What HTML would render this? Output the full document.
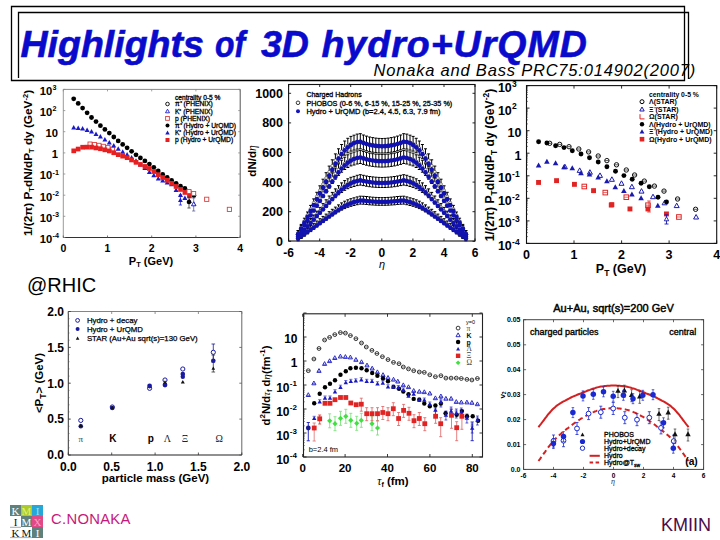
<!DOCTYPE html>
<html><head><meta charset="utf-8"><style>
html,body{margin:0;padding:0;background:#fff;}
body{width:720px;height:540px;position:relative;overflow:hidden;}
svg{position:absolute;left:0;top:0;}

</style></head><body>
<svg width="720" height="540" viewBox="0 0 720 540" font-family="Liberation Sans, sans-serif">
<path d="M11.5 6.5 H684.5 V80.5 H11.5 Z" fill="none" stroke="#000" stroke-width="1.3"/>
<path d="M18.5 78 V12.5 H688.5 V79" fill="none" stroke="#000" stroke-width="1.3"/>
<rect x="10" y="505" width="11" height="11" fill="#5f807b"/>
<text x="15.5" y="514.5" font-family="Liberation Serif" font-size="11" fill="#fff" text-anchor="middle">K</text>
<rect x="21" y="505" width="11" height="11" fill="#a9cc2c"/>
<text x="26.5" y="514.5" font-family="Liberation Serif" font-size="11" fill="#e8f070" text-anchor="middle">M</text>
<rect x="32" y="505" width="11" height="11" fill="#27a6d8"/>
<text x="37.5" y="514.5" font-family="Liberation Serif" font-size="11" fill="#9fe0f8" text-anchor="middle">I</text>
<rect x="10" y="516" width="11" height="11" fill="#ffffff"/>
<text x="15.5" y="525.5" font-family="Liberation Serif" font-size="11" fill="#111" text-anchor="middle">I</text>
<rect x="21" y="516" width="11" height="11" fill="#5f807b"/>
<text x="26.5" y="525.5" font-family="Liberation Serif" font-size="11" fill="#fff" text-anchor="middle">M</text>
<rect x="32" y="516" width="11" height="11" fill="#e04a86"/>
<text x="37.5" y="525.5" font-family="Liberation Serif" font-size="11" fill="#f8a0c0" text-anchor="middle">X</text>
<rect x="10" y="527" width="11" height="11" fill="#ffffff"/>
<text x="15.5" y="536.5" font-family="Liberation Serif" font-size="11" fill="#111" text-anchor="middle">K</text>
<rect x="21" y="527" width="11" height="11" fill="#ffffff"/>
<text x="26.5" y="536.5" font-family="Liberation Serif" font-size="11" fill="#111" text-anchor="middle">M</text>
<rect x="32" y="527" width="11" height="11" fill="#5f807b"/>
<text x="37.5" y="536.5" font-family="Liberation Serif" font-size="11" fill="#fff" text-anchor="middle">I</text>
<line x1="10" y1="527.3" x2="21" y2="527.3" stroke="#8a9a98" stroke-width="0.8"/>
<line x1="10" y1="537.6" x2="32" y2="537.6" stroke="#8a9a98" stroke-width="0.8"/>
<line x1="63.3" y1="89.4" x2="240.2" y2="89.4" stroke="#8a8a8a" stroke-width="1" />
<line x1="63.3" y1="89.4" x2="63.3" y2="237.5" stroke="#9a9a9a" stroke-width="1" />
<line x1="63.3" y1="237.5" x2="240.2" y2="237.5" stroke="#333" stroke-width="1.2" />
<line x1="240.2" y1="89.4" x2="240.2" y2="237.5" stroke="#555" stroke-width="1" />
<line x1="63.3" y1="89.4" x2="65.3" y2="89.4" stroke="#888" stroke-width="0.8" />
<line x1="238.2" y1="89.4" x2="240.2" y2="89.4" stroke="#888" stroke-width="0.8" />
<line x1="63.3" y1="110.6" x2="65.3" y2="110.6" stroke="#888" stroke-width="0.8" />
<line x1="238.2" y1="110.6" x2="240.2" y2="110.6" stroke="#888" stroke-width="0.8" />
<line x1="63.3" y1="131.7" x2="65.3" y2="131.7" stroke="#888" stroke-width="0.8" />
<line x1="238.2" y1="131.7" x2="240.2" y2="131.7" stroke="#888" stroke-width="0.8" />
<line x1="63.3" y1="152.9" x2="65.3" y2="152.9" stroke="#888" stroke-width="0.8" />
<line x1="238.2" y1="152.9" x2="240.2" y2="152.9" stroke="#888" stroke-width="0.8" />
<line x1="63.3" y1="174.0" x2="65.3" y2="174.0" stroke="#888" stroke-width="0.8" />
<line x1="238.2" y1="174.0" x2="240.2" y2="174.0" stroke="#888" stroke-width="0.8" />
<line x1="63.3" y1="195.2" x2="65.3" y2="195.2" stroke="#888" stroke-width="0.8" />
<line x1="238.2" y1="195.2" x2="240.2" y2="195.2" stroke="#888" stroke-width="0.8" />
<line x1="63.3" y1="216.3" x2="65.3" y2="216.3" stroke="#888" stroke-width="0.8" />
<line x1="238.2" y1="216.3" x2="240.2" y2="216.3" stroke="#888" stroke-width="0.8" />
<line x1="63.3" y1="237.5" x2="65.3" y2="237.5" stroke="#888" stroke-width="0.8" />
<line x1="238.2" y1="237.5" x2="240.2" y2="237.5" stroke="#888" stroke-width="0.8" />
<line x1="63.3" y1="237.5" x2="63.3" y2="235.5" stroke="#555" stroke-width="0.8" />
<line x1="63.3" y1="89.4" x2="63.3" y2="91.4" stroke="#888" stroke-width="0.8" />
<line x1="107.5" y1="237.5" x2="107.5" y2="235.5" stroke="#555" stroke-width="0.8" />
<line x1="107.5" y1="89.4" x2="107.5" y2="91.4" stroke="#888" stroke-width="0.8" />
<line x1="151.7" y1="237.5" x2="151.7" y2="235.5" stroke="#555" stroke-width="0.8" />
<line x1="151.7" y1="89.4" x2="151.7" y2="91.4" stroke="#888" stroke-width="0.8" />
<line x1="195.9" y1="237.5" x2="195.9" y2="235.5" stroke="#555" stroke-width="0.8" />
<line x1="195.9" y1="89.4" x2="195.9" y2="91.4" stroke="#888" stroke-width="0.8" />
<line x1="240.1" y1="237.5" x2="240.1" y2="235.5" stroke="#555" stroke-width="0.8" />
<line x1="240.1" y1="89.4" x2="240.1" y2="91.4" stroke="#888" stroke-width="0.8" />
<text x="52.3" y="94.7" font-size="11.2" font-weight="bold" text-anchor="end">10</text>
<text x="52.6" y="90.1" font-size="7.2" font-weight="bold">3</text>
<text x="52.3" y="115.9" font-size="11.2" font-weight="bold" text-anchor="end">10</text>
<text x="52.6" y="111.3" font-size="7.2" font-weight="bold">2</text>
<text x="58.0" y="137.0" font-size="11.2" font-weight="bold" text-anchor="end" fill="#000" >10</text>
<text x="58.0" y="158.2" font-size="11.2" font-weight="bold" text-anchor="end" fill="#000" >1</text>
<text x="52.3" y="179.3" font-size="11.2" font-weight="bold" text-anchor="end">10</text>
<text x="52.6" y="174.7" font-size="7.2" font-weight="bold">-1</text>
<text x="52.3" y="200.5" font-size="11.2" font-weight="bold" text-anchor="end">10</text>
<text x="52.6" y="195.9" font-size="7.2" font-weight="bold">-2</text>
<text x="52.3" y="221.6" font-size="11.2" font-weight="bold" text-anchor="end">10</text>
<text x="52.6" y="217.0" font-size="7.2" font-weight="bold">-3</text>
<text x="52.3" y="242.8" font-size="11.2" font-weight="bold" text-anchor="end">10</text>
<text x="52.6" y="238.2" font-size="7.2" font-weight="bold">-4</text>
<text x="63.3" y="251.5" font-size="10.5" font-weight="bold" text-anchor="middle" fill="#000" >0</text>
<text x="107.5" y="251.5" font-size="10.5" font-weight="bold" text-anchor="middle" fill="#000" >1</text>
<text x="151.7" y="251.5" font-size="10.5" font-weight="bold" text-anchor="middle" fill="#000" >2</text>
<text x="195.9" y="251.5" font-size="10.5" font-weight="bold" text-anchor="middle" fill="#000" >3</text>
<text x="240.1" y="251.5" font-size="10.5" font-weight="bold" text-anchor="middle" fill="#000" >4</text>
<text x="151" y="265" font-size="11" font-weight="bold" text-anchor="middle">P<tspan font-size="7.5" dy="2">T</tspan><tspan dy="-2"> (GeV)</tspan></text>
<text transform="translate(32,163) rotate(-90)" font-size="11.8" font-weight="bold" text-anchor="middle">1/(2π) P<tspan font-size="7.5" dy="2">T</tspan><tspan dy="-2">dN/dP</tspan><tspan font-size="7.5" dy="2">T</tspan><tspan dy="-2"> dy (GeV</tspan><tspan font-size="7.5" dy="-4">-2</tspan><tspan dy="4">)</tspan></text>
<rect x="88.0" y="142.0" width="4.0" height="4.0" fill="#fff" stroke="#e04040" stroke-width="0.9"/>
<rect x="92.5" y="142.5" width="4.0" height="4.0" fill="#fff" stroke="#e04040" stroke-width="0.9"/>
<rect x="97.0" y="143.3" width="4.0" height="4.0" fill="#fff" stroke="#e04040" stroke-width="0.9"/>
<rect x="101.5" y="144.3" width="4.0" height="4.0" fill="#fff" stroke="#e04040" stroke-width="0.9"/>
<rect x="106.0" y="145.4" width="4.0" height="4.0" fill="#fff" stroke="#e04040" stroke-width="0.9"/>
<rect x="110.5" y="147.1" width="4.0" height="4.0" fill="#fff" stroke="#e04040" stroke-width="0.9"/>
<circle cx="73.7" cy="98.8" r="2.4" fill="#000"/>
<circle cx="78.2" cy="103.4" r="2.4" fill="#000"/>
<circle cx="82.6" cy="108.1" r="2.4" fill="#000"/>
<circle cx="87.1" cy="112.8" r="2.4" fill="#000"/>
<circle cx="91.5" cy="117.5" r="2.4" fill="#000"/>
<circle cx="96.0" cy="121.6" r="2.4" fill="#000"/>
<circle cx="100.4" cy="125.7" r="2.4" fill="#000"/>
<circle cx="104.9" cy="129.4" r="2.4" fill="#000"/>
<circle cx="109.3" cy="133.1" r="2.4" fill="#000"/>
<circle cx="113.8" cy="137.0" r="2.4" fill="#000"/>
<circle cx="118.2" cy="140.9" r="2.4" fill="#000"/>
<circle cx="122.7" cy="144.4" r="2.4" fill="#000"/>
<circle cx="127.1" cy="147.8" r="2.4" fill="#000"/>
<circle cx="131.6" cy="151.3" r="2.4" fill="#000"/>
<circle cx="136.0" cy="154.8" r="2.4" fill="#000"/>
<circle cx="140.4" cy="157.9" r="2.4" fill="#000"/>
<circle cx="144.9" cy="160.9" r="2.4" fill="#000"/>
<circle cx="149.4" cy="164.1" r="2.4" fill="#000"/>
<circle cx="153.8" cy="167.3" r="2.4" fill="#000"/>
<circle cx="158.2" cy="170.9" r="2.4" fill="#000"/>
<circle cx="162.7" cy="174.4" r="2.4" fill="#000"/>
<circle cx="167.2" cy="177.4" r="2.4" fill="#000"/>
<circle cx="171.6" cy="180.5" r="2.4" fill="#000"/>
<circle cx="176.1" cy="183.3" r="2.4" fill="#000"/>
<circle cx="180.5" cy="186.2" r="2.4" fill="#000"/>
<circle cx="184.9" cy="188.5" r="2.4" fill="#000"/>
<circle cx="189.4" cy="192.1" r="2.4" fill="#000"/>
<circle cx="193.9" cy="195.6" r="2.4" fill="#000"/>
<path d="M73.7 125.0 L76.2 129.5 L71.2 129.5 Z" fill="#1a1acc"/>
<path d="M78.2 125.4 L80.7 129.9 L75.7 129.9 Z" fill="#1a1acc"/>
<path d="M82.6 125.9 L85.1 130.4 L80.1 130.4 Z" fill="#1a1acc"/>
<path d="M87.1 127.5 L89.6 132.0 L84.6 132.0 Z" fill="#1a1acc"/>
<path d="M91.5 129.1 L94.0 133.6 L89.0 133.6 Z" fill="#1a1acc"/>
<path d="M96.0 131.6 L98.5 136.1 L93.5 136.1 Z" fill="#1a1acc"/>
<path d="M100.4 134.0 L102.9 138.5 L97.9 138.5 Z" fill="#1a1acc"/>
<path d="M104.9 136.9 L107.4 141.4 L102.4 141.4 Z" fill="#1a1acc"/>
<path d="M109.3 139.9 L111.8 144.4 L106.8 144.4 Z" fill="#1a1acc"/>
<path d="M113.8 143.0 L116.2 147.5 L111.2 147.5 Z" fill="#1a1acc"/>
<path d="M118.2 146.2 L120.7 150.7 L115.7 150.7 Z" fill="#1a1acc"/>
<path d="M122.7 149.2 L125.2 153.7 L120.2 153.7 Z" fill="#1a1acc"/>
<path d="M127.1 152.1 L129.6 156.6 L124.6 156.6 Z" fill="#1a1acc"/>
<path d="M131.6 155.1 L134.1 159.6 L129.1 159.6 Z" fill="#1a1acc"/>
<path d="M136.0 158.2 L138.5 162.7 L133.5 162.7 Z" fill="#1a1acc"/>
<path d="M140.4 161.9 L142.9 166.4 L137.9 166.4 Z" fill="#1a1acc"/>
<path d="M144.9 165.6 L147.4 170.1 L142.4 170.1 Z" fill="#1a1acc"/>
<path d="M149.4 169.4 L151.9 173.9 L146.9 173.9 Z" fill="#1a1acc"/>
<path d="M153.8 172.8 L156.3 177.2 L151.3 177.2 Z" fill="#1a1acc"/>
<path d="M158.2 176.1 L160.8 180.6 L155.8 180.6 Z" fill="#1a1acc"/>
<path d="M162.7 178.0 L165.2 182.5 L160.2 182.5 Z" fill="#1a1acc"/>
<path d="M167.2 179.9 L169.7 184.4 L164.7 184.4 Z" fill="#1a1acc"/>
<path d="M171.6 181.8 L174.1 186.3 L169.1 186.3 Z" fill="#1a1acc"/>
<path d="M176.1 187.6 L178.6 192.1 L173.6 192.1 Z" fill="#1a1acc"/>
<path d="M180.5 192.6 L183.0 197.1 L178.0 197.1 Z" fill="#1a1acc"/>
<path d="M184.9 195.6 L187.4 200.1 L182.4 200.1 Z" fill="#1a1acc"/>
<path d="M189.4 198.6 L191.9 203.1 L186.9 203.1 Z" fill="#1a1acc"/>
<path d="M193.9 201.5 L196.4 206.0 L191.4 206.0 Z" fill="#1a1acc"/>
<rect x="71.4" y="148.5" width="4.7" height="4.7" fill="#e62020"/>
<rect x="75.8" y="146.7" width="4.7" height="4.7" fill="#e62020"/>
<rect x="80.3" y="144.9" width="4.7" height="4.7" fill="#e62020"/>
<rect x="84.7" y="144.8" width="4.7" height="4.7" fill="#e62020"/>
<rect x="89.2" y="144.8" width="4.7" height="4.7" fill="#e62020"/>
<rect x="93.6" y="145.6" width="4.7" height="4.7" fill="#e62020"/>
<rect x="98.1" y="146.4" width="4.7" height="4.7" fill="#e62020"/>
<rect x="102.5" y="147.5" width="4.7" height="4.7" fill="#e62020"/>
<rect x="107.0" y="148.6" width="4.7" height="4.7" fill="#e62020"/>
<rect x="111.4" y="150.4" width="4.7" height="4.7" fill="#e62020"/>
<rect x="115.9" y="152.3" width="4.7" height="4.7" fill="#e62020"/>
<rect x="120.3" y="153.8" width="4.7" height="4.7" fill="#e62020"/>
<rect x="124.8" y="155.3" width="4.7" height="4.7" fill="#e62020"/>
<rect x="129.2" y="157.6" width="4.7" height="4.7" fill="#e62020"/>
<rect x="133.7" y="160.0" width="4.7" height="4.7" fill="#e62020"/>
<rect x="138.1" y="162.1" width="4.7" height="4.7" fill="#e62020"/>
<rect x="142.6" y="164.1" width="4.7" height="4.7" fill="#e62020"/>
<rect x="147.0" y="166.1" width="4.7" height="4.7" fill="#e62020"/>
<rect x="151.5" y="169.2" width="4.7" height="4.7" fill="#e62020"/>
<rect x="155.9" y="172.3" width="4.7" height="4.7" fill="#e62020"/>
<rect x="160.3" y="175.2" width="4.7" height="4.7" fill="#e62020"/>
<rect x="164.8" y="178.0" width="4.7" height="4.7" fill="#e62020"/>
<rect x="169.3" y="181.0" width="4.7" height="4.7" fill="#e62020"/>
<rect x="173.7" y="184.1" width="4.7" height="4.7" fill="#e62020"/>
<rect x="178.2" y="187.1" width="4.7" height="4.7" fill="#e62020"/>
<rect x="182.6" y="190.1" width="4.7" height="4.7" fill="#e62020"/>
<rect x="187.1" y="193.6" width="4.7" height="4.7" fill="#e62020"/>
<line x1="180.4" y1="195.0" x2="180.4" y2="205.0" stroke="#1a1acc" stroke-width="0.8" />
<line x1="178.8" y1="195.0" x2="182.0" y2="195.0" stroke="#1a1acc" stroke-width="0.8" />
<line x1="178.8" y1="205.0" x2="182.0" y2="205.0" stroke="#1a1acc" stroke-width="0.8" />
<path d="M180.4 197.8 L182.8 202.1 L178.0 202.1 Z" fill="#1a1acc"/>
<line x1="189.0" y1="197.0" x2="189.0" y2="208.0" stroke="#333" stroke-width="0.8" />
<line x1="187.4" y1="197.0" x2="190.6" y2="197.0" stroke="#333" stroke-width="0.8" />
<line x1="187.4" y1="208.0" x2="190.6" y2="208.0" stroke="#333" stroke-width="0.8" />
<circle cx="189.0" cy="202.0" r="2.3" fill="#000"/>
<line x1="193.7" y1="198.0" x2="193.7" y2="211.0" stroke="#6060a0" stroke-width="0.8" />
<line x1="192.1" y1="198.0" x2="195.3" y2="198.0" stroke="#6060a0" stroke-width="0.8" />
<line x1="192.1" y1="211.0" x2="195.3" y2="211.0" stroke="#6060a0" stroke-width="0.8" />
<path d="M193.7 201.8 L195.9 205.8 L191.5 205.8 Z" fill="#fff" stroke="#1a1acc" stroke-width="0.9"/>
<rect x="191.7" y="191.5" width="4.0" height="4.0" fill="#fff" stroke="#e04040" stroke-width="0.9"/>
<rect x="187.0" y="189.5" width="4.0" height="4.0" fill="#fff" stroke="#e04040" stroke-width="0.9"/>
<rect x="204.6" y="197.2" width="4.2" height="4.2" fill="#fff" stroke="#e04040" stroke-width="0.9"/>
<rect x="227.3" y="207.3" width="4.2" height="4.2" fill="#fff" stroke="#e04040" stroke-width="0.9"/>
<text x="175.0" y="99.5" font-size="6.6" font-weight="normal" text-anchor="start" fill="#000" stroke="#000" stroke-width="0.3">centrality 0-5 %</text>
<circle cx="167.5" cy="104.0" r="1.8" fill="#fff" stroke="#000" stroke-width="0.9"/>
<text x="175.0" y="106.3" font-size="6.7" font-weight="normal" text-anchor="start" fill="#000" stroke="#000" stroke-width="0.3">π⁺ (PHENIX)</text>
<path d="M167.5 109.2 L169.5 112.8 L165.5 112.8 Z" fill="#fff" stroke="#1a1acc" stroke-width="0.9"/>
<text x="175.0" y="113.5" font-size="6.7" font-weight="normal" text-anchor="start" fill="#000" stroke="#000" stroke-width="0.3">K⁺ (PHENIX)</text>
<rect x="165.6" y="116.5" width="3.8" height="3.8" fill="#fff" stroke="#e04040" stroke-width="0.9"/>
<text x="175.0" y="120.7" font-size="6.7" font-weight="normal" text-anchor="start" fill="#000" stroke="#000" stroke-width="0.3">p (PHENIX)</text>
<circle cx="167.5" cy="125.6" r="2" fill="#000"/>
<text x="175.0" y="127.9" font-size="6.7" font-weight="normal" text-anchor="start" fill="#000" stroke="#000" stroke-width="0.3">π⁺ (Hydro + UrQMD)</text>
<path d="M167.5 130.6 L169.7 134.6 L165.3 134.6 Z" fill="#1a1acc"/>
<text x="175.0" y="135.1" font-size="6.7" font-weight="normal" text-anchor="start" fill="#000" stroke="#000" stroke-width="0.3">K⁺ (Hydro + UrQMD)</text>
<rect x="165.5" y="138.0" width="4.0" height="4.0" fill="#e62020"/>
<text x="175.0" y="142.3" font-size="6.7" font-weight="normal" text-anchor="start" fill="#000" stroke="#000" stroke-width="0.3">p (Hydro + UrQMD)</text>
<rect x="288.6" y="84.5" width="186.4" height="156.5" fill="none" stroke="#111" stroke-width="1.1"/>
<line x1="288.6" y1="241.3" x2="291.1" y2="241.3" stroke="#111" stroke-width="0.9" />
<line x1="472.5" y1="241.3" x2="475.0" y2="241.3" stroke="#111" stroke-width="0.9" />
<text x="283.0" y="245.8" font-size="12.5" font-weight="bold" text-anchor="end" fill="#000" >0</text>
<line x1="288.6" y1="211.7" x2="291.1" y2="211.7" stroke="#111" stroke-width="0.9" />
<line x1="472.5" y1="211.7" x2="475.0" y2="211.7" stroke="#111" stroke-width="0.9" />
<text x="283.0" y="216.2" font-size="12.5" font-weight="bold" text-anchor="end" fill="#000" >200</text>
<line x1="288.6" y1="182.1" x2="291.1" y2="182.1" stroke="#111" stroke-width="0.9" />
<line x1="472.5" y1="182.1" x2="475.0" y2="182.1" stroke="#111" stroke-width="0.9" />
<text x="283.0" y="186.6" font-size="12.5" font-weight="bold" text-anchor="end" fill="#000" >400</text>
<line x1="288.6" y1="152.5" x2="291.1" y2="152.5" stroke="#111" stroke-width="0.9" />
<line x1="472.5" y1="152.5" x2="475.0" y2="152.5" stroke="#111" stroke-width="0.9" />
<text x="283.0" y="157.0" font-size="12.5" font-weight="bold" text-anchor="end" fill="#000" >600</text>
<line x1="288.6" y1="122.9" x2="291.1" y2="122.9" stroke="#111" stroke-width="0.9" />
<line x1="472.5" y1="122.9" x2="475.0" y2="122.9" stroke="#111" stroke-width="0.9" />
<text x="283.0" y="127.4" font-size="12.5" font-weight="bold" text-anchor="end" fill="#000" >800</text>
<line x1="288.6" y1="93.3" x2="291.1" y2="93.3" stroke="#111" stroke-width="0.9" />
<line x1="472.5" y1="93.3" x2="475.0" y2="93.3" stroke="#111" stroke-width="0.9" />
<text x="283.0" y="97.8" font-size="12.5" font-weight="bold" text-anchor="end" fill="#000" >1000</text>
<line x1="288.6" y1="241.0" x2="288.6" y2="238.5" stroke="#111" stroke-width="0.9" />
<line x1="288.6" y1="84.5" x2="288.6" y2="87.0" stroke="#111" stroke-width="0.9" />
<text x="288.6" y="256.8" font-size="12" font-weight="bold" text-anchor="middle" fill="#000" >-6</text>
<line x1="319.7" y1="241.0" x2="319.7" y2="238.5" stroke="#111" stroke-width="0.9" />
<line x1="319.7" y1="84.5" x2="319.7" y2="87.0" stroke="#111" stroke-width="0.9" />
<text x="319.7" y="256.8" font-size="12" font-weight="bold" text-anchor="middle" fill="#000" >-4</text>
<line x1="350.7" y1="241.0" x2="350.7" y2="238.5" stroke="#111" stroke-width="0.9" />
<line x1="350.7" y1="84.5" x2="350.7" y2="87.0" stroke="#111" stroke-width="0.9" />
<text x="350.7" y="256.8" font-size="12" font-weight="bold" text-anchor="middle" fill="#000" >-2</text>
<line x1="381.8" y1="241.0" x2="381.8" y2="238.5" stroke="#111" stroke-width="0.9" />
<line x1="381.8" y1="84.5" x2="381.8" y2="87.0" stroke="#111" stroke-width="0.9" />
<text x="381.8" y="256.8" font-size="12" font-weight="bold" text-anchor="middle" fill="#000" >0</text>
<line x1="412.9" y1="241.0" x2="412.9" y2="238.5" stroke="#111" stroke-width="0.9" />
<line x1="412.9" y1="84.5" x2="412.9" y2="87.0" stroke="#111" stroke-width="0.9" />
<text x="412.9" y="256.8" font-size="12" font-weight="bold" text-anchor="middle" fill="#000" >2</text>
<line x1="444.0" y1="241.0" x2="444.0" y2="238.5" stroke="#111" stroke-width="0.9" />
<line x1="444.0" y1="84.5" x2="444.0" y2="87.0" stroke="#111" stroke-width="0.9" />
<text x="444.0" y="256.8" font-size="12" font-weight="bold" text-anchor="middle" fill="#000" >4</text>
<line x1="475.0" y1="241.0" x2="475.0" y2="238.5" stroke="#111" stroke-width="0.9" />
<line x1="475.0" y1="84.5" x2="475.0" y2="87.0" stroke="#111" stroke-width="0.9" />
<text x="475.0" y="256.8" font-size="12" font-weight="bold" text-anchor="middle" fill="#000" >6</text>
<text x="382" y="268" font-size="11" font-style="italic" text-anchor="middle">η</text>
<text transform="translate(255.5,161) rotate(-90)" font-size="11.5" font-weight="bold" text-anchor="middle">dN/d<tspan font-family="Liberation Serif" font-weight="normal" font-style="italic">η</tspan></text>
<line x1="298.1" y1="230.6" x2="298.1" y2="236.6" stroke="#000" stroke-width="1.0" />
<line x1="296.6" y1="230.6" x2="299.6" y2="230.6" stroke="#000" stroke-width="1.0" />
<line x1="296.6" y1="236.6" x2="299.6" y2="236.6" stroke="#000" stroke-width="1.0" />
<line x1="301.2" y1="224.4" x2="301.2" y2="230.4" stroke="#000" stroke-width="1.0" />
<line x1="299.7" y1="224.4" x2="302.7" y2="224.4" stroke="#000" stroke-width="1.0" />
<line x1="299.7" y1="230.4" x2="302.7" y2="230.4" stroke="#000" stroke-width="1.0" />
<line x1="304.4" y1="218.2" x2="304.4" y2="224.2" stroke="#000" stroke-width="1.0" />
<line x1="302.9" y1="218.2" x2="305.9" y2="218.2" stroke="#000" stroke-width="1.0" />
<line x1="302.9" y1="224.2" x2="305.9" y2="224.2" stroke="#000" stroke-width="1.0" />
<line x1="307.5" y1="212.0" x2="307.5" y2="218.1" stroke="#000" stroke-width="1.0" />
<line x1="306.0" y1="212.0" x2="309.0" y2="212.0" stroke="#000" stroke-width="1.0" />
<line x1="306.0" y1="218.1" x2="309.0" y2="218.1" stroke="#000" stroke-width="1.0" />
<line x1="310.6" y1="205.4" x2="310.6" y2="212.3" stroke="#000" stroke-width="1.0" />
<line x1="309.1" y1="205.4" x2="312.1" y2="205.4" stroke="#000" stroke-width="1.0" />
<line x1="309.1" y1="212.3" x2="312.1" y2="212.3" stroke="#000" stroke-width="1.0" />
<line x1="313.7" y1="198.9" x2="313.7" y2="206.5" stroke="#000" stroke-width="1.0" />
<line x1="312.2" y1="198.9" x2="315.2" y2="198.9" stroke="#000" stroke-width="1.0" />
<line x1="312.2" y1="206.5" x2="315.2" y2="206.5" stroke="#000" stroke-width="1.0" />
<line x1="316.8" y1="192.3" x2="316.8" y2="200.7" stroke="#000" stroke-width="1.0" />
<line x1="315.3" y1="192.3" x2="318.3" y2="192.3" stroke="#000" stroke-width="1.0" />
<line x1="315.3" y1="200.7" x2="318.3" y2="200.7" stroke="#000" stroke-width="1.0" />
<line x1="319.9" y1="185.8" x2="319.9" y2="194.9" stroke="#000" stroke-width="1.0" />
<line x1="318.4" y1="185.8" x2="321.4" y2="185.8" stroke="#000" stroke-width="1.0" />
<line x1="318.4" y1="194.9" x2="321.4" y2="194.9" stroke="#000" stroke-width="1.0" />
<line x1="323.0" y1="179.2" x2="323.0" y2="189.1" stroke="#000" stroke-width="1.0" />
<line x1="321.5" y1="179.2" x2="324.5" y2="179.2" stroke="#000" stroke-width="1.0" />
<line x1="321.5" y1="189.1" x2="324.5" y2="189.1" stroke="#000" stroke-width="1.0" />
<line x1="326.1" y1="172.7" x2="326.1" y2="183.3" stroke="#000" stroke-width="1.0" />
<line x1="324.6" y1="172.7" x2="327.6" y2="172.7" stroke="#000" stroke-width="1.0" />
<line x1="324.6" y1="183.3" x2="327.6" y2="183.3" stroke="#000" stroke-width="1.0" />
<line x1="329.2" y1="166.1" x2="329.2" y2="177.5" stroke="#000" stroke-width="1.0" />
<line x1="327.7" y1="166.1" x2="330.7" y2="166.1" stroke="#000" stroke-width="1.0" />
<line x1="327.7" y1="177.5" x2="330.7" y2="177.5" stroke="#000" stroke-width="1.0" />
<line x1="332.3" y1="159.8" x2="332.3" y2="171.9" stroke="#000" stroke-width="1.0" />
<line x1="330.8" y1="159.8" x2="333.8" y2="159.8" stroke="#000" stroke-width="1.0" />
<line x1="330.8" y1="171.9" x2="333.8" y2="171.9" stroke="#000" stroke-width="1.0" />
<line x1="335.4" y1="153.9" x2="335.4" y2="166.7" stroke="#000" stroke-width="1.0" />
<line x1="333.9" y1="153.9" x2="336.9" y2="153.9" stroke="#000" stroke-width="1.0" />
<line x1="333.9" y1="166.7" x2="336.9" y2="166.7" stroke="#000" stroke-width="1.0" />
<line x1="338.5" y1="148.8" x2="338.5" y2="162.1" stroke="#000" stroke-width="1.0" />
<line x1="337.0" y1="148.8" x2="340.0" y2="148.8" stroke="#000" stroke-width="1.0" />
<line x1="337.0" y1="162.1" x2="340.0" y2="162.1" stroke="#000" stroke-width="1.0" />
<line x1="341.6" y1="144.5" x2="341.6" y2="158.3" stroke="#000" stroke-width="1.0" />
<line x1="340.1" y1="144.5" x2="343.1" y2="144.5" stroke="#000" stroke-width="1.0" />
<line x1="340.1" y1="158.3" x2="343.1" y2="158.3" stroke="#000" stroke-width="1.0" />
<line x1="344.7" y1="141.0" x2="344.7" y2="155.2" stroke="#000" stroke-width="1.0" />
<line x1="343.2" y1="141.0" x2="346.2" y2="141.0" stroke="#000" stroke-width="1.0" />
<line x1="343.2" y1="155.2" x2="346.2" y2="155.2" stroke="#000" stroke-width="1.0" />
<line x1="347.8" y1="138.3" x2="347.8" y2="152.8" stroke="#000" stroke-width="1.0" />
<line x1="346.3" y1="138.3" x2="349.3" y2="138.3" stroke="#000" stroke-width="1.0" />
<line x1="346.3" y1="152.8" x2="349.3" y2="152.8" stroke="#000" stroke-width="1.0" />
<line x1="350.9" y1="136.4" x2="350.9" y2="151.1" stroke="#000" stroke-width="1.0" />
<line x1="349.4" y1="136.4" x2="352.4" y2="136.4" stroke="#000" stroke-width="1.0" />
<line x1="349.4" y1="151.1" x2="352.4" y2="151.1" stroke="#000" stroke-width="1.0" />
<line x1="354.0" y1="135.2" x2="354.0" y2="150.1" stroke="#000" stroke-width="1.0" />
<line x1="352.5" y1="135.2" x2="355.5" y2="135.2" stroke="#000" stroke-width="1.0" />
<line x1="352.5" y1="150.1" x2="355.5" y2="150.1" stroke="#000" stroke-width="1.0" />
<line x1="357.2" y1="134.1" x2="357.2" y2="149.1" stroke="#000" stroke-width="1.0" />
<line x1="355.7" y1="134.1" x2="358.7" y2="134.1" stroke="#000" stroke-width="1.0" />
<line x1="355.7" y1="149.1" x2="358.7" y2="149.1" stroke="#000" stroke-width="1.0" />
<line x1="360.3" y1="133.7" x2="360.3" y2="148.8" stroke="#000" stroke-width="1.0" />
<line x1="358.8" y1="133.7" x2="361.8" y2="133.7" stroke="#000" stroke-width="1.0" />
<line x1="358.8" y1="148.8" x2="361.8" y2="148.8" stroke="#000" stroke-width="1.0" />
<line x1="363.4" y1="135.0" x2="363.4" y2="149.9" stroke="#000" stroke-width="1.0" />
<line x1="361.9" y1="135.0" x2="364.9" y2="135.0" stroke="#000" stroke-width="1.0" />
<line x1="361.9" y1="149.9" x2="364.9" y2="149.9" stroke="#000" stroke-width="1.0" />
<line x1="366.5" y1="136.1" x2="366.5" y2="150.8" stroke="#000" stroke-width="1.0" />
<line x1="365.0" y1="136.1" x2="368.0" y2="136.1" stroke="#000" stroke-width="1.0" />
<line x1="365.0" y1="150.8" x2="368.0" y2="150.8" stroke="#000" stroke-width="1.0" />
<line x1="369.6" y1="137.0" x2="369.6" y2="151.6" stroke="#000" stroke-width="1.0" />
<line x1="368.1" y1="137.0" x2="371.1" y2="137.0" stroke="#000" stroke-width="1.0" />
<line x1="368.1" y1="151.6" x2="371.1" y2="151.6" stroke="#000" stroke-width="1.0" />
<line x1="372.7" y1="137.6" x2="372.7" y2="152.2" stroke="#000" stroke-width="1.0" />
<line x1="371.2" y1="137.6" x2="374.2" y2="137.6" stroke="#000" stroke-width="1.0" />
<line x1="371.2" y1="152.2" x2="374.2" y2="152.2" stroke="#000" stroke-width="1.0" />
<line x1="375.8" y1="138.1" x2="375.8" y2="152.6" stroke="#000" stroke-width="1.0" />
<line x1="374.3" y1="138.1" x2="377.3" y2="138.1" stroke="#000" stroke-width="1.0" />
<line x1="374.3" y1="152.6" x2="377.3" y2="152.6" stroke="#000" stroke-width="1.0" />
<line x1="378.9" y1="138.4" x2="378.9" y2="152.9" stroke="#000" stroke-width="1.0" />
<line x1="377.4" y1="138.4" x2="380.4" y2="138.4" stroke="#000" stroke-width="1.0" />
<line x1="377.4" y1="152.9" x2="380.4" y2="152.9" stroke="#000" stroke-width="1.0" />
<line x1="382.0" y1="138.5" x2="382.0" y2="153.0" stroke="#000" stroke-width="1.0" />
<line x1="380.5" y1="138.5" x2="383.5" y2="138.5" stroke="#000" stroke-width="1.0" />
<line x1="380.5" y1="153.0" x2="383.5" y2="153.0" stroke="#000" stroke-width="1.0" />
<line x1="385.1" y1="138.4" x2="385.1" y2="152.9" stroke="#000" stroke-width="1.0" />
<line x1="383.6" y1="138.4" x2="386.6" y2="138.4" stroke="#000" stroke-width="1.0" />
<line x1="383.6" y1="152.9" x2="386.6" y2="152.9" stroke="#000" stroke-width="1.0" />
<line x1="388.2" y1="138.1" x2="388.2" y2="152.6" stroke="#000" stroke-width="1.0" />
<line x1="386.7" y1="138.1" x2="389.7" y2="138.1" stroke="#000" stroke-width="1.0" />
<line x1="386.7" y1="152.6" x2="389.7" y2="152.6" stroke="#000" stroke-width="1.0" />
<line x1="391.3" y1="137.6" x2="391.3" y2="152.2" stroke="#000" stroke-width="1.0" />
<line x1="389.8" y1="137.6" x2="392.8" y2="137.6" stroke="#000" stroke-width="1.0" />
<line x1="389.8" y1="152.2" x2="392.8" y2="152.2" stroke="#000" stroke-width="1.0" />
<line x1="394.4" y1="137.0" x2="394.4" y2="151.6" stroke="#000" stroke-width="1.0" />
<line x1="392.9" y1="137.0" x2="395.9" y2="137.0" stroke="#000" stroke-width="1.0" />
<line x1="392.9" y1="151.6" x2="395.9" y2="151.6" stroke="#000" stroke-width="1.0" />
<line x1="397.5" y1="136.1" x2="397.5" y2="150.8" stroke="#000" stroke-width="1.0" />
<line x1="396.0" y1="136.1" x2="399.0" y2="136.1" stroke="#000" stroke-width="1.0" />
<line x1="396.0" y1="150.8" x2="399.0" y2="150.8" stroke="#000" stroke-width="1.0" />
<line x1="400.6" y1="135.0" x2="400.6" y2="149.9" stroke="#000" stroke-width="1.0" />
<line x1="399.1" y1="135.0" x2="402.1" y2="135.0" stroke="#000" stroke-width="1.0" />
<line x1="399.1" y1="149.9" x2="402.1" y2="149.9" stroke="#000" stroke-width="1.0" />
<line x1="403.7" y1="133.7" x2="403.7" y2="148.8" stroke="#000" stroke-width="1.0" />
<line x1="402.2" y1="133.7" x2="405.2" y2="133.7" stroke="#000" stroke-width="1.0" />
<line x1="402.2" y1="148.8" x2="405.2" y2="148.8" stroke="#000" stroke-width="1.0" />
<line x1="406.8" y1="134.1" x2="406.8" y2="149.1" stroke="#000" stroke-width="1.0" />
<line x1="405.3" y1="134.1" x2="408.3" y2="134.1" stroke="#000" stroke-width="1.0" />
<line x1="405.3" y1="149.1" x2="408.3" y2="149.1" stroke="#000" stroke-width="1.0" />
<line x1="410.0" y1="135.2" x2="410.0" y2="150.1" stroke="#000" stroke-width="1.0" />
<line x1="408.5" y1="135.2" x2="411.5" y2="135.2" stroke="#000" stroke-width="1.0" />
<line x1="408.5" y1="150.1" x2="411.5" y2="150.1" stroke="#000" stroke-width="1.0" />
<line x1="413.1" y1="136.4" x2="413.1" y2="151.1" stroke="#000" stroke-width="1.0" />
<line x1="411.6" y1="136.4" x2="414.6" y2="136.4" stroke="#000" stroke-width="1.0" />
<line x1="411.6" y1="151.1" x2="414.6" y2="151.1" stroke="#000" stroke-width="1.0" />
<line x1="416.2" y1="138.3" x2="416.2" y2="152.8" stroke="#000" stroke-width="1.0" />
<line x1="414.7" y1="138.3" x2="417.7" y2="138.3" stroke="#000" stroke-width="1.0" />
<line x1="414.7" y1="152.8" x2="417.7" y2="152.8" stroke="#000" stroke-width="1.0" />
<line x1="419.3" y1="141.0" x2="419.3" y2="155.2" stroke="#000" stroke-width="1.0" />
<line x1="417.8" y1="141.0" x2="420.8" y2="141.0" stroke="#000" stroke-width="1.0" />
<line x1="417.8" y1="155.2" x2="420.8" y2="155.2" stroke="#000" stroke-width="1.0" />
<line x1="422.4" y1="144.5" x2="422.4" y2="158.3" stroke="#000" stroke-width="1.0" />
<line x1="420.9" y1="144.5" x2="423.9" y2="144.5" stroke="#000" stroke-width="1.0" />
<line x1="420.9" y1="158.3" x2="423.9" y2="158.3" stroke="#000" stroke-width="1.0" />
<line x1="425.5" y1="148.8" x2="425.5" y2="162.1" stroke="#000" stroke-width="1.0" />
<line x1="424.0" y1="148.8" x2="427.0" y2="148.8" stroke="#000" stroke-width="1.0" />
<line x1="424.0" y1="162.1" x2="427.0" y2="162.1" stroke="#000" stroke-width="1.0" />
<line x1="428.6" y1="153.9" x2="428.6" y2="166.7" stroke="#000" stroke-width="1.0" />
<line x1="427.1" y1="153.9" x2="430.1" y2="153.9" stroke="#000" stroke-width="1.0" />
<line x1="427.1" y1="166.7" x2="430.1" y2="166.7" stroke="#000" stroke-width="1.0" />
<line x1="431.7" y1="159.8" x2="431.7" y2="171.9" stroke="#000" stroke-width="1.0" />
<line x1="430.2" y1="159.8" x2="433.2" y2="159.8" stroke="#000" stroke-width="1.0" />
<line x1="430.2" y1="171.9" x2="433.2" y2="171.9" stroke="#000" stroke-width="1.0" />
<line x1="434.8" y1="166.1" x2="434.8" y2="177.5" stroke="#000" stroke-width="1.0" />
<line x1="433.3" y1="166.1" x2="436.3" y2="166.1" stroke="#000" stroke-width="1.0" />
<line x1="433.3" y1="177.5" x2="436.3" y2="177.5" stroke="#000" stroke-width="1.0" />
<line x1="437.9" y1="172.7" x2="437.9" y2="183.3" stroke="#000" stroke-width="1.0" />
<line x1="436.4" y1="172.7" x2="439.4" y2="172.7" stroke="#000" stroke-width="1.0" />
<line x1="436.4" y1="183.3" x2="439.4" y2="183.3" stroke="#000" stroke-width="1.0" />
<line x1="441.0" y1="179.2" x2="441.0" y2="189.1" stroke="#000" stroke-width="1.0" />
<line x1="439.5" y1="179.2" x2="442.5" y2="179.2" stroke="#000" stroke-width="1.0" />
<line x1="439.5" y1="189.1" x2="442.5" y2="189.1" stroke="#000" stroke-width="1.0" />
<line x1="444.1" y1="185.8" x2="444.1" y2="194.9" stroke="#000" stroke-width="1.0" />
<line x1="442.6" y1="185.8" x2="445.6" y2="185.8" stroke="#000" stroke-width="1.0" />
<line x1="442.6" y1="194.9" x2="445.6" y2="194.9" stroke="#000" stroke-width="1.0" />
<line x1="447.2" y1="192.3" x2="447.2" y2="200.7" stroke="#000" stroke-width="1.0" />
<line x1="445.7" y1="192.3" x2="448.7" y2="192.3" stroke="#000" stroke-width="1.0" />
<line x1="445.7" y1="200.7" x2="448.7" y2="200.7" stroke="#000" stroke-width="1.0" />
<line x1="450.3" y1="198.9" x2="450.3" y2="206.5" stroke="#000" stroke-width="1.0" />
<line x1="448.8" y1="198.9" x2="451.8" y2="198.9" stroke="#000" stroke-width="1.0" />
<line x1="448.8" y1="206.5" x2="451.8" y2="206.5" stroke="#000" stroke-width="1.0" />
<line x1="453.4" y1="205.4" x2="453.4" y2="212.3" stroke="#000" stroke-width="1.0" />
<line x1="451.9" y1="205.4" x2="454.9" y2="205.4" stroke="#000" stroke-width="1.0" />
<line x1="451.9" y1="212.3" x2="454.9" y2="212.3" stroke="#000" stroke-width="1.0" />
<line x1="456.5" y1="212.0" x2="456.5" y2="218.1" stroke="#000" stroke-width="1.0" />
<line x1="455.0" y1="212.0" x2="458.0" y2="212.0" stroke="#000" stroke-width="1.0" />
<line x1="455.0" y1="218.1" x2="458.0" y2="218.1" stroke="#000" stroke-width="1.0" />
<line x1="459.6" y1="218.2" x2="459.6" y2="224.2" stroke="#000" stroke-width="1.0" />
<line x1="458.1" y1="218.2" x2="461.1" y2="218.2" stroke="#000" stroke-width="1.0" />
<line x1="458.1" y1="224.2" x2="461.1" y2="224.2" stroke="#000" stroke-width="1.0" />
<line x1="462.8" y1="224.4" x2="462.8" y2="230.4" stroke="#000" stroke-width="1.0" />
<line x1="461.3" y1="224.4" x2="464.3" y2="224.4" stroke="#000" stroke-width="1.0" />
<line x1="461.3" y1="230.4" x2="464.3" y2="230.4" stroke="#000" stroke-width="1.0" />
<line x1="465.9" y1="230.6" x2="465.9" y2="236.6" stroke="#000" stroke-width="1.0" />
<line x1="464.4" y1="230.6" x2="467.4" y2="230.6" stroke="#000" stroke-width="1.0" />
<line x1="464.4" y1="236.6" x2="467.4" y2="236.6" stroke="#000" stroke-width="1.0" />
<line x1="298.1" y1="230.7" x2="298.1" y2="236.7" stroke="#000" stroke-width="1.0" />
<line x1="296.6" y1="230.7" x2="299.6" y2="230.7" stroke="#000" stroke-width="1.0" />
<line x1="296.6" y1="236.7" x2="299.6" y2="236.7" stroke="#000" stroke-width="1.0" />
<line x1="301.2" y1="225.6" x2="301.2" y2="231.6" stroke="#000" stroke-width="1.0" />
<line x1="299.7" y1="225.6" x2="302.7" y2="225.6" stroke="#000" stroke-width="1.0" />
<line x1="299.7" y1="231.6" x2="302.7" y2="231.6" stroke="#000" stroke-width="1.0" />
<line x1="304.4" y1="220.6" x2="304.4" y2="226.6" stroke="#000" stroke-width="1.0" />
<line x1="302.9" y1="220.6" x2="305.9" y2="220.6" stroke="#000" stroke-width="1.0" />
<line x1="302.9" y1="226.6" x2="305.9" y2="226.6" stroke="#000" stroke-width="1.0" />
<line x1="307.5" y1="215.5" x2="307.5" y2="221.5" stroke="#000" stroke-width="1.0" />
<line x1="306.0" y1="215.5" x2="309.0" y2="215.5" stroke="#000" stroke-width="1.0" />
<line x1="306.0" y1="221.5" x2="309.0" y2="221.5" stroke="#000" stroke-width="1.0" />
<line x1="310.6" y1="210.3" x2="310.6" y2="216.6" stroke="#000" stroke-width="1.0" />
<line x1="309.1" y1="210.3" x2="312.1" y2="210.3" stroke="#000" stroke-width="1.0" />
<line x1="309.1" y1="216.6" x2="312.1" y2="216.6" stroke="#000" stroke-width="1.0" />
<line x1="313.7" y1="204.9" x2="313.7" y2="211.9" stroke="#000" stroke-width="1.0" />
<line x1="312.2" y1="204.9" x2="315.2" y2="204.9" stroke="#000" stroke-width="1.0" />
<line x1="312.2" y1="211.9" x2="315.2" y2="211.9" stroke="#000" stroke-width="1.0" />
<line x1="316.8" y1="199.6" x2="316.8" y2="207.1" stroke="#000" stroke-width="1.0" />
<line x1="315.3" y1="199.6" x2="318.3" y2="199.6" stroke="#000" stroke-width="1.0" />
<line x1="315.3" y1="207.1" x2="318.3" y2="207.1" stroke="#000" stroke-width="1.0" />
<line x1="319.9" y1="194.2" x2="319.9" y2="202.4" stroke="#000" stroke-width="1.0" />
<line x1="318.4" y1="194.2" x2="321.4" y2="194.2" stroke="#000" stroke-width="1.0" />
<line x1="318.4" y1="202.4" x2="321.4" y2="202.4" stroke="#000" stroke-width="1.0" />
<line x1="323.0" y1="188.8" x2="323.0" y2="197.6" stroke="#000" stroke-width="1.0" />
<line x1="321.5" y1="188.8" x2="324.5" y2="188.8" stroke="#000" stroke-width="1.0" />
<line x1="321.5" y1="197.6" x2="324.5" y2="197.6" stroke="#000" stroke-width="1.0" />
<line x1="326.1" y1="183.5" x2="326.1" y2="192.8" stroke="#000" stroke-width="1.0" />
<line x1="324.6" y1="183.5" x2="327.6" y2="183.5" stroke="#000" stroke-width="1.0" />
<line x1="324.6" y1="192.8" x2="327.6" y2="192.8" stroke="#000" stroke-width="1.0" />
<line x1="329.2" y1="178.1" x2="329.2" y2="188.1" stroke="#000" stroke-width="1.0" />
<line x1="327.7" y1="178.1" x2="330.7" y2="178.1" stroke="#000" stroke-width="1.0" />
<line x1="327.7" y1="188.1" x2="330.7" y2="188.1" stroke="#000" stroke-width="1.0" />
<line x1="332.3" y1="172.9" x2="332.3" y2="183.5" stroke="#000" stroke-width="1.0" />
<line x1="330.8" y1="172.9" x2="333.8" y2="172.9" stroke="#000" stroke-width="1.0" />
<line x1="330.8" y1="183.5" x2="333.8" y2="183.5" stroke="#000" stroke-width="1.0" />
<line x1="335.4" y1="168.1" x2="335.4" y2="179.2" stroke="#000" stroke-width="1.0" />
<line x1="333.9" y1="168.1" x2="336.9" y2="168.1" stroke="#000" stroke-width="1.0" />
<line x1="333.9" y1="179.2" x2="336.9" y2="179.2" stroke="#000" stroke-width="1.0" />
<line x1="338.5" y1="163.8" x2="338.5" y2="175.4" stroke="#000" stroke-width="1.0" />
<line x1="337.0" y1="163.8" x2="340.0" y2="163.8" stroke="#000" stroke-width="1.0" />
<line x1="337.0" y1="175.4" x2="340.0" y2="175.4" stroke="#000" stroke-width="1.0" />
<line x1="341.6" y1="160.2" x2="341.6" y2="172.2" stroke="#000" stroke-width="1.0" />
<line x1="340.1" y1="160.2" x2="343.1" y2="160.2" stroke="#000" stroke-width="1.0" />
<line x1="340.1" y1="172.2" x2="343.1" y2="172.2" stroke="#000" stroke-width="1.0" />
<line x1="344.7" y1="157.2" x2="344.7" y2="169.5" stroke="#000" stroke-width="1.0" />
<line x1="343.2" y1="157.2" x2="346.2" y2="157.2" stroke="#000" stroke-width="1.0" />
<line x1="343.2" y1="169.5" x2="346.2" y2="169.5" stroke="#000" stroke-width="1.0" />
<line x1="347.8" y1="154.8" x2="347.8" y2="167.5" stroke="#000" stroke-width="1.0" />
<line x1="346.3" y1="154.8" x2="349.3" y2="154.8" stroke="#000" stroke-width="1.0" />
<line x1="346.3" y1="167.5" x2="349.3" y2="167.5" stroke="#000" stroke-width="1.0" />
<line x1="350.9" y1="153.1" x2="350.9" y2="165.9" stroke="#000" stroke-width="1.0" />
<line x1="349.4" y1="153.1" x2="352.4" y2="153.1" stroke="#000" stroke-width="1.0" />
<line x1="349.4" y1="165.9" x2="352.4" y2="165.9" stroke="#000" stroke-width="1.0" />
<line x1="354.0" y1="152.0" x2="354.0" y2="165.0" stroke="#000" stroke-width="1.0" />
<line x1="352.5" y1="152.0" x2="355.5" y2="152.0" stroke="#000" stroke-width="1.0" />
<line x1="352.5" y1="165.0" x2="355.5" y2="165.0" stroke="#000" stroke-width="1.0" />
<line x1="357.2" y1="150.9" x2="357.2" y2="164.0" stroke="#000" stroke-width="1.0" />
<line x1="355.7" y1="150.9" x2="358.7" y2="150.9" stroke="#000" stroke-width="1.0" />
<line x1="355.7" y1="164.0" x2="358.7" y2="164.0" stroke="#000" stroke-width="1.0" />
<line x1="360.3" y1="150.4" x2="360.3" y2="163.5" stroke="#000" stroke-width="1.0" />
<line x1="358.8" y1="150.4" x2="361.8" y2="150.4" stroke="#000" stroke-width="1.0" />
<line x1="358.8" y1="163.5" x2="361.8" y2="163.5" stroke="#000" stroke-width="1.0" />
<line x1="363.4" y1="151.4" x2="363.4" y2="164.4" stroke="#000" stroke-width="1.0" />
<line x1="361.9" y1="151.4" x2="364.9" y2="151.4" stroke="#000" stroke-width="1.0" />
<line x1="361.9" y1="164.4" x2="364.9" y2="164.4" stroke="#000" stroke-width="1.0" />
<line x1="366.5" y1="152.3" x2="366.5" y2="165.2" stroke="#000" stroke-width="1.0" />
<line x1="365.0" y1="152.3" x2="368.0" y2="152.3" stroke="#000" stroke-width="1.0" />
<line x1="365.0" y1="165.2" x2="368.0" y2="165.2" stroke="#000" stroke-width="1.0" />
<line x1="369.6" y1="153.1" x2="369.6" y2="165.9" stroke="#000" stroke-width="1.0" />
<line x1="368.1" y1="153.1" x2="371.1" y2="153.1" stroke="#000" stroke-width="1.0" />
<line x1="368.1" y1="165.9" x2="371.1" y2="165.9" stroke="#000" stroke-width="1.0" />
<line x1="372.7" y1="153.7" x2="372.7" y2="166.4" stroke="#000" stroke-width="1.0" />
<line x1="371.2" y1="153.7" x2="374.2" y2="153.7" stroke="#000" stroke-width="1.0" />
<line x1="371.2" y1="166.4" x2="374.2" y2="166.4" stroke="#000" stroke-width="1.0" />
<line x1="375.8" y1="154.1" x2="375.8" y2="166.8" stroke="#000" stroke-width="1.0" />
<line x1="374.3" y1="154.1" x2="377.3" y2="154.1" stroke="#000" stroke-width="1.0" />
<line x1="374.3" y1="166.8" x2="377.3" y2="166.8" stroke="#000" stroke-width="1.0" />
<line x1="378.9" y1="154.3" x2="378.9" y2="167.0" stroke="#000" stroke-width="1.0" />
<line x1="377.4" y1="154.3" x2="380.4" y2="154.3" stroke="#000" stroke-width="1.0" />
<line x1="377.4" y1="167.0" x2="380.4" y2="167.0" stroke="#000" stroke-width="1.0" />
<line x1="382.0" y1="154.4" x2="382.0" y2="167.1" stroke="#000" stroke-width="1.0" />
<line x1="380.5" y1="154.4" x2="383.5" y2="154.4" stroke="#000" stroke-width="1.0" />
<line x1="380.5" y1="167.1" x2="383.5" y2="167.1" stroke="#000" stroke-width="1.0" />
<line x1="385.1" y1="154.3" x2="385.1" y2="167.0" stroke="#000" stroke-width="1.0" />
<line x1="383.6" y1="154.3" x2="386.6" y2="154.3" stroke="#000" stroke-width="1.0" />
<line x1="383.6" y1="167.0" x2="386.6" y2="167.0" stroke="#000" stroke-width="1.0" />
<line x1="388.2" y1="154.1" x2="388.2" y2="166.8" stroke="#000" stroke-width="1.0" />
<line x1="386.7" y1="154.1" x2="389.7" y2="154.1" stroke="#000" stroke-width="1.0" />
<line x1="386.7" y1="166.8" x2="389.7" y2="166.8" stroke="#000" stroke-width="1.0" />
<line x1="391.3" y1="153.7" x2="391.3" y2="166.4" stroke="#000" stroke-width="1.0" />
<line x1="389.8" y1="153.7" x2="392.8" y2="153.7" stroke="#000" stroke-width="1.0" />
<line x1="389.8" y1="166.4" x2="392.8" y2="166.4" stroke="#000" stroke-width="1.0" />
<line x1="394.4" y1="153.1" x2="394.4" y2="165.9" stroke="#000" stroke-width="1.0" />
<line x1="392.9" y1="153.1" x2="395.9" y2="153.1" stroke="#000" stroke-width="1.0" />
<line x1="392.9" y1="165.9" x2="395.9" y2="165.9" stroke="#000" stroke-width="1.0" />
<line x1="397.5" y1="152.3" x2="397.5" y2="165.2" stroke="#000" stroke-width="1.0" />
<line x1="396.0" y1="152.3" x2="399.0" y2="152.3" stroke="#000" stroke-width="1.0" />
<line x1="396.0" y1="165.2" x2="399.0" y2="165.2" stroke="#000" stroke-width="1.0" />
<line x1="400.6" y1="151.4" x2="400.6" y2="164.4" stroke="#000" stroke-width="1.0" />
<line x1="399.1" y1="151.4" x2="402.1" y2="151.4" stroke="#000" stroke-width="1.0" />
<line x1="399.1" y1="164.4" x2="402.1" y2="164.4" stroke="#000" stroke-width="1.0" />
<line x1="403.7" y1="150.4" x2="403.7" y2="163.5" stroke="#000" stroke-width="1.0" />
<line x1="402.2" y1="150.4" x2="405.2" y2="150.4" stroke="#000" stroke-width="1.0" />
<line x1="402.2" y1="163.5" x2="405.2" y2="163.5" stroke="#000" stroke-width="1.0" />
<line x1="406.8" y1="150.9" x2="406.8" y2="164.0" stroke="#000" stroke-width="1.0" />
<line x1="405.3" y1="150.9" x2="408.3" y2="150.9" stroke="#000" stroke-width="1.0" />
<line x1="405.3" y1="164.0" x2="408.3" y2="164.0" stroke="#000" stroke-width="1.0" />
<line x1="410.0" y1="152.0" x2="410.0" y2="165.0" stroke="#000" stroke-width="1.0" />
<line x1="408.5" y1="152.0" x2="411.5" y2="152.0" stroke="#000" stroke-width="1.0" />
<line x1="408.5" y1="165.0" x2="411.5" y2="165.0" stroke="#000" stroke-width="1.0" />
<line x1="413.1" y1="153.1" x2="413.1" y2="165.9" stroke="#000" stroke-width="1.0" />
<line x1="411.6" y1="153.1" x2="414.6" y2="153.1" stroke="#000" stroke-width="1.0" />
<line x1="411.6" y1="165.9" x2="414.6" y2="165.9" stroke="#000" stroke-width="1.0" />
<line x1="416.2" y1="154.8" x2="416.2" y2="167.5" stroke="#000" stroke-width="1.0" />
<line x1="414.7" y1="154.8" x2="417.7" y2="154.8" stroke="#000" stroke-width="1.0" />
<line x1="414.7" y1="167.5" x2="417.7" y2="167.5" stroke="#000" stroke-width="1.0" />
<line x1="419.3" y1="157.2" x2="419.3" y2="169.5" stroke="#000" stroke-width="1.0" />
<line x1="417.8" y1="157.2" x2="420.8" y2="157.2" stroke="#000" stroke-width="1.0" />
<line x1="417.8" y1="169.5" x2="420.8" y2="169.5" stroke="#000" stroke-width="1.0" />
<line x1="422.4" y1="160.2" x2="422.4" y2="172.2" stroke="#000" stroke-width="1.0" />
<line x1="420.9" y1="160.2" x2="423.9" y2="160.2" stroke="#000" stroke-width="1.0" />
<line x1="420.9" y1="172.2" x2="423.9" y2="172.2" stroke="#000" stroke-width="1.0" />
<line x1="425.5" y1="163.8" x2="425.5" y2="175.4" stroke="#000" stroke-width="1.0" />
<line x1="424.0" y1="163.8" x2="427.0" y2="163.8" stroke="#000" stroke-width="1.0" />
<line x1="424.0" y1="175.4" x2="427.0" y2="175.4" stroke="#000" stroke-width="1.0" />
<line x1="428.6" y1="168.1" x2="428.6" y2="179.2" stroke="#000" stroke-width="1.0" />
<line x1="427.1" y1="168.1" x2="430.1" y2="168.1" stroke="#000" stroke-width="1.0" />
<line x1="427.1" y1="179.2" x2="430.1" y2="179.2" stroke="#000" stroke-width="1.0" />
<line x1="431.7" y1="172.9" x2="431.7" y2="183.5" stroke="#000" stroke-width="1.0" />
<line x1="430.2" y1="172.9" x2="433.2" y2="172.9" stroke="#000" stroke-width="1.0" />
<line x1="430.2" y1="183.5" x2="433.2" y2="183.5" stroke="#000" stroke-width="1.0" />
<line x1="434.8" y1="178.1" x2="434.8" y2="188.1" stroke="#000" stroke-width="1.0" />
<line x1="433.3" y1="178.1" x2="436.3" y2="178.1" stroke="#000" stroke-width="1.0" />
<line x1="433.3" y1="188.1" x2="436.3" y2="188.1" stroke="#000" stroke-width="1.0" />
<line x1="437.9" y1="183.5" x2="437.9" y2="192.8" stroke="#000" stroke-width="1.0" />
<line x1="436.4" y1="183.5" x2="439.4" y2="183.5" stroke="#000" stroke-width="1.0" />
<line x1="436.4" y1="192.8" x2="439.4" y2="192.8" stroke="#000" stroke-width="1.0" />
<line x1="441.0" y1="188.8" x2="441.0" y2="197.6" stroke="#000" stroke-width="1.0" />
<line x1="439.5" y1="188.8" x2="442.5" y2="188.8" stroke="#000" stroke-width="1.0" />
<line x1="439.5" y1="197.6" x2="442.5" y2="197.6" stroke="#000" stroke-width="1.0" />
<line x1="444.1" y1="194.2" x2="444.1" y2="202.4" stroke="#000" stroke-width="1.0" />
<line x1="442.6" y1="194.2" x2="445.6" y2="194.2" stroke="#000" stroke-width="1.0" />
<line x1="442.6" y1="202.4" x2="445.6" y2="202.4" stroke="#000" stroke-width="1.0" />
<line x1="447.2" y1="199.6" x2="447.2" y2="207.1" stroke="#000" stroke-width="1.0" />
<line x1="445.7" y1="199.6" x2="448.7" y2="199.6" stroke="#000" stroke-width="1.0" />
<line x1="445.7" y1="207.1" x2="448.7" y2="207.1" stroke="#000" stroke-width="1.0" />
<line x1="450.3" y1="204.9" x2="450.3" y2="211.9" stroke="#000" stroke-width="1.0" />
<line x1="448.8" y1="204.9" x2="451.8" y2="204.9" stroke="#000" stroke-width="1.0" />
<line x1="448.8" y1="211.9" x2="451.8" y2="211.9" stroke="#000" stroke-width="1.0" />
<line x1="453.4" y1="210.3" x2="453.4" y2="216.6" stroke="#000" stroke-width="1.0" />
<line x1="451.9" y1="210.3" x2="454.9" y2="210.3" stroke="#000" stroke-width="1.0" />
<line x1="451.9" y1="216.6" x2="454.9" y2="216.6" stroke="#000" stroke-width="1.0" />
<line x1="456.5" y1="215.5" x2="456.5" y2="221.5" stroke="#000" stroke-width="1.0" />
<line x1="455.0" y1="215.5" x2="458.0" y2="215.5" stroke="#000" stroke-width="1.0" />
<line x1="455.0" y1="221.5" x2="458.0" y2="221.5" stroke="#000" stroke-width="1.0" />
<line x1="459.6" y1="220.6" x2="459.6" y2="226.6" stroke="#000" stroke-width="1.0" />
<line x1="458.1" y1="220.6" x2="461.1" y2="220.6" stroke="#000" stroke-width="1.0" />
<line x1="458.1" y1="226.6" x2="461.1" y2="226.6" stroke="#000" stroke-width="1.0" />
<line x1="462.8" y1="225.6" x2="462.8" y2="231.6" stroke="#000" stroke-width="1.0" />
<line x1="461.3" y1="225.6" x2="464.3" y2="225.6" stroke="#000" stroke-width="1.0" />
<line x1="461.3" y1="231.6" x2="464.3" y2="231.6" stroke="#000" stroke-width="1.0" />
<line x1="465.9" y1="230.7" x2="465.9" y2="236.7" stroke="#000" stroke-width="1.0" />
<line x1="464.4" y1="230.7" x2="467.4" y2="230.7" stroke="#000" stroke-width="1.0" />
<line x1="464.4" y1="236.7" x2="467.4" y2="236.7" stroke="#000" stroke-width="1.0" />
<line x1="298.1" y1="232.9" x2="298.1" y2="238.9" stroke="#000" stroke-width="1.0" />
<line x1="296.6" y1="232.9" x2="299.6" y2="232.9" stroke="#000" stroke-width="1.0" />
<line x1="296.6" y1="238.9" x2="299.6" y2="238.9" stroke="#000" stroke-width="1.0" />
<line x1="301.2" y1="229.3" x2="301.2" y2="235.3" stroke="#000" stroke-width="1.0" />
<line x1="299.7" y1="229.3" x2="302.7" y2="229.3" stroke="#000" stroke-width="1.0" />
<line x1="299.7" y1="235.3" x2="302.7" y2="235.3" stroke="#000" stroke-width="1.0" />
<line x1="304.4" y1="225.7" x2="304.4" y2="231.7" stroke="#000" stroke-width="1.0" />
<line x1="302.9" y1="225.7" x2="305.9" y2="225.7" stroke="#000" stroke-width="1.0" />
<line x1="302.9" y1="231.7" x2="305.9" y2="231.7" stroke="#000" stroke-width="1.0" />
<line x1="307.5" y1="222.1" x2="307.5" y2="228.1" stroke="#000" stroke-width="1.0" />
<line x1="306.0" y1="222.1" x2="309.0" y2="222.1" stroke="#000" stroke-width="1.0" />
<line x1="306.0" y1="228.1" x2="309.0" y2="228.1" stroke="#000" stroke-width="1.0" />
<line x1="310.6" y1="218.5" x2="310.6" y2="224.5" stroke="#000" stroke-width="1.0" />
<line x1="309.1" y1="218.5" x2="312.1" y2="218.5" stroke="#000" stroke-width="1.0" />
<line x1="309.1" y1="224.5" x2="312.1" y2="224.5" stroke="#000" stroke-width="1.0" />
<line x1="313.7" y1="215.0" x2="313.7" y2="221.0" stroke="#000" stroke-width="1.0" />
<line x1="312.2" y1="215.0" x2="315.2" y2="215.0" stroke="#000" stroke-width="1.0" />
<line x1="312.2" y1="221.0" x2="315.2" y2="221.0" stroke="#000" stroke-width="1.0" />
<line x1="316.8" y1="211.2" x2="316.8" y2="217.5" stroke="#000" stroke-width="1.0" />
<line x1="315.3" y1="211.2" x2="318.3" y2="211.2" stroke="#000" stroke-width="1.0" />
<line x1="315.3" y1="217.5" x2="318.3" y2="217.5" stroke="#000" stroke-width="1.0" />
<line x1="319.9" y1="207.4" x2="319.9" y2="214.1" stroke="#000" stroke-width="1.0" />
<line x1="318.4" y1="207.4" x2="321.4" y2="207.4" stroke="#000" stroke-width="1.0" />
<line x1="318.4" y1="214.1" x2="321.4" y2="214.1" stroke="#000" stroke-width="1.0" />
<line x1="323.0" y1="203.6" x2="323.0" y2="210.7" stroke="#000" stroke-width="1.0" />
<line x1="321.5" y1="203.6" x2="324.5" y2="203.6" stroke="#000" stroke-width="1.0" />
<line x1="321.5" y1="210.7" x2="324.5" y2="210.7" stroke="#000" stroke-width="1.0" />
<line x1="326.1" y1="199.8" x2="326.1" y2="207.4" stroke="#000" stroke-width="1.0" />
<line x1="324.6" y1="199.8" x2="327.6" y2="199.8" stroke="#000" stroke-width="1.0" />
<line x1="324.6" y1="207.4" x2="327.6" y2="207.4" stroke="#000" stroke-width="1.0" />
<line x1="329.2" y1="196.0" x2="329.2" y2="204.0" stroke="#000" stroke-width="1.0" />
<line x1="327.7" y1="196.0" x2="330.7" y2="196.0" stroke="#000" stroke-width="1.0" />
<line x1="327.7" y1="204.0" x2="330.7" y2="204.0" stroke="#000" stroke-width="1.0" />
<line x1="332.3" y1="192.4" x2="332.3" y2="200.7" stroke="#000" stroke-width="1.0" />
<line x1="330.8" y1="192.4" x2="333.8" y2="192.4" stroke="#000" stroke-width="1.0" />
<line x1="330.8" y1="200.7" x2="333.8" y2="200.7" stroke="#000" stroke-width="1.0" />
<line x1="335.4" y1="188.9" x2="335.4" y2="197.7" stroke="#000" stroke-width="1.0" />
<line x1="333.9" y1="188.9" x2="336.9" y2="188.9" stroke="#000" stroke-width="1.0" />
<line x1="333.9" y1="197.7" x2="336.9" y2="197.7" stroke="#000" stroke-width="1.0" />
<line x1="338.5" y1="185.7" x2="338.5" y2="194.8" stroke="#000" stroke-width="1.0" />
<line x1="337.0" y1="185.7" x2="340.0" y2="185.7" stroke="#000" stroke-width="1.0" />
<line x1="337.0" y1="194.8" x2="340.0" y2="194.8" stroke="#000" stroke-width="1.0" />
<line x1="341.6" y1="182.9" x2="341.6" y2="192.4" stroke="#000" stroke-width="1.0" />
<line x1="340.1" y1="182.9" x2="343.1" y2="182.9" stroke="#000" stroke-width="1.0" />
<line x1="340.1" y1="192.4" x2="343.1" y2="192.4" stroke="#000" stroke-width="1.0" />
<line x1="344.7" y1="180.6" x2="344.7" y2="190.3" stroke="#000" stroke-width="1.0" />
<line x1="343.2" y1="180.6" x2="346.2" y2="180.6" stroke="#000" stroke-width="1.0" />
<line x1="343.2" y1="190.3" x2="346.2" y2="190.3" stroke="#000" stroke-width="1.0" />
<line x1="347.8" y1="178.8" x2="347.8" y2="188.7" stroke="#000" stroke-width="1.0" />
<line x1="346.3" y1="178.8" x2="349.3" y2="178.8" stroke="#000" stroke-width="1.0" />
<line x1="346.3" y1="188.7" x2="349.3" y2="188.7" stroke="#000" stroke-width="1.0" />
<line x1="350.9" y1="177.3" x2="350.9" y2="187.4" stroke="#000" stroke-width="1.0" />
<line x1="349.4" y1="177.3" x2="352.4" y2="177.3" stroke="#000" stroke-width="1.0" />
<line x1="349.4" y1="187.4" x2="352.4" y2="187.4" stroke="#000" stroke-width="1.0" />
<line x1="354.0" y1="176.4" x2="354.0" y2="186.5" stroke="#000" stroke-width="1.0" />
<line x1="352.5" y1="176.4" x2="355.5" y2="176.4" stroke="#000" stroke-width="1.0" />
<line x1="352.5" y1="186.5" x2="355.5" y2="186.5" stroke="#000" stroke-width="1.0" />
<line x1="357.2" y1="175.3" x2="357.2" y2="185.6" stroke="#000" stroke-width="1.0" />
<line x1="355.7" y1="175.3" x2="358.7" y2="175.3" stroke="#000" stroke-width="1.0" />
<line x1="355.7" y1="185.6" x2="358.7" y2="185.6" stroke="#000" stroke-width="1.0" />
<line x1="360.3" y1="174.7" x2="360.3" y2="185.1" stroke="#000" stroke-width="1.0" />
<line x1="358.8" y1="174.7" x2="361.8" y2="174.7" stroke="#000" stroke-width="1.0" />
<line x1="358.8" y1="185.1" x2="361.8" y2="185.1" stroke="#000" stroke-width="1.0" />
<line x1="363.4" y1="175.3" x2="363.4" y2="185.6" stroke="#000" stroke-width="1.0" />
<line x1="361.9" y1="175.3" x2="364.9" y2="175.3" stroke="#000" stroke-width="1.0" />
<line x1="361.9" y1="185.6" x2="364.9" y2="185.6" stroke="#000" stroke-width="1.0" />
<line x1="366.5" y1="176.0" x2="366.5" y2="186.2" stroke="#000" stroke-width="1.0" />
<line x1="365.0" y1="176.0" x2="368.0" y2="176.0" stroke="#000" stroke-width="1.0" />
<line x1="365.0" y1="186.2" x2="368.0" y2="186.2" stroke="#000" stroke-width="1.0" />
<line x1="369.6" y1="176.5" x2="369.6" y2="186.7" stroke="#000" stroke-width="1.0" />
<line x1="368.1" y1="176.5" x2="371.1" y2="176.5" stroke="#000" stroke-width="1.0" />
<line x1="368.1" y1="186.7" x2="371.1" y2="186.7" stroke="#000" stroke-width="1.0" />
<line x1="372.7" y1="176.9" x2="372.7" y2="187.1" stroke="#000" stroke-width="1.0" />
<line x1="371.2" y1="176.9" x2="374.2" y2="176.9" stroke="#000" stroke-width="1.0" />
<line x1="371.2" y1="187.1" x2="374.2" y2="187.1" stroke="#000" stroke-width="1.0" />
<line x1="375.8" y1="177.2" x2="375.8" y2="187.3" stroke="#000" stroke-width="1.0" />
<line x1="374.3" y1="177.2" x2="377.3" y2="177.2" stroke="#000" stroke-width="1.0" />
<line x1="374.3" y1="187.3" x2="377.3" y2="187.3" stroke="#000" stroke-width="1.0" />
<line x1="378.9" y1="177.4" x2="378.9" y2="187.5" stroke="#000" stroke-width="1.0" />
<line x1="377.4" y1="177.4" x2="380.4" y2="177.4" stroke="#000" stroke-width="1.0" />
<line x1="377.4" y1="187.5" x2="380.4" y2="187.5" stroke="#000" stroke-width="1.0" />
<line x1="382.0" y1="177.5" x2="382.0" y2="187.5" stroke="#000" stroke-width="1.0" />
<line x1="380.5" y1="177.5" x2="383.5" y2="177.5" stroke="#000" stroke-width="1.0" />
<line x1="380.5" y1="187.5" x2="383.5" y2="187.5" stroke="#000" stroke-width="1.0" />
<line x1="385.1" y1="177.4" x2="385.1" y2="187.5" stroke="#000" stroke-width="1.0" />
<line x1="383.6" y1="177.4" x2="386.6" y2="177.4" stroke="#000" stroke-width="1.0" />
<line x1="383.6" y1="187.5" x2="386.6" y2="187.5" stroke="#000" stroke-width="1.0" />
<line x1="388.2" y1="177.2" x2="388.2" y2="187.3" stroke="#000" stroke-width="1.0" />
<line x1="386.7" y1="177.2" x2="389.7" y2="177.2" stroke="#000" stroke-width="1.0" />
<line x1="386.7" y1="187.3" x2="389.7" y2="187.3" stroke="#000" stroke-width="1.0" />
<line x1="391.3" y1="176.9" x2="391.3" y2="187.1" stroke="#000" stroke-width="1.0" />
<line x1="389.8" y1="176.9" x2="392.8" y2="176.9" stroke="#000" stroke-width="1.0" />
<line x1="389.8" y1="187.1" x2="392.8" y2="187.1" stroke="#000" stroke-width="1.0" />
<line x1="394.4" y1="176.5" x2="394.4" y2="186.7" stroke="#000" stroke-width="1.0" />
<line x1="392.9" y1="176.5" x2="395.9" y2="176.5" stroke="#000" stroke-width="1.0" />
<line x1="392.9" y1="186.7" x2="395.9" y2="186.7" stroke="#000" stroke-width="1.0" />
<line x1="397.5" y1="176.0" x2="397.5" y2="186.2" stroke="#000" stroke-width="1.0" />
<line x1="396.0" y1="176.0" x2="399.0" y2="176.0" stroke="#000" stroke-width="1.0" />
<line x1="396.0" y1="186.2" x2="399.0" y2="186.2" stroke="#000" stroke-width="1.0" />
<line x1="400.6" y1="175.3" x2="400.6" y2="185.6" stroke="#000" stroke-width="1.0" />
<line x1="399.1" y1="175.3" x2="402.1" y2="175.3" stroke="#000" stroke-width="1.0" />
<line x1="399.1" y1="185.6" x2="402.1" y2="185.6" stroke="#000" stroke-width="1.0" />
<line x1="403.7" y1="174.7" x2="403.7" y2="185.1" stroke="#000" stroke-width="1.0" />
<line x1="402.2" y1="174.7" x2="405.2" y2="174.7" stroke="#000" stroke-width="1.0" />
<line x1="402.2" y1="185.1" x2="405.2" y2="185.1" stroke="#000" stroke-width="1.0" />
<line x1="406.8" y1="175.3" x2="406.8" y2="185.6" stroke="#000" stroke-width="1.0" />
<line x1="405.3" y1="175.3" x2="408.3" y2="175.3" stroke="#000" stroke-width="1.0" />
<line x1="405.3" y1="185.6" x2="408.3" y2="185.6" stroke="#000" stroke-width="1.0" />
<line x1="410.0" y1="176.4" x2="410.0" y2="186.5" stroke="#000" stroke-width="1.0" />
<line x1="408.5" y1="176.4" x2="411.5" y2="176.4" stroke="#000" stroke-width="1.0" />
<line x1="408.5" y1="186.5" x2="411.5" y2="186.5" stroke="#000" stroke-width="1.0" />
<line x1="413.1" y1="177.3" x2="413.1" y2="187.4" stroke="#000" stroke-width="1.0" />
<line x1="411.6" y1="177.3" x2="414.6" y2="177.3" stroke="#000" stroke-width="1.0" />
<line x1="411.6" y1="187.4" x2="414.6" y2="187.4" stroke="#000" stroke-width="1.0" />
<line x1="416.2" y1="178.8" x2="416.2" y2="188.7" stroke="#000" stroke-width="1.0" />
<line x1="414.7" y1="178.8" x2="417.7" y2="178.8" stroke="#000" stroke-width="1.0" />
<line x1="414.7" y1="188.7" x2="417.7" y2="188.7" stroke="#000" stroke-width="1.0" />
<line x1="419.3" y1="180.6" x2="419.3" y2="190.3" stroke="#000" stroke-width="1.0" />
<line x1="417.8" y1="180.6" x2="420.8" y2="180.6" stroke="#000" stroke-width="1.0" />
<line x1="417.8" y1="190.3" x2="420.8" y2="190.3" stroke="#000" stroke-width="1.0" />
<line x1="422.4" y1="182.9" x2="422.4" y2="192.4" stroke="#000" stroke-width="1.0" />
<line x1="420.9" y1="182.9" x2="423.9" y2="182.9" stroke="#000" stroke-width="1.0" />
<line x1="420.9" y1="192.4" x2="423.9" y2="192.4" stroke="#000" stroke-width="1.0" />
<line x1="425.5" y1="185.7" x2="425.5" y2="194.8" stroke="#000" stroke-width="1.0" />
<line x1="424.0" y1="185.7" x2="427.0" y2="185.7" stroke="#000" stroke-width="1.0" />
<line x1="424.0" y1="194.8" x2="427.0" y2="194.8" stroke="#000" stroke-width="1.0" />
<line x1="428.6" y1="188.9" x2="428.6" y2="197.7" stroke="#000" stroke-width="1.0" />
<line x1="427.1" y1="188.9" x2="430.1" y2="188.9" stroke="#000" stroke-width="1.0" />
<line x1="427.1" y1="197.7" x2="430.1" y2="197.7" stroke="#000" stroke-width="1.0" />
<line x1="431.7" y1="192.4" x2="431.7" y2="200.7" stroke="#000" stroke-width="1.0" />
<line x1="430.2" y1="192.4" x2="433.2" y2="192.4" stroke="#000" stroke-width="1.0" />
<line x1="430.2" y1="200.7" x2="433.2" y2="200.7" stroke="#000" stroke-width="1.0" />
<line x1="434.8" y1="196.0" x2="434.8" y2="204.0" stroke="#000" stroke-width="1.0" />
<line x1="433.3" y1="196.0" x2="436.3" y2="196.0" stroke="#000" stroke-width="1.0" />
<line x1="433.3" y1="204.0" x2="436.3" y2="204.0" stroke="#000" stroke-width="1.0" />
<line x1="437.9" y1="199.8" x2="437.9" y2="207.4" stroke="#000" stroke-width="1.0" />
<line x1="436.4" y1="199.8" x2="439.4" y2="199.8" stroke="#000" stroke-width="1.0" />
<line x1="436.4" y1="207.4" x2="439.4" y2="207.4" stroke="#000" stroke-width="1.0" />
<line x1="441.0" y1="203.6" x2="441.0" y2="210.7" stroke="#000" stroke-width="1.0" />
<line x1="439.5" y1="203.6" x2="442.5" y2="203.6" stroke="#000" stroke-width="1.0" />
<line x1="439.5" y1="210.7" x2="442.5" y2="210.7" stroke="#000" stroke-width="1.0" />
<line x1="444.1" y1="207.4" x2="444.1" y2="214.1" stroke="#000" stroke-width="1.0" />
<line x1="442.6" y1="207.4" x2="445.6" y2="207.4" stroke="#000" stroke-width="1.0" />
<line x1="442.6" y1="214.1" x2="445.6" y2="214.1" stroke="#000" stroke-width="1.0" />
<line x1="447.2" y1="211.2" x2="447.2" y2="217.5" stroke="#000" stroke-width="1.0" />
<line x1="445.7" y1="211.2" x2="448.7" y2="211.2" stroke="#000" stroke-width="1.0" />
<line x1="445.7" y1="217.5" x2="448.7" y2="217.5" stroke="#000" stroke-width="1.0" />
<line x1="450.3" y1="215.0" x2="450.3" y2="221.0" stroke="#000" stroke-width="1.0" />
<line x1="448.8" y1="215.0" x2="451.8" y2="215.0" stroke="#000" stroke-width="1.0" />
<line x1="448.8" y1="221.0" x2="451.8" y2="221.0" stroke="#000" stroke-width="1.0" />
<line x1="453.4" y1="218.5" x2="453.4" y2="224.5" stroke="#000" stroke-width="1.0" />
<line x1="451.9" y1="218.5" x2="454.9" y2="218.5" stroke="#000" stroke-width="1.0" />
<line x1="451.9" y1="224.5" x2="454.9" y2="224.5" stroke="#000" stroke-width="1.0" />
<line x1="456.5" y1="222.1" x2="456.5" y2="228.1" stroke="#000" stroke-width="1.0" />
<line x1="455.0" y1="222.1" x2="458.0" y2="222.1" stroke="#000" stroke-width="1.0" />
<line x1="455.0" y1="228.1" x2="458.0" y2="228.1" stroke="#000" stroke-width="1.0" />
<line x1="459.6" y1="225.7" x2="459.6" y2="231.7" stroke="#000" stroke-width="1.0" />
<line x1="458.1" y1="225.7" x2="461.1" y2="225.7" stroke="#000" stroke-width="1.0" />
<line x1="458.1" y1="231.7" x2="461.1" y2="231.7" stroke="#000" stroke-width="1.0" />
<line x1="462.8" y1="229.3" x2="462.8" y2="235.3" stroke="#000" stroke-width="1.0" />
<line x1="461.3" y1="229.3" x2="464.3" y2="229.3" stroke="#000" stroke-width="1.0" />
<line x1="461.3" y1="235.3" x2="464.3" y2="235.3" stroke="#000" stroke-width="1.0" />
<line x1="465.9" y1="232.9" x2="465.9" y2="238.9" stroke="#000" stroke-width="1.0" />
<line x1="464.4" y1="232.9" x2="467.4" y2="232.9" stroke="#000" stroke-width="1.0" />
<line x1="464.4" y1="238.9" x2="467.4" y2="238.9" stroke="#000" stroke-width="1.0" />
<line x1="298.1" y1="234.8" x2="298.1" y2="240.8" stroke="#000" stroke-width="1.0" />
<line x1="296.6" y1="234.8" x2="299.6" y2="234.8" stroke="#000" stroke-width="1.0" />
<line x1="296.6" y1="240.8" x2="299.6" y2="240.8" stroke="#000" stroke-width="1.0" />
<line x1="301.2" y1="232.5" x2="301.2" y2="238.5" stroke="#000" stroke-width="1.0" />
<line x1="299.7" y1="232.5" x2="302.7" y2="232.5" stroke="#000" stroke-width="1.0" />
<line x1="299.7" y1="238.5" x2="302.7" y2="238.5" stroke="#000" stroke-width="1.0" />
<line x1="304.4" y1="230.2" x2="304.4" y2="236.2" stroke="#000" stroke-width="1.0" />
<line x1="302.9" y1="230.2" x2="305.9" y2="230.2" stroke="#000" stroke-width="1.0" />
<line x1="302.9" y1="236.2" x2="305.9" y2="236.2" stroke="#000" stroke-width="1.0" />
<line x1="307.5" y1="227.9" x2="307.5" y2="233.9" stroke="#000" stroke-width="1.0" />
<line x1="306.0" y1="227.9" x2="309.0" y2="227.9" stroke="#000" stroke-width="1.0" />
<line x1="306.0" y1="233.9" x2="309.0" y2="233.9" stroke="#000" stroke-width="1.0" />
<line x1="310.6" y1="225.6" x2="310.6" y2="231.6" stroke="#000" stroke-width="1.0" />
<line x1="309.1" y1="225.6" x2="312.1" y2="225.6" stroke="#000" stroke-width="1.0" />
<line x1="309.1" y1="231.6" x2="312.1" y2="231.6" stroke="#000" stroke-width="1.0" />
<line x1="313.7" y1="223.3" x2="313.7" y2="229.3" stroke="#000" stroke-width="1.0" />
<line x1="312.2" y1="223.3" x2="315.2" y2="223.3" stroke="#000" stroke-width="1.0" />
<line x1="312.2" y1="229.3" x2="315.2" y2="229.3" stroke="#000" stroke-width="1.0" />
<line x1="316.8" y1="221.0" x2="316.8" y2="227.0" stroke="#000" stroke-width="1.0" />
<line x1="315.3" y1="221.0" x2="318.3" y2="221.0" stroke="#000" stroke-width="1.0" />
<line x1="315.3" y1="227.0" x2="318.3" y2="227.0" stroke="#000" stroke-width="1.0" />
<line x1="319.9" y1="218.7" x2="319.9" y2="224.7" stroke="#000" stroke-width="1.0" />
<line x1="318.4" y1="218.7" x2="321.4" y2="218.7" stroke="#000" stroke-width="1.0" />
<line x1="318.4" y1="224.7" x2="321.4" y2="224.7" stroke="#000" stroke-width="1.0" />
<line x1="323.0" y1="216.4" x2="323.0" y2="222.4" stroke="#000" stroke-width="1.0" />
<line x1="321.5" y1="216.4" x2="324.5" y2="216.4" stroke="#000" stroke-width="1.0" />
<line x1="321.5" y1="222.4" x2="324.5" y2="222.4" stroke="#000" stroke-width="1.0" />
<line x1="326.1" y1="214.1" x2="326.1" y2="220.1" stroke="#000" stroke-width="1.0" />
<line x1="324.6" y1="214.1" x2="327.6" y2="214.1" stroke="#000" stroke-width="1.0" />
<line x1="324.6" y1="220.1" x2="327.6" y2="220.1" stroke="#000" stroke-width="1.0" />
<line x1="329.2" y1="211.7" x2="329.2" y2="217.9" stroke="#000" stroke-width="1.0" />
<line x1="327.7" y1="211.7" x2="330.7" y2="211.7" stroke="#000" stroke-width="1.0" />
<line x1="327.7" y1="217.9" x2="330.7" y2="217.9" stroke="#000" stroke-width="1.0" />
<line x1="332.3" y1="209.3" x2="332.3" y2="215.8" stroke="#000" stroke-width="1.0" />
<line x1="330.8" y1="209.3" x2="333.8" y2="209.3" stroke="#000" stroke-width="1.0" />
<line x1="330.8" y1="215.8" x2="333.8" y2="215.8" stroke="#000" stroke-width="1.0" />
<line x1="335.4" y1="207.1" x2="335.4" y2="213.8" stroke="#000" stroke-width="1.0" />
<line x1="333.9" y1="207.1" x2="336.9" y2="207.1" stroke="#000" stroke-width="1.0" />
<line x1="333.9" y1="213.8" x2="336.9" y2="213.8" stroke="#000" stroke-width="1.0" />
<line x1="338.5" y1="204.9" x2="338.5" y2="211.9" stroke="#000" stroke-width="1.0" />
<line x1="337.0" y1="204.9" x2="340.0" y2="204.9" stroke="#000" stroke-width="1.0" />
<line x1="337.0" y1="211.9" x2="340.0" y2="211.9" stroke="#000" stroke-width="1.0" />
<line x1="341.6" y1="202.9" x2="341.6" y2="210.1" stroke="#000" stroke-width="1.0" />
<line x1="340.1" y1="202.9" x2="343.1" y2="202.9" stroke="#000" stroke-width="1.0" />
<line x1="340.1" y1="210.1" x2="343.1" y2="210.1" stroke="#000" stroke-width="1.0" />
<line x1="344.7" y1="201.2" x2="344.7" y2="208.6" stroke="#000" stroke-width="1.0" />
<line x1="343.2" y1="201.2" x2="346.2" y2="201.2" stroke="#000" stroke-width="1.0" />
<line x1="343.2" y1="208.6" x2="346.2" y2="208.6" stroke="#000" stroke-width="1.0" />
<line x1="347.8" y1="199.8" x2="347.8" y2="207.3" stroke="#000" stroke-width="1.0" />
<line x1="346.3" y1="199.8" x2="349.3" y2="199.8" stroke="#000" stroke-width="1.0" />
<line x1="346.3" y1="207.3" x2="349.3" y2="207.3" stroke="#000" stroke-width="1.0" />
<line x1="350.9" y1="198.7" x2="350.9" y2="206.3" stroke="#000" stroke-width="1.0" />
<line x1="349.4" y1="198.7" x2="352.4" y2="198.7" stroke="#000" stroke-width="1.0" />
<line x1="349.4" y1="206.3" x2="352.4" y2="206.3" stroke="#000" stroke-width="1.0" />
<line x1="354.0" y1="197.8" x2="354.0" y2="205.5" stroke="#000" stroke-width="1.0" />
<line x1="352.5" y1="197.8" x2="355.5" y2="197.8" stroke="#000" stroke-width="1.0" />
<line x1="352.5" y1="205.5" x2="355.5" y2="205.5" stroke="#000" stroke-width="1.0" />
<line x1="357.2" y1="196.9" x2="357.2" y2="204.7" stroke="#000" stroke-width="1.0" />
<line x1="355.7" y1="196.9" x2="358.7" y2="196.9" stroke="#000" stroke-width="1.0" />
<line x1="355.7" y1="204.7" x2="358.7" y2="204.7" stroke="#000" stroke-width="1.0" />
<line x1="360.3" y1="196.2" x2="360.3" y2="204.1" stroke="#000" stroke-width="1.0" />
<line x1="358.8" y1="196.2" x2="361.8" y2="196.2" stroke="#000" stroke-width="1.0" />
<line x1="358.8" y1="204.1" x2="361.8" y2="204.1" stroke="#000" stroke-width="1.0" />
<line x1="363.4" y1="196.3" x2="363.4" y2="204.2" stroke="#000" stroke-width="1.0" />
<line x1="361.9" y1="196.3" x2="364.9" y2="196.3" stroke="#000" stroke-width="1.0" />
<line x1="361.9" y1="204.2" x2="364.9" y2="204.2" stroke="#000" stroke-width="1.0" />
<line x1="366.5" y1="196.5" x2="366.5" y2="204.4" stroke="#000" stroke-width="1.0" />
<line x1="365.0" y1="196.5" x2="368.0" y2="196.5" stroke="#000" stroke-width="1.0" />
<line x1="365.0" y1="204.4" x2="368.0" y2="204.4" stroke="#000" stroke-width="1.0" />
<line x1="369.6" y1="196.9" x2="369.6" y2="204.8" stroke="#000" stroke-width="1.0" />
<line x1="368.1" y1="196.9" x2="371.1" y2="196.9" stroke="#000" stroke-width="1.0" />
<line x1="368.1" y1="204.8" x2="371.1" y2="204.8" stroke="#000" stroke-width="1.0" />
<line x1="372.7" y1="197.2" x2="372.7" y2="205.0" stroke="#000" stroke-width="1.0" />
<line x1="371.2" y1="197.2" x2="374.2" y2="197.2" stroke="#000" stroke-width="1.0" />
<line x1="371.2" y1="205.0" x2="374.2" y2="205.0" stroke="#000" stroke-width="1.0" />
<line x1="375.8" y1="197.4" x2="375.8" y2="205.2" stroke="#000" stroke-width="1.0" />
<line x1="374.3" y1="197.4" x2="377.3" y2="197.4" stroke="#000" stroke-width="1.0" />
<line x1="374.3" y1="205.2" x2="377.3" y2="205.2" stroke="#000" stroke-width="1.0" />
<line x1="378.9" y1="197.5" x2="378.9" y2="205.3" stroke="#000" stroke-width="1.0" />
<line x1="377.4" y1="197.5" x2="380.4" y2="197.5" stroke="#000" stroke-width="1.0" />
<line x1="377.4" y1="205.3" x2="380.4" y2="205.3" stroke="#000" stroke-width="1.0" />
<line x1="382.0" y1="197.6" x2="382.0" y2="205.3" stroke="#000" stroke-width="1.0" />
<line x1="380.5" y1="197.6" x2="383.5" y2="197.6" stroke="#000" stroke-width="1.0" />
<line x1="380.5" y1="205.3" x2="383.5" y2="205.3" stroke="#000" stroke-width="1.0" />
<line x1="385.1" y1="197.5" x2="385.1" y2="205.3" stroke="#000" stroke-width="1.0" />
<line x1="383.6" y1="197.5" x2="386.6" y2="197.5" stroke="#000" stroke-width="1.0" />
<line x1="383.6" y1="205.3" x2="386.6" y2="205.3" stroke="#000" stroke-width="1.0" />
<line x1="388.2" y1="197.4" x2="388.2" y2="205.2" stroke="#000" stroke-width="1.0" />
<line x1="386.7" y1="197.4" x2="389.7" y2="197.4" stroke="#000" stroke-width="1.0" />
<line x1="386.7" y1="205.2" x2="389.7" y2="205.2" stroke="#000" stroke-width="1.0" />
<line x1="391.3" y1="197.2" x2="391.3" y2="205.0" stroke="#000" stroke-width="1.0" />
<line x1="389.8" y1="197.2" x2="392.8" y2="197.2" stroke="#000" stroke-width="1.0" />
<line x1="389.8" y1="205.0" x2="392.8" y2="205.0" stroke="#000" stroke-width="1.0" />
<line x1="394.4" y1="196.9" x2="394.4" y2="204.8" stroke="#000" stroke-width="1.0" />
<line x1="392.9" y1="196.9" x2="395.9" y2="196.9" stroke="#000" stroke-width="1.0" />
<line x1="392.9" y1="204.8" x2="395.9" y2="204.8" stroke="#000" stroke-width="1.0" />
<line x1="397.5" y1="196.5" x2="397.5" y2="204.4" stroke="#000" stroke-width="1.0" />
<line x1="396.0" y1="196.5" x2="399.0" y2="196.5" stroke="#000" stroke-width="1.0" />
<line x1="396.0" y1="204.4" x2="399.0" y2="204.4" stroke="#000" stroke-width="1.0" />
<line x1="400.6" y1="196.3" x2="400.6" y2="204.2" stroke="#000" stroke-width="1.0" />
<line x1="399.1" y1="196.3" x2="402.1" y2="196.3" stroke="#000" stroke-width="1.0" />
<line x1="399.1" y1="204.2" x2="402.1" y2="204.2" stroke="#000" stroke-width="1.0" />
<line x1="403.7" y1="196.2" x2="403.7" y2="204.1" stroke="#000" stroke-width="1.0" />
<line x1="402.2" y1="196.2" x2="405.2" y2="196.2" stroke="#000" stroke-width="1.0" />
<line x1="402.2" y1="204.1" x2="405.2" y2="204.1" stroke="#000" stroke-width="1.0" />
<line x1="406.8" y1="196.9" x2="406.8" y2="204.7" stroke="#000" stroke-width="1.0" />
<line x1="405.3" y1="196.9" x2="408.3" y2="196.9" stroke="#000" stroke-width="1.0" />
<line x1="405.3" y1="204.7" x2="408.3" y2="204.7" stroke="#000" stroke-width="1.0" />
<line x1="410.0" y1="197.8" x2="410.0" y2="205.5" stroke="#000" stroke-width="1.0" />
<line x1="408.5" y1="197.8" x2="411.5" y2="197.8" stroke="#000" stroke-width="1.0" />
<line x1="408.5" y1="205.5" x2="411.5" y2="205.5" stroke="#000" stroke-width="1.0" />
<line x1="413.1" y1="198.7" x2="413.1" y2="206.3" stroke="#000" stroke-width="1.0" />
<line x1="411.6" y1="198.7" x2="414.6" y2="198.7" stroke="#000" stroke-width="1.0" />
<line x1="411.6" y1="206.3" x2="414.6" y2="206.3" stroke="#000" stroke-width="1.0" />
<line x1="416.2" y1="199.8" x2="416.2" y2="207.3" stroke="#000" stroke-width="1.0" />
<line x1="414.7" y1="199.8" x2="417.7" y2="199.8" stroke="#000" stroke-width="1.0" />
<line x1="414.7" y1="207.3" x2="417.7" y2="207.3" stroke="#000" stroke-width="1.0" />
<line x1="419.3" y1="201.2" x2="419.3" y2="208.6" stroke="#000" stroke-width="1.0" />
<line x1="417.8" y1="201.2" x2="420.8" y2="201.2" stroke="#000" stroke-width="1.0" />
<line x1="417.8" y1="208.6" x2="420.8" y2="208.6" stroke="#000" stroke-width="1.0" />
<line x1="422.4" y1="202.9" x2="422.4" y2="210.1" stroke="#000" stroke-width="1.0" />
<line x1="420.9" y1="202.9" x2="423.9" y2="202.9" stroke="#000" stroke-width="1.0" />
<line x1="420.9" y1="210.1" x2="423.9" y2="210.1" stroke="#000" stroke-width="1.0" />
<line x1="425.5" y1="204.9" x2="425.5" y2="211.9" stroke="#000" stroke-width="1.0" />
<line x1="424.0" y1="204.9" x2="427.0" y2="204.9" stroke="#000" stroke-width="1.0" />
<line x1="424.0" y1="211.9" x2="427.0" y2="211.9" stroke="#000" stroke-width="1.0" />
<line x1="428.6" y1="207.1" x2="428.6" y2="213.8" stroke="#000" stroke-width="1.0" />
<line x1="427.1" y1="207.1" x2="430.1" y2="207.1" stroke="#000" stroke-width="1.0" />
<line x1="427.1" y1="213.8" x2="430.1" y2="213.8" stroke="#000" stroke-width="1.0" />
<line x1="431.7" y1="209.3" x2="431.7" y2="215.8" stroke="#000" stroke-width="1.0" />
<line x1="430.2" y1="209.3" x2="433.2" y2="209.3" stroke="#000" stroke-width="1.0" />
<line x1="430.2" y1="215.8" x2="433.2" y2="215.8" stroke="#000" stroke-width="1.0" />
<line x1="434.8" y1="211.7" x2="434.8" y2="217.9" stroke="#000" stroke-width="1.0" />
<line x1="433.3" y1="211.7" x2="436.3" y2="211.7" stroke="#000" stroke-width="1.0" />
<line x1="433.3" y1="217.9" x2="436.3" y2="217.9" stroke="#000" stroke-width="1.0" />
<line x1="437.9" y1="214.1" x2="437.9" y2="220.1" stroke="#000" stroke-width="1.0" />
<line x1="436.4" y1="214.1" x2="439.4" y2="214.1" stroke="#000" stroke-width="1.0" />
<line x1="436.4" y1="220.1" x2="439.4" y2="220.1" stroke="#000" stroke-width="1.0" />
<line x1="441.0" y1="216.4" x2="441.0" y2="222.4" stroke="#000" stroke-width="1.0" />
<line x1="439.5" y1="216.4" x2="442.5" y2="216.4" stroke="#000" stroke-width="1.0" />
<line x1="439.5" y1="222.4" x2="442.5" y2="222.4" stroke="#000" stroke-width="1.0" />
<line x1="444.1" y1="218.7" x2="444.1" y2="224.7" stroke="#000" stroke-width="1.0" />
<line x1="442.6" y1="218.7" x2="445.6" y2="218.7" stroke="#000" stroke-width="1.0" />
<line x1="442.6" y1="224.7" x2="445.6" y2="224.7" stroke="#000" stroke-width="1.0" />
<line x1="447.2" y1="221.0" x2="447.2" y2="227.0" stroke="#000" stroke-width="1.0" />
<line x1="445.7" y1="221.0" x2="448.7" y2="221.0" stroke="#000" stroke-width="1.0" />
<line x1="445.7" y1="227.0" x2="448.7" y2="227.0" stroke="#000" stroke-width="1.0" />
<line x1="450.3" y1="223.3" x2="450.3" y2="229.3" stroke="#000" stroke-width="1.0" />
<line x1="448.8" y1="223.3" x2="451.8" y2="223.3" stroke="#000" stroke-width="1.0" />
<line x1="448.8" y1="229.3" x2="451.8" y2="229.3" stroke="#000" stroke-width="1.0" />
<line x1="453.4" y1="225.6" x2="453.4" y2="231.6" stroke="#000" stroke-width="1.0" />
<line x1="451.9" y1="225.6" x2="454.9" y2="225.6" stroke="#000" stroke-width="1.0" />
<line x1="451.9" y1="231.6" x2="454.9" y2="231.6" stroke="#000" stroke-width="1.0" />
<line x1="456.5" y1="227.9" x2="456.5" y2="233.9" stroke="#000" stroke-width="1.0" />
<line x1="455.0" y1="227.9" x2="458.0" y2="227.9" stroke="#000" stroke-width="1.0" />
<line x1="455.0" y1="233.9" x2="458.0" y2="233.9" stroke="#000" stroke-width="1.0" />
<line x1="459.6" y1="230.2" x2="459.6" y2="236.2" stroke="#000" stroke-width="1.0" />
<line x1="458.1" y1="230.2" x2="461.1" y2="230.2" stroke="#000" stroke-width="1.0" />
<line x1="458.1" y1="236.2" x2="461.1" y2="236.2" stroke="#000" stroke-width="1.0" />
<line x1="462.8" y1="232.5" x2="462.8" y2="238.5" stroke="#000" stroke-width="1.0" />
<line x1="461.3" y1="232.5" x2="464.3" y2="232.5" stroke="#000" stroke-width="1.0" />
<line x1="461.3" y1="238.5" x2="464.3" y2="238.5" stroke="#000" stroke-width="1.0" />
<line x1="465.9" y1="234.8" x2="465.9" y2="240.8" stroke="#000" stroke-width="1.0" />
<line x1="464.4" y1="234.8" x2="467.4" y2="234.8" stroke="#000" stroke-width="1.0" />
<line x1="464.4" y1="240.8" x2="467.4" y2="240.8" stroke="#000" stroke-width="1.0" />
<circle cx="298.1" cy="233.6" r="1.4" fill="#fff" stroke="#333" stroke-width="0.6"/>
<circle cx="301.2" cy="227.4" r="1.4" fill="#fff" stroke="#333" stroke-width="0.6"/>
<circle cx="304.4" cy="221.2" r="1.4" fill="#fff" stroke="#333" stroke-width="0.6"/>
<circle cx="307.5" cy="215.0" r="1.4" fill="#fff" stroke="#333" stroke-width="0.6"/>
<circle cx="310.6" cy="208.9" r="1.4" fill="#fff" stroke="#333" stroke-width="0.6"/>
<circle cx="313.7" cy="202.7" r="1.4" fill="#fff" stroke="#333" stroke-width="0.6"/>
<circle cx="316.8" cy="196.5" r="1.4" fill="#fff" stroke="#333" stroke-width="0.6"/>
<circle cx="319.9" cy="190.3" r="1.4" fill="#fff" stroke="#333" stroke-width="0.6"/>
<circle cx="323.0" cy="184.1" r="1.4" fill="#fff" stroke="#333" stroke-width="0.6"/>
<circle cx="326.1" cy="178.0" r="1.4" fill="#fff" stroke="#333" stroke-width="0.6"/>
<circle cx="329.2" cy="171.8" r="1.4" fill="#fff" stroke="#333" stroke-width="0.6"/>
<circle cx="332.3" cy="165.8" r="1.4" fill="#fff" stroke="#333" stroke-width="0.6"/>
<circle cx="335.4" cy="160.3" r="1.4" fill="#fff" stroke="#333" stroke-width="0.6"/>
<circle cx="338.5" cy="155.4" r="1.4" fill="#fff" stroke="#333" stroke-width="0.6"/>
<circle cx="341.6" cy="151.4" r="1.4" fill="#fff" stroke="#333" stroke-width="0.6"/>
<circle cx="344.7" cy="148.1" r="1.4" fill="#fff" stroke="#333" stroke-width="0.6"/>
<circle cx="347.8" cy="145.5" r="1.4" fill="#fff" stroke="#333" stroke-width="0.6"/>
<circle cx="350.9" cy="143.7" r="1.4" fill="#fff" stroke="#333" stroke-width="0.6"/>
<circle cx="354.0" cy="142.6" r="1.4" fill="#fff" stroke="#333" stroke-width="0.6"/>
<circle cx="357.2" cy="141.6" r="1.4" fill="#fff" stroke="#333" stroke-width="0.6"/>
<circle cx="360.3" cy="141.3" r="1.4" fill="#fff" stroke="#333" stroke-width="0.6"/>
<circle cx="363.4" cy="142.4" r="1.4" fill="#fff" stroke="#333" stroke-width="0.6"/>
<circle cx="366.5" cy="143.5" r="1.4" fill="#fff" stroke="#333" stroke-width="0.6"/>
<circle cx="369.6" cy="144.3" r="1.4" fill="#fff" stroke="#333" stroke-width="0.6"/>
<circle cx="372.7" cy="144.9" r="1.4" fill="#fff" stroke="#333" stroke-width="0.6"/>
<circle cx="375.8" cy="145.4" r="1.4" fill="#fff" stroke="#333" stroke-width="0.6"/>
<circle cx="378.9" cy="145.7" r="1.4" fill="#fff" stroke="#333" stroke-width="0.6"/>
<circle cx="382.0" cy="145.8" r="1.4" fill="#fff" stroke="#333" stroke-width="0.6"/>
<circle cx="385.1" cy="145.7" r="1.4" fill="#fff" stroke="#333" stroke-width="0.6"/>
<circle cx="388.2" cy="145.4" r="1.4" fill="#fff" stroke="#333" stroke-width="0.6"/>
<circle cx="391.3" cy="144.9" r="1.4" fill="#fff" stroke="#333" stroke-width="0.6"/>
<circle cx="394.4" cy="144.3" r="1.4" fill="#fff" stroke="#333" stroke-width="0.6"/>
<circle cx="397.5" cy="143.5" r="1.4" fill="#fff" stroke="#333" stroke-width="0.6"/>
<circle cx="400.6" cy="142.4" r="1.4" fill="#fff" stroke="#333" stroke-width="0.6"/>
<circle cx="403.7" cy="141.3" r="1.4" fill="#fff" stroke="#333" stroke-width="0.6"/>
<circle cx="406.8" cy="141.6" r="1.4" fill="#fff" stroke="#333" stroke-width="0.6"/>
<circle cx="410.0" cy="142.6" r="1.4" fill="#fff" stroke="#333" stroke-width="0.6"/>
<circle cx="413.1" cy="143.7" r="1.4" fill="#fff" stroke="#333" stroke-width="0.6"/>
<circle cx="416.2" cy="145.5" r="1.4" fill="#fff" stroke="#333" stroke-width="0.6"/>
<circle cx="419.3" cy="148.1" r="1.4" fill="#fff" stroke="#333" stroke-width="0.6"/>
<circle cx="422.4" cy="151.4" r="1.4" fill="#fff" stroke="#333" stroke-width="0.6"/>
<circle cx="425.5" cy="155.4" r="1.4" fill="#fff" stroke="#333" stroke-width="0.6"/>
<circle cx="428.6" cy="160.3" r="1.4" fill="#fff" stroke="#333" stroke-width="0.6"/>
<circle cx="431.7" cy="165.8" r="1.4" fill="#fff" stroke="#333" stroke-width="0.6"/>
<circle cx="434.8" cy="171.8" r="1.4" fill="#fff" stroke="#333" stroke-width="0.6"/>
<circle cx="437.9" cy="178.0" r="1.4" fill="#fff" stroke="#333" stroke-width="0.6"/>
<circle cx="441.0" cy="184.1" r="1.4" fill="#fff" stroke="#333" stroke-width="0.6"/>
<circle cx="444.1" cy="190.3" r="1.4" fill="#fff" stroke="#333" stroke-width="0.6"/>
<circle cx="447.2" cy="196.5" r="1.4" fill="#fff" stroke="#333" stroke-width="0.6"/>
<circle cx="450.3" cy="202.7" r="1.4" fill="#fff" stroke="#333" stroke-width="0.6"/>
<circle cx="453.4" cy="208.9" r="1.4" fill="#fff" stroke="#333" stroke-width="0.6"/>
<circle cx="456.5" cy="215.0" r="1.4" fill="#fff" stroke="#333" stroke-width="0.6"/>
<circle cx="459.6" cy="221.2" r="1.4" fill="#fff" stroke="#333" stroke-width="0.6"/>
<circle cx="462.8" cy="227.4" r="1.4" fill="#fff" stroke="#333" stroke-width="0.6"/>
<circle cx="465.9" cy="233.6" r="1.4" fill="#fff" stroke="#333" stroke-width="0.6"/>
<circle cx="298.1" cy="233.7" r="1.4" fill="#fff" stroke="#333" stroke-width="0.6"/>
<circle cx="301.2" cy="228.6" r="1.4" fill="#fff" stroke="#333" stroke-width="0.6"/>
<circle cx="304.4" cy="223.6" r="1.4" fill="#fff" stroke="#333" stroke-width="0.6"/>
<circle cx="307.5" cy="218.5" r="1.4" fill="#fff" stroke="#333" stroke-width="0.6"/>
<circle cx="310.6" cy="213.5" r="1.4" fill="#fff" stroke="#333" stroke-width="0.6"/>
<circle cx="313.7" cy="208.4" r="1.4" fill="#fff" stroke="#333" stroke-width="0.6"/>
<circle cx="316.8" cy="203.3" r="1.4" fill="#fff" stroke="#333" stroke-width="0.6"/>
<circle cx="319.9" cy="198.3" r="1.4" fill="#fff" stroke="#333" stroke-width="0.6"/>
<circle cx="323.0" cy="193.2" r="1.4" fill="#fff" stroke="#333" stroke-width="0.6"/>
<circle cx="326.1" cy="188.2" r="1.4" fill="#fff" stroke="#333" stroke-width="0.6"/>
<circle cx="329.2" cy="183.1" r="1.4" fill="#fff" stroke="#333" stroke-width="0.6"/>
<circle cx="332.3" cy="178.2" r="1.4" fill="#fff" stroke="#333" stroke-width="0.6"/>
<circle cx="335.4" cy="173.7" r="1.4" fill="#fff" stroke="#333" stroke-width="0.6"/>
<circle cx="338.5" cy="169.6" r="1.4" fill="#fff" stroke="#333" stroke-width="0.6"/>
<circle cx="341.6" cy="166.2" r="1.4" fill="#fff" stroke="#333" stroke-width="0.6"/>
<circle cx="344.7" cy="163.4" r="1.4" fill="#fff" stroke="#333" stroke-width="0.6"/>
<circle cx="347.8" cy="161.2" r="1.4" fill="#fff" stroke="#333" stroke-width="0.6"/>
<circle cx="350.9" cy="159.5" r="1.4" fill="#fff" stroke="#333" stroke-width="0.6"/>
<circle cx="354.0" cy="158.5" r="1.4" fill="#fff" stroke="#333" stroke-width="0.6"/>
<circle cx="357.2" cy="157.5" r="1.4" fill="#fff" stroke="#333" stroke-width="0.6"/>
<circle cx="360.3" cy="157.0" r="1.4" fill="#fff" stroke="#333" stroke-width="0.6"/>
<circle cx="363.4" cy="157.9" r="1.4" fill="#fff" stroke="#333" stroke-width="0.6"/>
<circle cx="366.5" cy="158.8" r="1.4" fill="#fff" stroke="#333" stroke-width="0.6"/>
<circle cx="369.6" cy="159.5" r="1.4" fill="#fff" stroke="#333" stroke-width="0.6"/>
<circle cx="372.7" cy="160.0" r="1.4" fill="#fff" stroke="#333" stroke-width="0.6"/>
<circle cx="375.8" cy="160.4" r="1.4" fill="#fff" stroke="#333" stroke-width="0.6"/>
<circle cx="378.9" cy="160.7" r="1.4" fill="#fff" stroke="#333" stroke-width="0.6"/>
<circle cx="382.0" cy="160.7" r="1.4" fill="#fff" stroke="#333" stroke-width="0.6"/>
<circle cx="385.1" cy="160.7" r="1.4" fill="#fff" stroke="#333" stroke-width="0.6"/>
<circle cx="388.2" cy="160.4" r="1.4" fill="#fff" stroke="#333" stroke-width="0.6"/>
<circle cx="391.3" cy="160.0" r="1.4" fill="#fff" stroke="#333" stroke-width="0.6"/>
<circle cx="394.4" cy="159.5" r="1.4" fill="#fff" stroke="#333" stroke-width="0.6"/>
<circle cx="397.5" cy="158.8" r="1.4" fill="#fff" stroke="#333" stroke-width="0.6"/>
<circle cx="400.6" cy="157.9" r="1.4" fill="#fff" stroke="#333" stroke-width="0.6"/>
<circle cx="403.7" cy="157.0" r="1.4" fill="#fff" stroke="#333" stroke-width="0.6"/>
<circle cx="406.8" cy="157.5" r="1.4" fill="#fff" stroke="#333" stroke-width="0.6"/>
<circle cx="410.0" cy="158.5" r="1.4" fill="#fff" stroke="#333" stroke-width="0.6"/>
<circle cx="413.1" cy="159.5" r="1.4" fill="#fff" stroke="#333" stroke-width="0.6"/>
<circle cx="416.2" cy="161.2" r="1.4" fill="#fff" stroke="#333" stroke-width="0.6"/>
<circle cx="419.3" cy="163.4" r="1.4" fill="#fff" stroke="#333" stroke-width="0.6"/>
<circle cx="422.4" cy="166.2" r="1.4" fill="#fff" stroke="#333" stroke-width="0.6"/>
<circle cx="425.5" cy="169.6" r="1.4" fill="#fff" stroke="#333" stroke-width="0.6"/>
<circle cx="428.6" cy="173.7" r="1.4" fill="#fff" stroke="#333" stroke-width="0.6"/>
<circle cx="431.7" cy="178.2" r="1.4" fill="#fff" stroke="#333" stroke-width="0.6"/>
<circle cx="434.8" cy="183.1" r="1.4" fill="#fff" stroke="#333" stroke-width="0.6"/>
<circle cx="437.9" cy="188.2" r="1.4" fill="#fff" stroke="#333" stroke-width="0.6"/>
<circle cx="441.0" cy="193.2" r="1.4" fill="#fff" stroke="#333" stroke-width="0.6"/>
<circle cx="444.1" cy="198.3" r="1.4" fill="#fff" stroke="#333" stroke-width="0.6"/>
<circle cx="447.2" cy="203.3" r="1.4" fill="#fff" stroke="#333" stroke-width="0.6"/>
<circle cx="450.3" cy="208.4" r="1.4" fill="#fff" stroke="#333" stroke-width="0.6"/>
<circle cx="453.4" cy="213.5" r="1.4" fill="#fff" stroke="#333" stroke-width="0.6"/>
<circle cx="456.5" cy="218.5" r="1.4" fill="#fff" stroke="#333" stroke-width="0.6"/>
<circle cx="459.6" cy="223.6" r="1.4" fill="#fff" stroke="#333" stroke-width="0.6"/>
<circle cx="462.8" cy="228.6" r="1.4" fill="#fff" stroke="#333" stroke-width="0.6"/>
<circle cx="465.9" cy="233.7" r="1.4" fill="#fff" stroke="#333" stroke-width="0.6"/>
<circle cx="298.1" cy="235.9" r="1.4" fill="#fff" stroke="#333" stroke-width="0.6"/>
<circle cx="301.2" cy="232.3" r="1.4" fill="#fff" stroke="#333" stroke-width="0.6"/>
<circle cx="304.4" cy="228.7" r="1.4" fill="#fff" stroke="#333" stroke-width="0.6"/>
<circle cx="307.5" cy="225.1" r="1.4" fill="#fff" stroke="#333" stroke-width="0.6"/>
<circle cx="310.6" cy="221.5" r="1.4" fill="#fff" stroke="#333" stroke-width="0.6"/>
<circle cx="313.7" cy="218.0" r="1.4" fill="#fff" stroke="#333" stroke-width="0.6"/>
<circle cx="316.8" cy="214.4" r="1.4" fill="#fff" stroke="#333" stroke-width="0.6"/>
<circle cx="319.9" cy="210.8" r="1.4" fill="#fff" stroke="#333" stroke-width="0.6"/>
<circle cx="323.0" cy="207.2" r="1.4" fill="#fff" stroke="#333" stroke-width="0.6"/>
<circle cx="326.1" cy="203.6" r="1.4" fill="#fff" stroke="#333" stroke-width="0.6"/>
<circle cx="329.2" cy="200.0" r="1.4" fill="#fff" stroke="#333" stroke-width="0.6"/>
<circle cx="332.3" cy="196.5" r="1.4" fill="#fff" stroke="#333" stroke-width="0.6"/>
<circle cx="335.4" cy="193.3" r="1.4" fill="#fff" stroke="#333" stroke-width="0.6"/>
<circle cx="338.5" cy="190.2" r="1.4" fill="#fff" stroke="#333" stroke-width="0.6"/>
<circle cx="341.6" cy="187.6" r="1.4" fill="#fff" stroke="#333" stroke-width="0.6"/>
<circle cx="344.7" cy="185.5" r="1.4" fill="#fff" stroke="#333" stroke-width="0.6"/>
<circle cx="347.8" cy="183.7" r="1.4" fill="#fff" stroke="#333" stroke-width="0.6"/>
<circle cx="350.9" cy="182.4" r="1.4" fill="#fff" stroke="#333" stroke-width="0.6"/>
<circle cx="354.0" cy="181.4" r="1.4" fill="#fff" stroke="#333" stroke-width="0.6"/>
<circle cx="357.2" cy="180.5" r="1.4" fill="#fff" stroke="#333" stroke-width="0.6"/>
<circle cx="360.3" cy="179.9" r="1.4" fill="#fff" stroke="#333" stroke-width="0.6"/>
<circle cx="363.4" cy="180.5" r="1.4" fill="#fff" stroke="#333" stroke-width="0.6"/>
<circle cx="366.5" cy="181.1" r="1.4" fill="#fff" stroke="#333" stroke-width="0.6"/>
<circle cx="369.6" cy="181.6" r="1.4" fill="#fff" stroke="#333" stroke-width="0.6"/>
<circle cx="372.7" cy="182.0" r="1.4" fill="#fff" stroke="#333" stroke-width="0.6"/>
<circle cx="375.8" cy="182.3" r="1.4" fill="#fff" stroke="#333" stroke-width="0.6"/>
<circle cx="378.9" cy="182.4" r="1.4" fill="#fff" stroke="#333" stroke-width="0.6"/>
<circle cx="382.0" cy="182.5" r="1.4" fill="#fff" stroke="#333" stroke-width="0.6"/>
<circle cx="385.1" cy="182.4" r="1.4" fill="#fff" stroke="#333" stroke-width="0.6"/>
<circle cx="388.2" cy="182.3" r="1.4" fill="#fff" stroke="#333" stroke-width="0.6"/>
<circle cx="391.3" cy="182.0" r="1.4" fill="#fff" stroke="#333" stroke-width="0.6"/>
<circle cx="394.4" cy="181.6" r="1.4" fill="#fff" stroke="#333" stroke-width="0.6"/>
<circle cx="397.5" cy="181.1" r="1.4" fill="#fff" stroke="#333" stroke-width="0.6"/>
<circle cx="400.6" cy="180.5" r="1.4" fill="#fff" stroke="#333" stroke-width="0.6"/>
<circle cx="403.7" cy="179.9" r="1.4" fill="#fff" stroke="#333" stroke-width="0.6"/>
<circle cx="406.8" cy="180.5" r="1.4" fill="#fff" stroke="#333" stroke-width="0.6"/>
<circle cx="410.0" cy="181.4" r="1.4" fill="#fff" stroke="#333" stroke-width="0.6"/>
<circle cx="413.1" cy="182.4" r="1.4" fill="#fff" stroke="#333" stroke-width="0.6"/>
<circle cx="416.2" cy="183.7" r="1.4" fill="#fff" stroke="#333" stroke-width="0.6"/>
<circle cx="419.3" cy="185.5" r="1.4" fill="#fff" stroke="#333" stroke-width="0.6"/>
<circle cx="422.4" cy="187.6" r="1.4" fill="#fff" stroke="#333" stroke-width="0.6"/>
<circle cx="425.5" cy="190.2" r="1.4" fill="#fff" stroke="#333" stroke-width="0.6"/>
<circle cx="428.6" cy="193.3" r="1.4" fill="#fff" stroke="#333" stroke-width="0.6"/>
<circle cx="431.7" cy="196.5" r="1.4" fill="#fff" stroke="#333" stroke-width="0.6"/>
<circle cx="434.8" cy="200.0" r="1.4" fill="#fff" stroke="#333" stroke-width="0.6"/>
<circle cx="437.9" cy="203.6" r="1.4" fill="#fff" stroke="#333" stroke-width="0.6"/>
<circle cx="441.0" cy="207.2" r="1.4" fill="#fff" stroke="#333" stroke-width="0.6"/>
<circle cx="444.1" cy="210.8" r="1.4" fill="#fff" stroke="#333" stroke-width="0.6"/>
<circle cx="447.2" cy="214.4" r="1.4" fill="#fff" stroke="#333" stroke-width="0.6"/>
<circle cx="450.3" cy="218.0" r="1.4" fill="#fff" stroke="#333" stroke-width="0.6"/>
<circle cx="453.4" cy="221.5" r="1.4" fill="#fff" stroke="#333" stroke-width="0.6"/>
<circle cx="456.5" cy="225.1" r="1.4" fill="#fff" stroke="#333" stroke-width="0.6"/>
<circle cx="459.6" cy="228.7" r="1.4" fill="#fff" stroke="#333" stroke-width="0.6"/>
<circle cx="462.8" cy="232.3" r="1.4" fill="#fff" stroke="#333" stroke-width="0.6"/>
<circle cx="465.9" cy="235.9" r="1.4" fill="#fff" stroke="#333" stroke-width="0.6"/>
<circle cx="298.1" cy="237.8" r="1.4" fill="#fff" stroke="#333" stroke-width="0.6"/>
<circle cx="301.2" cy="235.5" r="1.4" fill="#fff" stroke="#333" stroke-width="0.6"/>
<circle cx="304.4" cy="233.2" r="1.4" fill="#fff" stroke="#333" stroke-width="0.6"/>
<circle cx="307.5" cy="230.9" r="1.4" fill="#fff" stroke="#333" stroke-width="0.6"/>
<circle cx="310.6" cy="228.6" r="1.4" fill="#fff" stroke="#333" stroke-width="0.6"/>
<circle cx="313.7" cy="226.3" r="1.4" fill="#fff" stroke="#333" stroke-width="0.6"/>
<circle cx="316.8" cy="224.0" r="1.4" fill="#fff" stroke="#333" stroke-width="0.6"/>
<circle cx="319.9" cy="221.7" r="1.4" fill="#fff" stroke="#333" stroke-width="0.6"/>
<circle cx="323.0" cy="219.4" r="1.4" fill="#fff" stroke="#333" stroke-width="0.6"/>
<circle cx="326.1" cy="217.1" r="1.4" fill="#fff" stroke="#333" stroke-width="0.6"/>
<circle cx="329.2" cy="214.8" r="1.4" fill="#fff" stroke="#333" stroke-width="0.6"/>
<circle cx="332.3" cy="212.6" r="1.4" fill="#fff" stroke="#333" stroke-width="0.6"/>
<circle cx="335.4" cy="210.5" r="1.4" fill="#fff" stroke="#333" stroke-width="0.6"/>
<circle cx="338.5" cy="208.4" r="1.4" fill="#fff" stroke="#333" stroke-width="0.6"/>
<circle cx="341.6" cy="206.5" r="1.4" fill="#fff" stroke="#333" stroke-width="0.6"/>
<circle cx="344.7" cy="204.9" r="1.4" fill="#fff" stroke="#333" stroke-width="0.6"/>
<circle cx="347.8" cy="203.6" r="1.4" fill="#fff" stroke="#333" stroke-width="0.6"/>
<circle cx="350.9" cy="202.5" r="1.4" fill="#fff" stroke="#333" stroke-width="0.6"/>
<circle cx="354.0" cy="201.7" r="1.4" fill="#fff" stroke="#333" stroke-width="0.6"/>
<circle cx="357.2" cy="200.8" r="1.4" fill="#fff" stroke="#333" stroke-width="0.6"/>
<circle cx="360.3" cy="200.1" r="1.4" fill="#fff" stroke="#333" stroke-width="0.6"/>
<circle cx="363.4" cy="200.2" r="1.4" fill="#fff" stroke="#333" stroke-width="0.6"/>
<circle cx="366.5" cy="200.5" r="1.4" fill="#fff" stroke="#333" stroke-width="0.6"/>
<circle cx="369.6" cy="200.8" r="1.4" fill="#fff" stroke="#333" stroke-width="0.6"/>
<circle cx="372.7" cy="201.1" r="1.4" fill="#fff" stroke="#333" stroke-width="0.6"/>
<circle cx="375.8" cy="201.3" r="1.4" fill="#fff" stroke="#333" stroke-width="0.6"/>
<circle cx="378.9" cy="201.4" r="1.4" fill="#fff" stroke="#333" stroke-width="0.6"/>
<circle cx="382.0" cy="201.4" r="1.4" fill="#fff" stroke="#333" stroke-width="0.6"/>
<circle cx="385.1" cy="201.4" r="1.4" fill="#fff" stroke="#333" stroke-width="0.6"/>
<circle cx="388.2" cy="201.3" r="1.4" fill="#fff" stroke="#333" stroke-width="0.6"/>
<circle cx="391.3" cy="201.1" r="1.4" fill="#fff" stroke="#333" stroke-width="0.6"/>
<circle cx="394.4" cy="200.8" r="1.4" fill="#fff" stroke="#333" stroke-width="0.6"/>
<circle cx="397.5" cy="200.5" r="1.4" fill="#fff" stroke="#333" stroke-width="0.6"/>
<circle cx="400.6" cy="200.2" r="1.4" fill="#fff" stroke="#333" stroke-width="0.6"/>
<circle cx="403.7" cy="200.1" r="1.4" fill="#fff" stroke="#333" stroke-width="0.6"/>
<circle cx="406.8" cy="200.8" r="1.4" fill="#fff" stroke="#333" stroke-width="0.6"/>
<circle cx="410.0" cy="201.7" r="1.4" fill="#fff" stroke="#333" stroke-width="0.6"/>
<circle cx="413.1" cy="202.5" r="1.4" fill="#fff" stroke="#333" stroke-width="0.6"/>
<circle cx="416.2" cy="203.6" r="1.4" fill="#fff" stroke="#333" stroke-width="0.6"/>
<circle cx="419.3" cy="204.9" r="1.4" fill="#fff" stroke="#333" stroke-width="0.6"/>
<circle cx="422.4" cy="206.5" r="1.4" fill="#fff" stroke="#333" stroke-width="0.6"/>
<circle cx="425.5" cy="208.4" r="1.4" fill="#fff" stroke="#333" stroke-width="0.6"/>
<circle cx="428.6" cy="210.5" r="1.4" fill="#fff" stroke="#333" stroke-width="0.6"/>
<circle cx="431.7" cy="212.6" r="1.4" fill="#fff" stroke="#333" stroke-width="0.6"/>
<circle cx="434.8" cy="214.8" r="1.4" fill="#fff" stroke="#333" stroke-width="0.6"/>
<circle cx="437.9" cy="217.1" r="1.4" fill="#fff" stroke="#333" stroke-width="0.6"/>
<circle cx="441.0" cy="219.4" r="1.4" fill="#fff" stroke="#333" stroke-width="0.6"/>
<circle cx="444.1" cy="221.7" r="1.4" fill="#fff" stroke="#333" stroke-width="0.6"/>
<circle cx="447.2" cy="224.0" r="1.4" fill="#fff" stroke="#333" stroke-width="0.6"/>
<circle cx="450.3" cy="226.3" r="1.4" fill="#fff" stroke="#333" stroke-width="0.6"/>
<circle cx="453.4" cy="228.6" r="1.4" fill="#fff" stroke="#333" stroke-width="0.6"/>
<circle cx="456.5" cy="230.9" r="1.4" fill="#fff" stroke="#333" stroke-width="0.6"/>
<circle cx="459.6" cy="233.2" r="1.4" fill="#fff" stroke="#333" stroke-width="0.6"/>
<circle cx="462.8" cy="235.5" r="1.4" fill="#fff" stroke="#333" stroke-width="0.6"/>
<circle cx="465.9" cy="237.8" r="1.4" fill="#fff" stroke="#333" stroke-width="0.6"/>
<circle cx="298.1" cy="234.4" r="2.35" fill="#1212b0"/>
<circle cx="301.2" cy="228.6" r="2.35" fill="#1212b0"/>
<circle cx="304.4" cy="222.7" r="2.35" fill="#1212b0"/>
<circle cx="307.5" cy="216.8" r="2.35" fill="#1212b0"/>
<circle cx="310.6" cy="210.9" r="2.35" fill="#1212b0"/>
<circle cx="313.7" cy="205.0" r="2.35" fill="#1212b0"/>
<circle cx="316.8" cy="199.1" r="2.35" fill="#1212b0"/>
<circle cx="319.9" cy="193.2" r="2.35" fill="#1212b0"/>
<circle cx="323.0" cy="187.4" r="2.35" fill="#1212b0"/>
<circle cx="326.1" cy="181.5" r="2.35" fill="#1212b0"/>
<circle cx="329.2" cy="175.6" r="2.35" fill="#1212b0"/>
<circle cx="332.3" cy="169.7" r="2.35" fill="#1212b0"/>
<circle cx="335.4" cy="163.9" r="2.35" fill="#1212b0"/>
<circle cx="338.5" cy="158.7" r="2.35" fill="#1212b0"/>
<circle cx="341.6" cy="154.2" r="2.35" fill="#1212b0"/>
<circle cx="344.7" cy="150.4" r="2.35" fill="#1212b0"/>
<circle cx="347.8" cy="147.3" r="2.35" fill="#1212b0"/>
<circle cx="350.9" cy="144.9" r="2.35" fill="#1212b0"/>
<circle cx="354.0" cy="143.1" r="2.35" fill="#1212b0"/>
<circle cx="357.2" cy="142.1" r="2.35" fill="#1212b0"/>
<circle cx="360.3" cy="141.8" r="2.35" fill="#1212b0"/>
<circle cx="363.4" cy="142.9" r="2.35" fill="#1212b0"/>
<circle cx="366.5" cy="144.0" r="2.35" fill="#1212b0"/>
<circle cx="369.6" cy="144.8" r="2.35" fill="#1212b0"/>
<circle cx="372.7" cy="145.4" r="2.35" fill="#1212b0"/>
<circle cx="375.8" cy="145.9" r="2.35" fill="#1212b0"/>
<circle cx="378.9" cy="146.2" r="2.35" fill="#1212b0"/>
<circle cx="382.0" cy="146.3" r="2.35" fill="#1212b0"/>
<circle cx="385.1" cy="146.2" r="2.35" fill="#1212b0"/>
<circle cx="388.2" cy="145.9" r="2.35" fill="#1212b0"/>
<circle cx="391.3" cy="145.4" r="2.35" fill="#1212b0"/>
<circle cx="394.4" cy="144.8" r="2.35" fill="#1212b0"/>
<circle cx="397.5" cy="144.0" r="2.35" fill="#1212b0"/>
<circle cx="400.6" cy="142.9" r="2.35" fill="#1212b0"/>
<circle cx="403.7" cy="141.8" r="2.35" fill="#1212b0"/>
<circle cx="406.8" cy="142.1" r="2.35" fill="#1212b0"/>
<circle cx="410.0" cy="143.1" r="2.35" fill="#1212b0"/>
<circle cx="413.1" cy="144.9" r="2.35" fill="#1212b0"/>
<circle cx="416.2" cy="147.3" r="2.35" fill="#1212b0"/>
<circle cx="419.3" cy="150.4" r="2.35" fill="#1212b0"/>
<circle cx="422.4" cy="154.2" r="2.35" fill="#1212b0"/>
<circle cx="425.5" cy="158.7" r="2.35" fill="#1212b0"/>
<circle cx="428.6" cy="163.9" r="2.35" fill="#1212b0"/>
<circle cx="431.7" cy="169.7" r="2.35" fill="#1212b0"/>
<circle cx="434.8" cy="175.6" r="2.35" fill="#1212b0"/>
<circle cx="437.9" cy="181.5" r="2.35" fill="#1212b0"/>
<circle cx="441.0" cy="187.4" r="2.35" fill="#1212b0"/>
<circle cx="444.1" cy="193.2" r="2.35" fill="#1212b0"/>
<circle cx="447.2" cy="199.1" r="2.35" fill="#1212b0"/>
<circle cx="450.3" cy="205.0" r="2.35" fill="#1212b0"/>
<circle cx="453.4" cy="210.9" r="2.35" fill="#1212b0"/>
<circle cx="456.5" cy="216.8" r="2.35" fill="#1212b0"/>
<circle cx="459.6" cy="222.7" r="2.35" fill="#1212b0"/>
<circle cx="462.8" cy="228.6" r="2.35" fill="#1212b0"/>
<circle cx="465.9" cy="234.4" r="2.35" fill="#1212b0"/>
<circle cx="298.1" cy="234.6" r="2.35" fill="#1212b0"/>
<circle cx="301.2" cy="229.7" r="2.35" fill="#1212b0"/>
<circle cx="304.4" cy="224.9" r="2.35" fill="#1212b0"/>
<circle cx="307.5" cy="220.1" r="2.35" fill="#1212b0"/>
<circle cx="310.6" cy="215.3" r="2.35" fill="#1212b0"/>
<circle cx="313.7" cy="210.5" r="2.35" fill="#1212b0"/>
<circle cx="316.8" cy="205.6" r="2.35" fill="#1212b0"/>
<circle cx="319.9" cy="200.8" r="2.35" fill="#1212b0"/>
<circle cx="323.0" cy="196.0" r="2.35" fill="#1212b0"/>
<circle cx="326.1" cy="191.2" r="2.35" fill="#1212b0"/>
<circle cx="329.2" cy="186.4" r="2.35" fill="#1212b0"/>
<circle cx="332.3" cy="181.5" r="2.35" fill="#1212b0"/>
<circle cx="335.4" cy="176.8" r="2.35" fill="#1212b0"/>
<circle cx="338.5" cy="172.4" r="2.35" fill="#1212b0"/>
<circle cx="341.6" cy="168.6" r="2.35" fill="#1212b0"/>
<circle cx="344.7" cy="165.4" r="2.35" fill="#1212b0"/>
<circle cx="347.8" cy="162.7" r="2.35" fill="#1212b0"/>
<circle cx="350.9" cy="160.6" r="2.35" fill="#1212b0"/>
<circle cx="354.0" cy="159.0" r="2.35" fill="#1212b0"/>
<circle cx="357.2" cy="158.0" r="2.35" fill="#1212b0"/>
<circle cx="360.3" cy="157.5" r="2.35" fill="#1212b0"/>
<circle cx="363.4" cy="158.4" r="2.35" fill="#1212b0"/>
<circle cx="366.5" cy="159.3" r="2.35" fill="#1212b0"/>
<circle cx="369.6" cy="160.0" r="2.35" fill="#1212b0"/>
<circle cx="372.7" cy="160.5" r="2.35" fill="#1212b0"/>
<circle cx="375.8" cy="160.9" r="2.35" fill="#1212b0"/>
<circle cx="378.9" cy="161.2" r="2.35" fill="#1212b0"/>
<circle cx="382.0" cy="161.2" r="2.35" fill="#1212b0"/>
<circle cx="385.1" cy="161.2" r="2.35" fill="#1212b0"/>
<circle cx="388.2" cy="160.9" r="2.35" fill="#1212b0"/>
<circle cx="391.3" cy="160.5" r="2.35" fill="#1212b0"/>
<circle cx="394.4" cy="160.0" r="2.35" fill="#1212b0"/>
<circle cx="397.5" cy="159.3" r="2.35" fill="#1212b0"/>
<circle cx="400.6" cy="158.4" r="2.35" fill="#1212b0"/>
<circle cx="403.7" cy="157.5" r="2.35" fill="#1212b0"/>
<circle cx="406.8" cy="158.0" r="2.35" fill="#1212b0"/>
<circle cx="410.0" cy="159.0" r="2.35" fill="#1212b0"/>
<circle cx="413.1" cy="160.6" r="2.35" fill="#1212b0"/>
<circle cx="416.2" cy="162.7" r="2.35" fill="#1212b0"/>
<circle cx="419.3" cy="165.4" r="2.35" fill="#1212b0"/>
<circle cx="422.4" cy="168.6" r="2.35" fill="#1212b0"/>
<circle cx="425.5" cy="172.4" r="2.35" fill="#1212b0"/>
<circle cx="428.6" cy="176.8" r="2.35" fill="#1212b0"/>
<circle cx="431.7" cy="181.5" r="2.35" fill="#1212b0"/>
<circle cx="434.8" cy="186.4" r="2.35" fill="#1212b0"/>
<circle cx="437.9" cy="191.2" r="2.35" fill="#1212b0"/>
<circle cx="441.0" cy="196.0" r="2.35" fill="#1212b0"/>
<circle cx="444.1" cy="200.8" r="2.35" fill="#1212b0"/>
<circle cx="447.2" cy="205.6" r="2.35" fill="#1212b0"/>
<circle cx="450.3" cy="210.5" r="2.35" fill="#1212b0"/>
<circle cx="453.4" cy="215.3" r="2.35" fill="#1212b0"/>
<circle cx="456.5" cy="220.1" r="2.35" fill="#1212b0"/>
<circle cx="459.6" cy="224.9" r="2.35" fill="#1212b0"/>
<circle cx="462.8" cy="229.7" r="2.35" fill="#1212b0"/>
<circle cx="465.9" cy="234.6" r="2.35" fill="#1212b0"/>
<circle cx="298.1" cy="236.7" r="2.35" fill="#1212b0"/>
<circle cx="301.2" cy="233.2" r="2.35" fill="#1212b0"/>
<circle cx="304.4" cy="229.8" r="2.35" fill="#1212b0"/>
<circle cx="307.5" cy="226.4" r="2.35" fill="#1212b0"/>
<circle cx="310.6" cy="223.0" r="2.35" fill="#1212b0"/>
<circle cx="313.7" cy="219.6" r="2.35" fill="#1212b0"/>
<circle cx="316.8" cy="216.1" r="2.35" fill="#1212b0"/>
<circle cx="319.9" cy="212.7" r="2.35" fill="#1212b0"/>
<circle cx="323.0" cy="209.3" r="2.35" fill="#1212b0"/>
<circle cx="326.1" cy="205.9" r="2.35" fill="#1212b0"/>
<circle cx="329.2" cy="202.5" r="2.35" fill="#1212b0"/>
<circle cx="332.3" cy="199.0" r="2.35" fill="#1212b0"/>
<circle cx="335.4" cy="195.6" r="2.35" fill="#1212b0"/>
<circle cx="338.5" cy="192.4" r="2.35" fill="#1212b0"/>
<circle cx="341.6" cy="189.5" r="2.35" fill="#1212b0"/>
<circle cx="344.7" cy="187.1" r="2.35" fill="#1212b0"/>
<circle cx="347.8" cy="185.0" r="2.35" fill="#1212b0"/>
<circle cx="350.9" cy="183.3" r="2.35" fill="#1212b0"/>
<circle cx="354.0" cy="181.9" r="2.35" fill="#1212b0"/>
<circle cx="357.2" cy="181.0" r="2.35" fill="#1212b0"/>
<circle cx="360.3" cy="180.4" r="2.35" fill="#1212b0"/>
<circle cx="363.4" cy="181.0" r="2.35" fill="#1212b0"/>
<circle cx="366.5" cy="181.6" r="2.35" fill="#1212b0"/>
<circle cx="369.6" cy="182.1" r="2.35" fill="#1212b0"/>
<circle cx="372.7" cy="182.5" r="2.35" fill="#1212b0"/>
<circle cx="375.8" cy="182.8" r="2.35" fill="#1212b0"/>
<circle cx="378.9" cy="182.9" r="2.35" fill="#1212b0"/>
<circle cx="382.0" cy="183.0" r="2.35" fill="#1212b0"/>
<circle cx="385.1" cy="182.9" r="2.35" fill="#1212b0"/>
<circle cx="388.2" cy="182.8" r="2.35" fill="#1212b0"/>
<circle cx="391.3" cy="182.5" r="2.35" fill="#1212b0"/>
<circle cx="394.4" cy="182.1" r="2.35" fill="#1212b0"/>
<circle cx="397.5" cy="181.6" r="2.35" fill="#1212b0"/>
<circle cx="400.6" cy="181.0" r="2.35" fill="#1212b0"/>
<circle cx="403.7" cy="180.4" r="2.35" fill="#1212b0"/>
<circle cx="406.8" cy="181.0" r="2.35" fill="#1212b0"/>
<circle cx="410.0" cy="181.9" r="2.35" fill="#1212b0"/>
<circle cx="413.1" cy="183.3" r="2.35" fill="#1212b0"/>
<circle cx="416.2" cy="185.0" r="2.35" fill="#1212b0"/>
<circle cx="419.3" cy="187.1" r="2.35" fill="#1212b0"/>
<circle cx="422.4" cy="189.5" r="2.35" fill="#1212b0"/>
<circle cx="425.5" cy="192.4" r="2.35" fill="#1212b0"/>
<circle cx="428.6" cy="195.6" r="2.35" fill="#1212b0"/>
<circle cx="431.7" cy="199.0" r="2.35" fill="#1212b0"/>
<circle cx="434.8" cy="202.5" r="2.35" fill="#1212b0"/>
<circle cx="437.9" cy="205.9" r="2.35" fill="#1212b0"/>
<circle cx="441.0" cy="209.3" r="2.35" fill="#1212b0"/>
<circle cx="444.1" cy="212.7" r="2.35" fill="#1212b0"/>
<circle cx="447.2" cy="216.1" r="2.35" fill="#1212b0"/>
<circle cx="450.3" cy="219.6" r="2.35" fill="#1212b0"/>
<circle cx="453.4" cy="223.0" r="2.35" fill="#1212b0"/>
<circle cx="456.5" cy="226.4" r="2.35" fill="#1212b0"/>
<circle cx="459.6" cy="229.8" r="2.35" fill="#1212b0"/>
<circle cx="462.8" cy="233.2" r="2.35" fill="#1212b0"/>
<circle cx="465.9" cy="236.7" r="2.35" fill="#1212b0"/>
<circle cx="298.1" cy="238.5" r="2.35" fill="#1212b0"/>
<circle cx="301.2" cy="236.3" r="2.35" fill="#1212b0"/>
<circle cx="304.4" cy="234.1" r="2.35" fill="#1212b0"/>
<circle cx="307.5" cy="231.9" r="2.35" fill="#1212b0"/>
<circle cx="310.6" cy="229.7" r="2.35" fill="#1212b0"/>
<circle cx="313.7" cy="227.5" r="2.35" fill="#1212b0"/>
<circle cx="316.8" cy="225.3" r="2.35" fill="#1212b0"/>
<circle cx="319.9" cy="223.1" r="2.35" fill="#1212b0"/>
<circle cx="323.0" cy="220.9" r="2.35" fill="#1212b0"/>
<circle cx="326.1" cy="218.7" r="2.35" fill="#1212b0"/>
<circle cx="329.2" cy="216.5" r="2.35" fill="#1212b0"/>
<circle cx="332.3" cy="214.3" r="2.35" fill="#1212b0"/>
<circle cx="335.4" cy="212.1" r="2.35" fill="#1212b0"/>
<circle cx="338.5" cy="210.0" r="2.35" fill="#1212b0"/>
<circle cx="341.6" cy="207.9" r="2.35" fill="#1212b0"/>
<circle cx="344.7" cy="206.1" r="2.35" fill="#1212b0"/>
<circle cx="347.8" cy="204.6" r="2.35" fill="#1212b0"/>
<circle cx="350.9" cy="203.3" r="2.35" fill="#1212b0"/>
<circle cx="354.0" cy="202.2" r="2.35" fill="#1212b0"/>
<circle cx="357.2" cy="201.3" r="2.35" fill="#1212b0"/>
<circle cx="360.3" cy="200.6" r="2.35" fill="#1212b0"/>
<circle cx="363.4" cy="200.7" r="2.35" fill="#1212b0"/>
<circle cx="366.5" cy="201.0" r="2.35" fill="#1212b0"/>
<circle cx="369.6" cy="201.3" r="2.35" fill="#1212b0"/>
<circle cx="372.7" cy="201.6" r="2.35" fill="#1212b0"/>
<circle cx="375.8" cy="201.8" r="2.35" fill="#1212b0"/>
<circle cx="378.9" cy="201.9" r="2.35" fill="#1212b0"/>
<circle cx="382.0" cy="201.9" r="2.35" fill="#1212b0"/>
<circle cx="385.1" cy="201.9" r="2.35" fill="#1212b0"/>
<circle cx="388.2" cy="201.8" r="2.35" fill="#1212b0"/>
<circle cx="391.3" cy="201.6" r="2.35" fill="#1212b0"/>
<circle cx="394.4" cy="201.3" r="2.35" fill="#1212b0"/>
<circle cx="397.5" cy="201.0" r="2.35" fill="#1212b0"/>
<circle cx="400.6" cy="200.7" r="2.35" fill="#1212b0"/>
<circle cx="403.7" cy="200.6" r="2.35" fill="#1212b0"/>
<circle cx="406.8" cy="201.3" r="2.35" fill="#1212b0"/>
<circle cx="410.0" cy="202.2" r="2.35" fill="#1212b0"/>
<circle cx="413.1" cy="203.3" r="2.35" fill="#1212b0"/>
<circle cx="416.2" cy="204.6" r="2.35" fill="#1212b0"/>
<circle cx="419.3" cy="206.1" r="2.35" fill="#1212b0"/>
<circle cx="422.4" cy="207.9" r="2.35" fill="#1212b0"/>
<circle cx="425.5" cy="210.0" r="2.35" fill="#1212b0"/>
<circle cx="428.6" cy="212.1" r="2.35" fill="#1212b0"/>
<circle cx="431.7" cy="214.3" r="2.35" fill="#1212b0"/>
<circle cx="434.8" cy="216.5" r="2.35" fill="#1212b0"/>
<circle cx="437.9" cy="218.7" r="2.35" fill="#1212b0"/>
<circle cx="441.0" cy="220.9" r="2.35" fill="#1212b0"/>
<circle cx="444.1" cy="223.1" r="2.35" fill="#1212b0"/>
<circle cx="447.2" cy="225.3" r="2.35" fill="#1212b0"/>
<circle cx="450.3" cy="227.5" r="2.35" fill="#1212b0"/>
<circle cx="453.4" cy="229.7" r="2.35" fill="#1212b0"/>
<circle cx="456.5" cy="231.9" r="2.35" fill="#1212b0"/>
<circle cx="459.6" cy="234.1" r="2.35" fill="#1212b0"/>
<circle cx="462.8" cy="236.3" r="2.35" fill="#1212b0"/>
<circle cx="465.9" cy="238.5" r="2.35" fill="#1212b0"/>
<text x="306.4" y="97.3" font-size="7.0" font-weight="normal" text-anchor="start" fill="#000" stroke="#000" stroke-width="0.3">Charged Hadrons</text>
<circle cx="298.0" cy="102.8" r="1.8" fill="#fff" stroke="#222" stroke-width="0.9"/>
<text x="306.4" y="105.6" font-size="7.25" font-weight="normal" text-anchor="start" fill="#000" stroke="#000" stroke-width="0.3">PHOBOS (0-6 %, 6-15 %, 15-25 %, 25-35 %)</text>
<circle cx="298.0" cy="111.2" r="2" fill="#1515c0"/>
<text x="306.4" y="114.0" font-size="7.5" font-weight="normal" text-anchor="start" fill="#000" stroke="#000" stroke-width="0.3">Hydro + UrQMD (b=2.4, 4.5, 6.3, 7.9 fm)</text>
<rect x="526.5" y="85.6" width="190.2" height="157.8" fill="none" stroke="#111" stroke-width="1.1"/>
<line x1="526.5" y1="85.6" x2="529.5" y2="85.6" stroke="#111" stroke-width="0.9" />
<line x1="713.7" y1="85.6" x2="716.7" y2="85.6" stroke="#111" stroke-width="0.9" />
<line x1="526.5" y1="101.4" x2="528.0" y2="101.4" stroke="#333" stroke-width="0.6" />
<line x1="526.5" y1="97.4" x2="528.0" y2="97.4" stroke="#333" stroke-width="0.6" />
<line x1="526.5" y1="94.6" x2="528.0" y2="94.6" stroke="#333" stroke-width="0.6" />
<line x1="526.5" y1="92.4" x2="528.0" y2="92.4" stroke="#333" stroke-width="0.6" />
<line x1="526.5" y1="90.6" x2="528.0" y2="90.6" stroke="#333" stroke-width="0.6" />
<line x1="526.5" y1="89.1" x2="528.0" y2="89.1" stroke="#333" stroke-width="0.6" />
<line x1="526.5" y1="87.8" x2="528.0" y2="87.8" stroke="#333" stroke-width="0.6" />
<line x1="526.5" y1="86.6" x2="528.0" y2="86.6" stroke="#333" stroke-width="0.6" />
<line x1="526.5" y1="108.1" x2="529.5" y2="108.1" stroke="#111" stroke-width="0.9" />
<line x1="713.7" y1="108.1" x2="716.7" y2="108.1" stroke="#111" stroke-width="0.9" />
<line x1="526.5" y1="123.9" x2="528.0" y2="123.9" stroke="#333" stroke-width="0.6" />
<line x1="526.5" y1="119.9" x2="528.0" y2="119.9" stroke="#333" stroke-width="0.6" />
<line x1="526.5" y1="117.1" x2="528.0" y2="117.1" stroke="#333" stroke-width="0.6" />
<line x1="526.5" y1="114.9" x2="528.0" y2="114.9" stroke="#333" stroke-width="0.6" />
<line x1="526.5" y1="113.1" x2="528.0" y2="113.1" stroke="#333" stroke-width="0.6" />
<line x1="526.5" y1="111.6" x2="528.0" y2="111.6" stroke="#333" stroke-width="0.6" />
<line x1="526.5" y1="110.3" x2="528.0" y2="110.3" stroke="#333" stroke-width="0.6" />
<line x1="526.5" y1="109.2" x2="528.0" y2="109.2" stroke="#333" stroke-width="0.6" />
<line x1="526.5" y1="130.7" x2="529.5" y2="130.7" stroke="#111" stroke-width="0.9" />
<line x1="713.7" y1="130.7" x2="716.7" y2="130.7" stroke="#111" stroke-width="0.9" />
<line x1="526.5" y1="146.4" x2="528.0" y2="146.4" stroke="#333" stroke-width="0.6" />
<line x1="526.5" y1="142.5" x2="528.0" y2="142.5" stroke="#333" stroke-width="0.6" />
<line x1="526.5" y1="139.7" x2="528.0" y2="139.7" stroke="#333" stroke-width="0.6" />
<line x1="526.5" y1="137.5" x2="528.0" y2="137.5" stroke="#333" stroke-width="0.6" />
<line x1="526.5" y1="135.7" x2="528.0" y2="135.7" stroke="#333" stroke-width="0.6" />
<line x1="526.5" y1="134.2" x2="528.0" y2="134.2" stroke="#333" stroke-width="0.6" />
<line x1="526.5" y1="132.9" x2="528.0" y2="132.9" stroke="#333" stroke-width="0.6" />
<line x1="526.5" y1="131.7" x2="528.0" y2="131.7" stroke="#333" stroke-width="0.6" />
<line x1="526.5" y1="153.2" x2="529.5" y2="153.2" stroke="#111" stroke-width="0.9" />
<line x1="713.7" y1="153.2" x2="716.7" y2="153.2" stroke="#111" stroke-width="0.9" />
<line x1="526.5" y1="169.0" x2="528.0" y2="169.0" stroke="#333" stroke-width="0.6" />
<line x1="526.5" y1="165.0" x2="528.0" y2="165.0" stroke="#333" stroke-width="0.6" />
<line x1="526.5" y1="162.2" x2="528.0" y2="162.2" stroke="#333" stroke-width="0.6" />
<line x1="526.5" y1="160.0" x2="528.0" y2="160.0" stroke="#333" stroke-width="0.6" />
<line x1="526.5" y1="158.2" x2="528.0" y2="158.2" stroke="#333" stroke-width="0.6" />
<line x1="526.5" y1="156.7" x2="528.0" y2="156.7" stroke="#333" stroke-width="0.6" />
<line x1="526.5" y1="155.4" x2="528.0" y2="155.4" stroke="#333" stroke-width="0.6" />
<line x1="526.5" y1="154.3" x2="528.0" y2="154.3" stroke="#333" stroke-width="0.6" />
<line x1="526.5" y1="175.8" x2="529.5" y2="175.8" stroke="#111" stroke-width="0.9" />
<line x1="713.7" y1="175.8" x2="716.7" y2="175.8" stroke="#111" stroke-width="0.9" />
<line x1="526.5" y1="191.5" x2="528.0" y2="191.5" stroke="#333" stroke-width="0.6" />
<line x1="526.5" y1="187.6" x2="528.0" y2="187.6" stroke="#333" stroke-width="0.6" />
<line x1="526.5" y1="184.7" x2="528.0" y2="184.7" stroke="#333" stroke-width="0.6" />
<line x1="526.5" y1="182.6" x2="528.0" y2="182.6" stroke="#333" stroke-width="0.6" />
<line x1="526.5" y1="180.8" x2="528.0" y2="180.8" stroke="#333" stroke-width="0.6" />
<line x1="526.5" y1="179.3" x2="528.0" y2="179.3" stroke="#333" stroke-width="0.6" />
<line x1="526.5" y1="178.0" x2="528.0" y2="178.0" stroke="#333" stroke-width="0.6" />
<line x1="526.5" y1="176.8" x2="528.0" y2="176.8" stroke="#333" stroke-width="0.6" />
<line x1="526.5" y1="198.3" x2="529.5" y2="198.3" stroke="#111" stroke-width="0.9" />
<line x1="713.7" y1="198.3" x2="716.7" y2="198.3" stroke="#111" stroke-width="0.9" />
<line x1="526.5" y1="214.1" x2="528.0" y2="214.1" stroke="#333" stroke-width="0.6" />
<line x1="526.5" y1="210.1" x2="528.0" y2="210.1" stroke="#333" stroke-width="0.6" />
<line x1="526.5" y1="207.3" x2="528.0" y2="207.3" stroke="#333" stroke-width="0.6" />
<line x1="526.5" y1="205.1" x2="528.0" y2="205.1" stroke="#333" stroke-width="0.6" />
<line x1="526.5" y1="203.3" x2="528.0" y2="203.3" stroke="#333" stroke-width="0.6" />
<line x1="526.5" y1="201.8" x2="528.0" y2="201.8" stroke="#333" stroke-width="0.6" />
<line x1="526.5" y1="200.5" x2="528.0" y2="200.5" stroke="#333" stroke-width="0.6" />
<line x1="526.5" y1="199.3" x2="528.0" y2="199.3" stroke="#333" stroke-width="0.6" />
<line x1="526.5" y1="220.9" x2="529.5" y2="220.9" stroke="#111" stroke-width="0.9" />
<line x1="713.7" y1="220.9" x2="716.7" y2="220.9" stroke="#111" stroke-width="0.9" />
<line x1="526.5" y1="236.6" x2="528.0" y2="236.6" stroke="#333" stroke-width="0.6" />
<line x1="526.5" y1="232.6" x2="528.0" y2="232.6" stroke="#333" stroke-width="0.6" />
<line x1="526.5" y1="229.8" x2="528.0" y2="229.8" stroke="#333" stroke-width="0.6" />
<line x1="526.5" y1="227.6" x2="528.0" y2="227.6" stroke="#333" stroke-width="0.6" />
<line x1="526.5" y1="225.9" x2="528.0" y2="225.9" stroke="#333" stroke-width="0.6" />
<line x1="526.5" y1="224.3" x2="528.0" y2="224.3" stroke="#333" stroke-width="0.6" />
<line x1="526.5" y1="223.0" x2="528.0" y2="223.0" stroke="#333" stroke-width="0.6" />
<line x1="526.5" y1="221.9" x2="528.0" y2="221.9" stroke="#333" stroke-width="0.6" />
<line x1="526.5" y1="243.4" x2="529.5" y2="243.4" stroke="#111" stroke-width="0.9" />
<line x1="713.7" y1="243.4" x2="716.7" y2="243.4" stroke="#111" stroke-width="0.9" />
<line x1="526.5" y1="243.4" x2="526.5" y2="240.4" stroke="#111" stroke-width="0.9" />
<line x1="526.5" y1="85.6" x2="526.5" y2="88.6" stroke="#111" stroke-width="0.9" />
<text x="526.5" y="258.7" font-size="12.5" font-weight="bold" text-anchor="middle" fill="#000" >0</text>
<line x1="574.0" y1="243.4" x2="574.0" y2="240.4" stroke="#111" stroke-width="0.9" />
<line x1="574.0" y1="85.6" x2="574.0" y2="88.6" stroke="#111" stroke-width="0.9" />
<text x="574.0" y="258.7" font-size="12.5" font-weight="bold" text-anchor="middle" fill="#000" >1</text>
<line x1="621.6" y1="243.4" x2="621.6" y2="240.4" stroke="#111" stroke-width="0.9" />
<line x1="621.6" y1="85.6" x2="621.6" y2="88.6" stroke="#111" stroke-width="0.9" />
<text x="621.6" y="258.7" font-size="12.5" font-weight="bold" text-anchor="middle" fill="#000" >2</text>
<line x1="669.1" y1="243.4" x2="669.1" y2="240.4" stroke="#111" stroke-width="0.9" />
<line x1="669.1" y1="85.6" x2="669.1" y2="88.6" stroke="#111" stroke-width="0.9" />
<text x="669.1" y="258.7" font-size="12.5" font-weight="bold" text-anchor="middle" fill="#000" >3</text>
<line x1="716.7" y1="243.4" x2="716.7" y2="240.4" stroke="#111" stroke-width="0.9" />
<line x1="716.7" y1="85.6" x2="716.7" y2="88.6" stroke="#111" stroke-width="0.9" />
<text x="716.7" y="258.7" font-size="12.5" font-weight="bold" text-anchor="middle" fill="#000" >4</text>
<text x="511.8" y="92.1" font-size="12.5" font-weight="bold" text-anchor="end">10</text>
<text x="512.1" y="86.9" font-size="8.5" font-weight="bold">3</text>
<text x="511.8" y="114.6" font-size="12.5" font-weight="bold" text-anchor="end">10</text>
<text x="512.1" y="109.4" font-size="8.5" font-weight="bold">2</text>
<text x="521.5" y="137.2" font-size="12.5" font-weight="bold" text-anchor="end" fill="#000" >10</text>
<text x="521.5" y="159.7" font-size="12.5" font-weight="bold" text-anchor="end" fill="#000" >1</text>
<text x="511.8" y="182.3" font-size="12.5" font-weight="bold" text-anchor="end">10</text>
<text x="512.1" y="177.1" font-size="8.5" font-weight="bold">-1</text>
<text x="511.8" y="204.8" font-size="12.5" font-weight="bold" text-anchor="end">10</text>
<text x="512.1" y="199.6" font-size="8.5" font-weight="bold">-2</text>
<text x="511.8" y="227.4" font-size="12.5" font-weight="bold" text-anchor="end">10</text>
<text x="512.1" y="222.2" font-size="8.5" font-weight="bold">-3</text>
<text x="511.8" y="249.9" font-size="12.5" font-weight="bold" text-anchor="end">10</text>
<text x="512.1" y="244.7" font-size="8.5" font-weight="bold">-4</text>
<text x="621" y="273" font-size="12.5" font-weight="bold" text-anchor="middle">P<tspan font-size="8.5" dy="2.5">T</tspan><tspan dy="-2.5"> (GeV)</tspan></text>
<text transform="translate(494,165) rotate(-90)" font-size="12.2" font-weight="bold" text-anchor="middle">1/(2π) P<tspan font-size="8.5" dy="2.5">T</tspan><tspan dy="-2.5">dN/dP</tspan><tspan font-size="8.5" dy="2.5">T</tspan><tspan dy="-2.5"> dy (GeV</tspan><tspan font-size="8.5" dy="-5">-2</tspan><tspan dy="5">)</tspan></text>
<circle cx="549.7" cy="143.3" r="2.2" fill="#fff" stroke="#111" stroke-width="1.0"/>
<line x1="547.7" y1="143.3" x2="551.7" y2="143.3" stroke="#111" stroke-width="0.7" />
<circle cx="559.7" cy="144.4" r="2.2" fill="#fff" stroke="#111" stroke-width="1.0"/>
<line x1="557.7" y1="144.4" x2="561.7" y2="144.4" stroke="#111" stroke-width="0.7" />
<circle cx="569.0" cy="146.7" r="2.2" fill="#fff" stroke="#111" stroke-width="1.0"/>
<line x1="567.0" y1="146.7" x2="571.0" y2="146.7" stroke="#111" stroke-width="0.7" />
<circle cx="578.8" cy="149.0" r="2.2" fill="#fff" stroke="#111" stroke-width="1.0"/>
<line x1="576.8" y1="149.0" x2="580.8" y2="149.0" stroke="#111" stroke-width="0.7" />
<circle cx="588.6" cy="151.9" r="2.2" fill="#fff" stroke="#111" stroke-width="1.0"/>
<line x1="586.6" y1="151.9" x2="590.6" y2="151.9" stroke="#111" stroke-width="0.7" />
<circle cx="598.2" cy="156.0" r="2.2" fill="#fff" stroke="#111" stroke-width="1.0"/>
<line x1="596.2" y1="156.0" x2="600.2" y2="156.0" stroke="#111" stroke-width="0.7" />
<circle cx="606.9" cy="160.6" r="2.2" fill="#fff" stroke="#111" stroke-width="1.0"/>
<line x1="604.9" y1="160.6" x2="608.9" y2="160.6" stroke="#111" stroke-width="0.7" />
<circle cx="616.5" cy="164.8" r="2.2" fill="#fff" stroke="#111" stroke-width="1.0"/>
<line x1="614.5" y1="164.8" x2="618.5" y2="164.8" stroke="#111" stroke-width="0.7" />
<circle cx="626.3" cy="170.0" r="2.2" fill="#fff" stroke="#111" stroke-width="1.0"/>
<line x1="624.3" y1="170.0" x2="628.3" y2="170.0" stroke="#111" stroke-width="0.7" />
<circle cx="634.6" cy="175.0" r="2.2" fill="#fff" stroke="#111" stroke-width="1.0"/>
<line x1="632.6" y1="175.0" x2="636.6" y2="175.0" stroke="#111" stroke-width="0.7" />
<circle cx="644.3" cy="181.1" r="2.2" fill="#fff" stroke="#111" stroke-width="1.0"/>
<line x1="642.3" y1="181.1" x2="646.3" y2="181.1" stroke="#111" stroke-width="0.7" />
<circle cx="654.4" cy="186.1" r="2.2" fill="#fff" stroke="#111" stroke-width="1.0"/>
<line x1="652.4" y1="186.1" x2="656.4" y2="186.1" stroke="#111" stroke-width="0.7" />
<circle cx="664.0" cy="191.1" r="2.2" fill="#fff" stroke="#111" stroke-width="1.0"/>
<line x1="662.0" y1="191.1" x2="666.0" y2="191.1" stroke="#111" stroke-width="0.7" />
<circle cx="677.6" cy="199.0" r="2.2" fill="#fff" stroke="#111" stroke-width="1.0"/>
<line x1="675.6" y1="199.0" x2="679.6" y2="199.0" stroke="#111" stroke-width="0.7" />
<circle cx="695.6" cy="209.3" r="2.2" fill="#fff" stroke="#111" stroke-width="1.0"/>
<line x1="693.6" y1="209.3" x2="697.6" y2="209.3" stroke="#111" stroke-width="0.7" />
<path d="M564.9 164.2 L567.4 168.7 L562.4 168.7 Z" fill="#fff" stroke="#1a1ab0" stroke-width="1.0"/>
<path d="M579.7 167.9 L582.2 172.4 L577.2 172.4 Z" fill="#fff" stroke="#1a1ab0" stroke-width="1.0"/>
<path d="M589.9 169.7 L592.4 174.2 L587.4 174.2 Z" fill="#fff" stroke="#1a1ab0" stroke-width="1.0"/>
<path d="M600.0 172.9 L602.5 177.4 L597.5 177.4 Z" fill="#fff" stroke="#1a1ab0" stroke-width="1.0"/>
<path d="M611.9 176.8 L614.4 181.3 L609.4 181.3 Z" fill="#fff" stroke="#1a1ab0" stroke-width="1.0"/>
<path d="M621.5 180.8 L624.0 185.3 L619.0 185.3 Z" fill="#fff" stroke="#1a1ab0" stroke-width="1.0"/>
<path d="M631.9 184.2 L634.4 188.7 L629.4 188.7 Z" fill="#fff" stroke="#1a1ab0" stroke-width="1.0"/>
<path d="M641.5 188.6 L644.0 193.1 L639.0 193.1 Z" fill="#fff" stroke="#1a1ab0" stroke-width="1.0"/>
<path d="M653.0 194.2 L655.5 198.7 L650.5 198.7 Z" fill="#fff" stroke="#1a1ab0" stroke-width="1.0"/>
<path d="M664.6 200.3 L667.1 204.8 L662.1 204.8 Z" fill="#fff" stroke="#1a1ab0" stroke-width="1.0"/>
<path d="M676.7 203.1 L679.2 207.6 L674.2 207.6 Z" fill="#fff" stroke="#1a1ab0" stroke-width="1.0"/>
<path d="M696.1 214.5 L698.6 219.0 L693.6 219.0 Z" fill="#fff" stroke="#1a1ab0" stroke-width="1.0"/>
<rect x="582.0" y="184.2" width="4.6" height="4.6" fill="#fff" stroke="#e02424" stroke-width="1.0"/>
<line x1="582.3" y1="186.5" x2="586.3" y2="186.5" stroke="#e02424" stroke-width="0.7" />
<rect x="603.0" y="190.3" width="4.6" height="4.6" fill="#fff" stroke="#e02424" stroke-width="1.0"/>
<line x1="603.3" y1="192.6" x2="607.3" y2="192.6" stroke="#e02424" stroke-width="0.7" />
<rect x="624.0" y="194.9" width="4.6" height="4.6" fill="#fff" stroke="#e02424" stroke-width="1.0"/>
<line x1="624.3" y1="197.2" x2="628.3" y2="197.2" stroke="#e02424" stroke-width="0.7" />
<rect x="645.7" y="202.9" width="4.6" height="4.6" fill="#fff" stroke="#e02424" stroke-width="1.0"/>
<line x1="646.0" y1="205.2" x2="650.0" y2="205.2" stroke="#e02424" stroke-width="0.7" />
<rect x="676.6" y="214.7" width="4.6" height="4.6" fill="#fff" stroke="#e02424" stroke-width="1.0"/>
<line x1="676.9" y1="217.0" x2="680.9" y2="217.0" stroke="#e02424" stroke-width="0.7" />
<circle cx="538.6" cy="141.7" r="2.45" fill="#000"/>
<circle cx="546.9" cy="143.0" r="2.45" fill="#000"/>
<circle cx="555.6" cy="145.7" r="2.45" fill="#000"/>
<circle cx="564.0" cy="147.6" r="2.45" fill="#000"/>
<circle cx="572.3" cy="150.7" r="2.45" fill="#000"/>
<circle cx="581.0" cy="154.0" r="2.45" fill="#000"/>
<circle cx="589.5" cy="157.8" r="2.45" fill="#000"/>
<circle cx="598.2" cy="162.0" r="2.45" fill="#000"/>
<circle cx="606.9" cy="166.7" r="2.45" fill="#000"/>
<circle cx="615.5" cy="171.3" r="2.45" fill="#000"/>
<circle cx="623.9" cy="175.6" r="2.45" fill="#000"/>
<circle cx="632.2" cy="179.3" r="2.45" fill="#000"/>
<circle cx="641.1" cy="183.3" r="2.45" fill="#000"/>
<circle cx="649.3" cy="186.7" r="2.45" fill="#000"/>
<circle cx="658.0" cy="197.2" r="2.45" fill="#000"/>
<circle cx="666.5" cy="201.9" r="2.45" fill="#000"/>
<path d="M538.6 162.4 L541.4 167.4 L535.8 167.4 Z" fill="#1a1ab0"/>
<path d="M546.9 158.7 L549.7 163.7 L544.1 163.7 Z" fill="#1a1ab0"/>
<path d="M555.6 160.2 L558.4 165.2 L552.8 165.2 Z" fill="#1a1ab0"/>
<path d="M564.0 164.2 L566.8 169.2 L561.2 169.2 Z" fill="#1a1ab0"/>
<path d="M572.3 165.2 L575.1 170.2 L569.5 170.2 Z" fill="#1a1ab0"/>
<path d="M581.0 170.3 L583.8 175.3 L578.2 175.3 Z" fill="#1a1ab0"/>
<path d="M589.5 171.6 L592.3 176.6 L586.7 176.6 Z" fill="#1a1ab0"/>
<path d="M598.2 174.4 L601.0 179.4 L595.4 179.4 Z" fill="#1a1ab0"/>
<path d="M606.9 178.2 L609.7 183.2 L604.1 183.2 Z" fill="#1a1ab0"/>
<path d="M615.3 184.2 L618.1 189.2 L612.5 189.2 Z" fill="#1a1ab0"/>
<path d="M623.9 187.9 L626.7 192.9 L621.1 192.9 Z" fill="#1a1ab0"/>
<path d="M631.9 191.6 L634.7 196.6 L629.1 196.6 Z" fill="#1a1ab0"/>
<path d="M641.1 195.3 L643.9 200.3 L638.3 200.3 Z" fill="#1a1ab0"/>
<path d="M657.8 202.8 L660.6 207.8 L655.0 207.8 Z" fill="#1a1ab0"/>
<rect x="536.1" y="180.0" width="4.9" height="4.9" fill="#e02424"/>
<rect x="554.1" y="178.2" width="4.9" height="4.9" fill="#e02424"/>
<rect x="572.0" y="181.9" width="4.9" height="4.9" fill="#e02424"/>
<rect x="591.1" y="188.2" width="4.9" height="4.9" fill="#e02424"/>
<rect x="608.8" y="202.6" width="4.9" height="4.9" fill="#e02424"/>
<rect x="609.4" y="202.2" width="4.9" height="4.9" fill="#e02424"/>
<rect x="627.5" y="206.5" width="4.9" height="4.9" fill="#e02424"/>
<rect x="645.5" y="206.5" width="4.9" height="4.9" fill="#e02424"/>
<rect x="664.0" y="211.5" width="4.9" height="4.9" fill="#e02424"/>
<line x1="666.5" y1="214.8" x2="666.5" y2="224.0" stroke="#1a1ab0" stroke-width="0.9" />
<line x1="664.5" y1="214.8" x2="668.5" y2="214.8" stroke="#1a1ab0" stroke-width="0.9" />
<line x1="664.5" y1="224.0" x2="668.5" y2="224.0" stroke="#1a1ab0" stroke-width="0.9" />
<path d="M666.5 216.8 L668.7 220.8 L664.3 220.8 Z" fill="#fff" stroke="#1a1ab0" stroke-width="0.9"/>
<line x1="649.0" y1="201.0" x2="649.0" y2="212.0" stroke="#e02424" stroke-width="0.8" />
<line x1="647.2" y1="201.0" x2="650.8" y2="201.0" stroke="#e02424" stroke-width="0.8" />
<line x1="647.2" y1="212.0" x2="650.8" y2="212.0" stroke="#e02424" stroke-width="0.8" />
<text x="649.0" y="96.8" font-size="6.8" font-weight="bold" text-anchor="start" fill="#000" >centrality 0-5 %</text>
<circle cx="642.0" cy="101.7" r="2" fill="#fff" stroke="#000" stroke-width="1"/>
<text x="649.0" y="104.2" font-size="7" font-weight="bold" text-anchor="start" fill="#000" >Λ(STAR)</text>
<path d="M642.0 107.0 L644.2 111.0 L639.8 111.0 Z" fill="#fff" stroke="#1a1ab0" stroke-width="1"/>
<text x="649.0" y="111.7" font-size="7" font-weight="bold" text-anchor="start" fill="#000" >Ξ⁻(STAR)</text>
<path d="M640 114.2 V118.9 H644.5" fill="none" stroke="#e02424" stroke-width="1"/>
<text x="649.0" y="119.2" font-size="7" font-weight="bold" text-anchor="start" fill="#000" >Ω(STAR)</text>
<circle cx="642.0" cy="124.2" r="2.2" fill="#000"/>
<text x="649.0" y="126.7" font-size="7" font-weight="bold" text-anchor="start" fill="#000" >Λ(Hydro + UrQMD)</text>
<path d="M642.0 129.3 L644.4 133.6 L639.6 133.6 Z" fill="#1a1ab0"/>
<text x="649.0" y="134.2" font-size="7" font-weight="bold" text-anchor="start" fill="#000" >Ξ⁻(Hydro + UrQMD)</text>
<rect x="639.7" y="136.9" width="4.6" height="4.6" fill="#e02424"/>
<text x="649.0" y="141.7" font-size="7" font-weight="bold" text-anchor="start" fill="#000" >Ω(Hydro + UrQMD)</text>
<line x1="68.3" y1="311.5" x2="241.8" y2="311.5" stroke="#777" stroke-width="0.9" />
<line x1="241.8" y1="311.5" x2="241.8" y2="455.0" stroke="#555" stroke-width="0.9" />
<line x1="68.3" y1="311.5" x2="68.3" y2="455.0" stroke="#333" stroke-width="1" />
<line x1="68.3" y1="455.0" x2="241.8" y2="455.0" stroke="#222" stroke-width="1.1" />
<line x1="68.3" y1="455.0" x2="70.8" y2="455.0" stroke="#333" stroke-width="0.8" />
<line x1="239.3" y1="455.0" x2="241.8" y2="455.0" stroke="#555" stroke-width="0.8" />
<text x="64.0" y="459.3" font-size="12" font-weight="bold" text-anchor="end" fill="#000" >0.0</text>
<line x1="68.3" y1="455.0" x2="68.3" y2="452.5" stroke="#333" stroke-width="0.8" />
<line x1="68.3" y1="311.5" x2="68.3" y2="314.0" stroke="#777" stroke-width="0.8" />
<text x="68.3" y="471.3" font-size="12" font-weight="bold" text-anchor="middle" fill="#000" >0.0</text>
<line x1="68.3" y1="419.1" x2="70.8" y2="419.1" stroke="#333" stroke-width="0.8" />
<line x1="239.3" y1="419.1" x2="241.8" y2="419.1" stroke="#555" stroke-width="0.8" />
<text x="64.0" y="423.4" font-size="12" font-weight="bold" text-anchor="end" fill="#000" >0.5</text>
<line x1="111.7" y1="455.0" x2="111.7" y2="452.5" stroke="#333" stroke-width="0.8" />
<line x1="111.7" y1="311.5" x2="111.7" y2="314.0" stroke="#777" stroke-width="0.8" />
<text x="111.7" y="471.3" font-size="12" font-weight="bold" text-anchor="middle" fill="#000" >0.5</text>
<line x1="68.3" y1="383.2" x2="70.8" y2="383.2" stroke="#333" stroke-width="0.8" />
<line x1="239.3" y1="383.2" x2="241.8" y2="383.2" stroke="#555" stroke-width="0.8" />
<text x="64.0" y="387.6" font-size="12" font-weight="bold" text-anchor="end" fill="#000" >1.0</text>
<line x1="155.1" y1="455.0" x2="155.1" y2="452.5" stroke="#333" stroke-width="0.8" />
<line x1="155.1" y1="311.5" x2="155.1" y2="314.0" stroke="#777" stroke-width="0.8" />
<text x="155.1" y="471.3" font-size="12" font-weight="bold" text-anchor="middle" fill="#000" >1.0</text>
<line x1="68.3" y1="347.4" x2="70.8" y2="347.4" stroke="#333" stroke-width="0.8" />
<line x1="239.3" y1="347.4" x2="241.8" y2="347.4" stroke="#555" stroke-width="0.8" />
<text x="64.0" y="351.7" font-size="12" font-weight="bold" text-anchor="end" fill="#000" >1.5</text>
<line x1="198.4" y1="455.0" x2="198.4" y2="452.5" stroke="#333" stroke-width="0.8" />
<line x1="198.4" y1="311.5" x2="198.4" y2="314.0" stroke="#777" stroke-width="0.8" />
<text x="198.4" y="471.3" font-size="12" font-weight="bold" text-anchor="middle" fill="#000" >1.5</text>
<line x1="68.3" y1="311.5" x2="70.8" y2="311.5" stroke="#333" stroke-width="0.8" />
<line x1="239.3" y1="311.5" x2="241.8" y2="311.5" stroke="#555" stroke-width="0.8" />
<text x="64.0" y="315.8" font-size="12" font-weight="bold" text-anchor="end" fill="#000" >2.0</text>
<line x1="241.8" y1="455.0" x2="241.8" y2="452.5" stroke="#333" stroke-width="0.8" />
<line x1="241.8" y1="311.5" x2="241.8" y2="314.0" stroke="#777" stroke-width="0.8" />
<text x="241.8" y="471.3" font-size="12" font-weight="bold" text-anchor="middle" fill="#000" >2.0</text>
<line x1="68.3" y1="455.0" x2="69.6" y2="455.0" stroke="#555" stroke-width="0.5" />
<line x1="68.3" y1="447.8" x2="69.6" y2="447.8" stroke="#555" stroke-width="0.5" />
<line x1="68.3" y1="440.6" x2="69.6" y2="440.6" stroke="#555" stroke-width="0.5" />
<line x1="68.3" y1="433.5" x2="69.6" y2="433.5" stroke="#555" stroke-width="0.5" />
<line x1="68.3" y1="426.3" x2="69.6" y2="426.3" stroke="#555" stroke-width="0.5" />
<line x1="68.3" y1="419.1" x2="69.6" y2="419.1" stroke="#555" stroke-width="0.5" />
<line x1="68.3" y1="411.9" x2="69.6" y2="411.9" stroke="#555" stroke-width="0.5" />
<line x1="68.3" y1="404.8" x2="69.6" y2="404.8" stroke="#555" stroke-width="0.5" />
<line x1="68.3" y1="397.6" x2="69.6" y2="397.6" stroke="#555" stroke-width="0.5" />
<line x1="68.3" y1="390.4" x2="69.6" y2="390.4" stroke="#555" stroke-width="0.5" />
<line x1="68.3" y1="383.2" x2="69.6" y2="383.2" stroke="#555" stroke-width="0.5" />
<line x1="68.3" y1="376.1" x2="69.6" y2="376.1" stroke="#555" stroke-width="0.5" />
<line x1="68.3" y1="368.9" x2="69.6" y2="368.9" stroke="#555" stroke-width="0.5" />
<line x1="68.3" y1="361.7" x2="69.6" y2="361.7" stroke="#555" stroke-width="0.5" />
<line x1="68.3" y1="354.6" x2="69.6" y2="354.6" stroke="#555" stroke-width="0.5" />
<line x1="68.3" y1="347.4" x2="69.6" y2="347.4" stroke="#555" stroke-width="0.5" />
<line x1="68.3" y1="340.2" x2="69.6" y2="340.2" stroke="#555" stroke-width="0.5" />
<line x1="68.3" y1="333.0" x2="69.6" y2="333.0" stroke="#555" stroke-width="0.5" />
<line x1="68.3" y1="325.9" x2="69.6" y2="325.9" stroke="#555" stroke-width="0.5" />
<line x1="68.3" y1="318.7" x2="69.6" y2="318.7" stroke="#555" stroke-width="0.5" />
<text x="155.5" y="482.3" font-size="11.5" font-weight="bold" text-anchor="middle" fill="#000" >particle mass (GeV)</text>
<text transform="translate(43,383) rotate(-90)" font-size="11.5" font-weight="bold" text-anchor="middle">&lt;P<tspan font-size="8.5" dy="2.5">T</tspan><tspan dy="-2.5">&gt; (GeV)</tspan></text>
<circle cx="80.8" cy="420.4" r="2.1" fill="#fff" stroke="#1a1aa0" stroke-width="1"/>
<circle cx="80.8" cy="426.3" r="2.3" fill="#1a1aa0"/>
<path d="M80.8 423.5 L82.8 427.1 L78.8 427.1 Z" fill="#111"/>
<circle cx="112.3" cy="407.0" r="2.1" fill="#fff" stroke="#1a1aa0" stroke-width="1"/>
<circle cx="112.3" cy="408.0" r="2.3" fill="#1a1aa0"/>
<path d="M112.3 405.7 L114.1 408.9 L110.5 408.9 Z" fill="#111"/>
<circle cx="149.6" cy="388.3" r="2.1" fill="#fff" stroke="#1a1aa0" stroke-width="1"/>
<circle cx="149.6" cy="386.0" r="2.4" fill="#1a1aa0"/>
<circle cx="165.0" cy="380.0" r="2.1" fill="#fff" stroke="#1a1aa0" stroke-width="1"/>
<circle cx="165.0" cy="385.0" r="2.4" fill="#1a1aa0"/>
<path d="M165.0 380.2 L166.8 383.4 L163.2 383.4 Z" fill="#111"/>
<circle cx="182.8" cy="369.0" r="2.1" fill="#fff" stroke="#1a1aa0" stroke-width="1"/>
<circle cx="182.8" cy="374.0" r="2.3" fill="#1a1aa0"/>
<circle cx="182.8" cy="376.7" r="2.2" fill="#1a1aa0"/>
<path d="M182.8 380.0 L184.8 383.6 L180.8 383.6 Z" fill="#111"/>
<line x1="213.3" y1="344.0" x2="213.3" y2="362.0" stroke="#1a1aa0" stroke-width="0.8" />
<line x1="211.5" y1="344.0" x2="215.1" y2="344.0" stroke="#1a1aa0" stroke-width="0.8" />
<line x1="211.5" y1="362.0" x2="215.1" y2="362.0" stroke="#1a1aa0" stroke-width="0.8" />
<circle cx="213.3" cy="352.3" r="2.1" fill="#fff" stroke="#1a1aa0" stroke-width="1"/>
<circle cx="213.3" cy="360.7" r="2.3" fill="#1a1aa0"/>
<line x1="213.3" y1="355.0" x2="213.3" y2="372.0" stroke="#333" stroke-width="0.8" />
<line x1="211.5" y1="355.0" x2="215.1" y2="355.0" stroke="#333" stroke-width="0.8" />
<line x1="211.5" y1="372.0" x2="215.1" y2="372.0" stroke="#333" stroke-width="0.8" />
<path d="M213.3 366.5 L215.1 369.7 L211.5 369.7 Z" fill="#111"/>
<text x="80.8" y="441.5" font-size="9" font-family="Liberation Serif" text-anchor="middle" fill="#333">π</text>
<text x="112.8" y="442.0" font-size="10" font-weight="bold" text-anchor="middle" fill="#000" >K</text>
<text x="150.7" y="441.5" font-size="10" font-weight="bold" text-anchor="middle" fill="#000" >p</text>
<text x="167.3" y="441.5" font-size="10" font-family="Liberation Serif" text-anchor="middle" fill="#222">Λ</text>
<text x="185" y="441.5" font-size="10" font-family="Liberation Serif" text-anchor="middle" fill="#222">Ξ</text>
<text x="219.3" y="441.5" font-size="10" font-family="Liberation Serif" text-anchor="middle" fill="#222">Ω</text>
<circle cx="77.6" cy="320.4" r="1.9" fill="#fff" stroke="#1a1aa0" stroke-width="1"/>
<text x="86.9" y="323.0" font-size="7.8" font-weight="normal" text-anchor="start" fill="#000" stroke="#000" stroke-width="0.25">Hydro + decay</text>
<circle cx="77.6" cy="329.0" r="2" fill="#1a1aa0"/>
<text x="86.9" y="331.6" font-size="7.8" font-weight="normal" text-anchor="start" fill="#000" stroke="#000" stroke-width="0.25">Hydro + UrQMD</text>
<path d="M77.6 336.5 L79.4 339.7 L75.8 339.7 Z" fill="#111"/>
<text x="86.9" y="340.9" font-size="7.8" font-weight="normal" text-anchor="start" fill="#000" stroke="#000" stroke-width="0.25">STAR (Au+Au sqrt(s)=130 GeV)</text>
<rect x="303.5" y="313.8" width="179.0" height="143.2" fill="none" stroke="#222" stroke-width="1.1"/>
<line x1="303.5" y1="457.0" x2="306.5" y2="457.0" stroke="#222" stroke-width="0.9" />
<line x1="479.5" y1="457.0" x2="482.5" y2="457.0" stroke="#222" stroke-width="0.9" />
<line x1="303.5" y1="449.8" x2="305.0" y2="449.8" stroke="#444" stroke-width="0.5" />
<line x1="303.5" y1="445.5" x2="305.0" y2="445.5" stroke="#444" stroke-width="0.5" />
<line x1="303.5" y1="442.6" x2="305.0" y2="442.6" stroke="#444" stroke-width="0.5" />
<line x1="303.5" y1="440.2" x2="305.0" y2="440.2" stroke="#444" stroke-width="0.5" />
<line x1="303.5" y1="438.3" x2="305.0" y2="438.3" stroke="#444" stroke-width="0.5" />
<line x1="303.5" y1="436.7" x2="305.0" y2="436.7" stroke="#444" stroke-width="0.5" />
<line x1="303.5" y1="435.3" x2="305.0" y2="435.3" stroke="#444" stroke-width="0.5" />
<line x1="303.5" y1="434.1" x2="305.0" y2="434.1" stroke="#444" stroke-width="0.5" />
<line x1="303.5" y1="433.0" x2="306.5" y2="433.0" stroke="#222" stroke-width="0.9" />
<line x1="479.5" y1="433.0" x2="482.5" y2="433.0" stroke="#222" stroke-width="0.9" />
<line x1="303.5" y1="425.8" x2="305.0" y2="425.8" stroke="#444" stroke-width="0.5" />
<line x1="303.5" y1="421.5" x2="305.0" y2="421.5" stroke="#444" stroke-width="0.5" />
<line x1="303.5" y1="418.6" x2="305.0" y2="418.6" stroke="#444" stroke-width="0.5" />
<line x1="303.5" y1="416.2" x2="305.0" y2="416.2" stroke="#444" stroke-width="0.5" />
<line x1="303.5" y1="414.3" x2="305.0" y2="414.3" stroke="#444" stroke-width="0.5" />
<line x1="303.5" y1="412.7" x2="305.0" y2="412.7" stroke="#444" stroke-width="0.5" />
<line x1="303.5" y1="411.3" x2="305.0" y2="411.3" stroke="#444" stroke-width="0.5" />
<line x1="303.5" y1="410.1" x2="305.0" y2="410.1" stroke="#444" stroke-width="0.5" />
<line x1="303.5" y1="409.0" x2="306.5" y2="409.0" stroke="#222" stroke-width="0.9" />
<line x1="479.5" y1="409.0" x2="482.5" y2="409.0" stroke="#222" stroke-width="0.9" />
<line x1="303.5" y1="401.8" x2="305.0" y2="401.8" stroke="#444" stroke-width="0.5" />
<line x1="303.5" y1="397.5" x2="305.0" y2="397.5" stroke="#444" stroke-width="0.5" />
<line x1="303.5" y1="394.6" x2="305.0" y2="394.6" stroke="#444" stroke-width="0.5" />
<line x1="303.5" y1="392.2" x2="305.0" y2="392.2" stroke="#444" stroke-width="0.5" />
<line x1="303.5" y1="390.3" x2="305.0" y2="390.3" stroke="#444" stroke-width="0.5" />
<line x1="303.5" y1="388.7" x2="305.0" y2="388.7" stroke="#444" stroke-width="0.5" />
<line x1="303.5" y1="387.3" x2="305.0" y2="387.3" stroke="#444" stroke-width="0.5" />
<line x1="303.5" y1="386.1" x2="305.0" y2="386.1" stroke="#444" stroke-width="0.5" />
<line x1="303.5" y1="385.0" x2="306.5" y2="385.0" stroke="#222" stroke-width="0.9" />
<line x1="479.5" y1="385.0" x2="482.5" y2="385.0" stroke="#222" stroke-width="0.9" />
<line x1="303.5" y1="377.8" x2="305.0" y2="377.8" stroke="#444" stroke-width="0.5" />
<line x1="303.5" y1="373.5" x2="305.0" y2="373.5" stroke="#444" stroke-width="0.5" />
<line x1="303.5" y1="370.6" x2="305.0" y2="370.6" stroke="#444" stroke-width="0.5" />
<line x1="303.5" y1="368.2" x2="305.0" y2="368.2" stroke="#444" stroke-width="0.5" />
<line x1="303.5" y1="366.3" x2="305.0" y2="366.3" stroke="#444" stroke-width="0.5" />
<line x1="303.5" y1="364.7" x2="305.0" y2="364.7" stroke="#444" stroke-width="0.5" />
<line x1="303.5" y1="363.3" x2="305.0" y2="363.3" stroke="#444" stroke-width="0.5" />
<line x1="303.5" y1="362.1" x2="305.0" y2="362.1" stroke="#444" stroke-width="0.5" />
<line x1="303.5" y1="361.0" x2="306.5" y2="361.0" stroke="#222" stroke-width="0.9" />
<line x1="479.5" y1="361.0" x2="482.5" y2="361.0" stroke="#222" stroke-width="0.9" />
<line x1="303.5" y1="353.8" x2="305.0" y2="353.8" stroke="#444" stroke-width="0.5" />
<line x1="303.5" y1="349.5" x2="305.0" y2="349.5" stroke="#444" stroke-width="0.5" />
<line x1="303.5" y1="346.6" x2="305.0" y2="346.6" stroke="#444" stroke-width="0.5" />
<line x1="303.5" y1="344.2" x2="305.0" y2="344.2" stroke="#444" stroke-width="0.5" />
<line x1="303.5" y1="342.3" x2="305.0" y2="342.3" stroke="#444" stroke-width="0.5" />
<line x1="303.5" y1="340.7" x2="305.0" y2="340.7" stroke="#444" stroke-width="0.5" />
<line x1="303.5" y1="339.3" x2="305.0" y2="339.3" stroke="#444" stroke-width="0.5" />
<line x1="303.5" y1="338.1" x2="305.0" y2="338.1" stroke="#444" stroke-width="0.5" />
<line x1="303.5" y1="337.0" x2="306.5" y2="337.0" stroke="#222" stroke-width="0.9" />
<line x1="479.5" y1="337.0" x2="482.5" y2="337.0" stroke="#222" stroke-width="0.9" />
<line x1="303.5" y1="329.8" x2="305.0" y2="329.8" stroke="#444" stroke-width="0.5" />
<line x1="303.5" y1="325.5" x2="305.0" y2="325.5" stroke="#444" stroke-width="0.5" />
<line x1="303.5" y1="322.6" x2="305.0" y2="322.6" stroke="#444" stroke-width="0.5" />
<line x1="303.5" y1="320.2" x2="305.0" y2="320.2" stroke="#444" stroke-width="0.5" />
<line x1="303.5" y1="318.3" x2="305.0" y2="318.3" stroke="#444" stroke-width="0.5" />
<line x1="303.5" y1="316.7" x2="305.0" y2="316.7" stroke="#444" stroke-width="0.5" />
<line x1="303.5" y1="315.3" x2="305.0" y2="315.3" stroke="#444" stroke-width="0.5" />
<line x1="303.5" y1="314.1" x2="305.0" y2="314.1" stroke="#444" stroke-width="0.5" />
<line x1="303.5" y1="313.0" x2="306.5" y2="313.0" stroke="#222" stroke-width="0.9" />
<line x1="479.5" y1="313.0" x2="482.5" y2="313.0" stroke="#222" stroke-width="0.9" />
<text x="297.5" y="343.3" font-size="12" font-weight="bold" text-anchor="end" fill="#000" >10</text>
<text x="297.5" y="367.3" font-size="12" font-weight="bold" text-anchor="end" fill="#000" >1</text>
<text x="289.5" y="391.5" font-size="12" font-weight="bold" text-anchor="end">10</text>
<text x="289.8" y="386.0" font-size="8" font-weight="bold">-1</text>
<text x="289.5" y="415.5" font-size="12" font-weight="bold" text-anchor="end">10</text>
<text x="289.8" y="410.0" font-size="8" font-weight="bold">-2</text>
<text x="289.5" y="439.5" font-size="12" font-weight="bold" text-anchor="end">10</text>
<text x="289.8" y="434.0" font-size="8" font-weight="bold">-3</text>
<text x="289.5" y="463.5" font-size="12" font-weight="bold" text-anchor="end">10</text>
<text x="289.8" y="458.0" font-size="8" font-weight="bold">-4</text>
<line x1="302.7" y1="457.0" x2="302.7" y2="454.0" stroke="#222" stroke-width="0.9" />
<line x1="302.7" y1="313.8" x2="302.7" y2="316.8" stroke="#222" stroke-width="0.9" />
<text x="302.7" y="472.0" font-size="11.5" font-weight="bold" text-anchor="middle" fill="#000" >0</text>
<line x1="345.1" y1="457.0" x2="345.1" y2="454.0" stroke="#222" stroke-width="0.9" />
<line x1="345.1" y1="313.8" x2="345.1" y2="316.8" stroke="#222" stroke-width="0.9" />
<text x="345.1" y="472.0" font-size="11.5" font-weight="bold" text-anchor="middle" fill="#000" >20</text>
<line x1="387.5" y1="457.0" x2="387.5" y2="454.0" stroke="#222" stroke-width="0.9" />
<line x1="387.5" y1="313.8" x2="387.5" y2="316.8" stroke="#222" stroke-width="0.9" />
<text x="387.5" y="472.0" font-size="11.5" font-weight="bold" text-anchor="middle" fill="#000" >40</text>
<line x1="429.9" y1="457.0" x2="429.9" y2="454.0" stroke="#222" stroke-width="0.9" />
<line x1="429.9" y1="313.8" x2="429.9" y2="316.8" stroke="#222" stroke-width="0.9" />
<text x="429.9" y="472.0" font-size="11.5" font-weight="bold" text-anchor="middle" fill="#000" >60</text>
<line x1="472.3" y1="457.0" x2="472.3" y2="454.0" stroke="#222" stroke-width="0.9" />
<line x1="472.3" y1="313.8" x2="472.3" y2="316.8" stroke="#222" stroke-width="0.9" />
<text x="472.3" y="472.0" font-size="11.5" font-weight="bold" text-anchor="middle" fill="#000" >80</text>
<text x="393" y="484.5" font-size="11.5" font-weight="bold" text-anchor="middle"><tspan font-family="Liberation Serif" font-weight="normal" font-style="italic">τ</tspan><tspan font-size="7" dy="2">f</tspan><tspan dy="-2"> (fm)</tspan></text>
<text transform="translate(269.5,385.5) rotate(-90)" font-size="11.3" font-weight="bold" text-anchor="middle">d<tspan font-size="8" dy="-4.5">2</tspan><tspan dy="4.5">N/d</tspan><tspan font-family="Liberation Serif" font-style="italic" font-weight="normal">τ</tspan><tspan font-size="6.5" dy="2">f</tspan><tspan dy="-2"> d</tspan><tspan font-family="Liberation Serif" font-style="italic" font-weight="normal">η</tspan><tspan>(fm</tspan><tspan font-size="8" dy="-4.5">-1</tspan><tspan dy="4.5">)</tspan></text>
<text x="308.7" y="452.3" font-size="7.5" font-weight="normal" text-anchor="start" fill="#000" >b=2.4 fm</text>
<line x1="329.7" y1="413.8" x2="329.7" y2="427.8" stroke="#70e070" stroke-width="0.8" />
<line x1="328.2" y1="413.8" x2="331.2" y2="413.8" stroke="#70e070" stroke-width="0.8" />
<line x1="328.2" y1="427.8" x2="331.2" y2="427.8" stroke="#70e070" stroke-width="0.8" />
<line x1="335.0" y1="416.7" x2="335.0" y2="430.7" stroke="#70e070" stroke-width="0.8" />
<line x1="333.5" y1="416.7" x2="336.5" y2="416.7" stroke="#70e070" stroke-width="0.8" />
<line x1="333.5" y1="430.7" x2="336.5" y2="430.7" stroke="#70e070" stroke-width="0.8" />
<line x1="340.5" y1="411.3" x2="340.5" y2="425.3" stroke="#70e070" stroke-width="0.8" />
<line x1="339.0" y1="411.3" x2="342.0" y2="411.3" stroke="#70e070" stroke-width="0.8" />
<line x1="339.0" y1="425.3" x2="342.0" y2="425.3" stroke="#70e070" stroke-width="0.8" />
<line x1="345.8" y1="409.3" x2="345.8" y2="423.3" stroke="#70e070" stroke-width="0.8" />
<line x1="344.3" y1="409.3" x2="347.3" y2="409.3" stroke="#70e070" stroke-width="0.8" />
<line x1="344.3" y1="423.3" x2="347.3" y2="423.3" stroke="#70e070" stroke-width="0.8" />
<line x1="350.8" y1="413.3" x2="350.8" y2="427.3" stroke="#70e070" stroke-width="0.8" />
<line x1="349.3" y1="413.3" x2="352.3" y2="413.3" stroke="#70e070" stroke-width="0.8" />
<line x1="349.3" y1="427.3" x2="352.3" y2="427.3" stroke="#70e070" stroke-width="0.8" />
<line x1="356.7" y1="416.3" x2="356.7" y2="430.3" stroke="#70e070" stroke-width="0.8" />
<line x1="355.2" y1="416.3" x2="358.2" y2="416.3" stroke="#70e070" stroke-width="0.8" />
<line x1="355.2" y1="430.3" x2="358.2" y2="430.3" stroke="#70e070" stroke-width="0.8" />
<line x1="361.3" y1="413.3" x2="361.3" y2="427.3" stroke="#70e070" stroke-width="0.8" />
<line x1="359.8" y1="413.3" x2="362.8" y2="413.3" stroke="#70e070" stroke-width="0.8" />
<line x1="359.8" y1="427.3" x2="362.8" y2="427.3" stroke="#70e070" stroke-width="0.8" />
<line x1="372.0" y1="416.7" x2="372.0" y2="430.7" stroke="#70e070" stroke-width="0.8" />
<line x1="370.5" y1="416.7" x2="373.5" y2="416.7" stroke="#70e070" stroke-width="0.8" />
<line x1="370.5" y1="430.7" x2="373.5" y2="430.7" stroke="#70e070" stroke-width="0.8" />
<line x1="377.5" y1="421.0" x2="377.5" y2="435.0" stroke="#70e070" stroke-width="0.8" />
<line x1="376.0" y1="421.0" x2="379.0" y2="421.0" stroke="#70e070" stroke-width="0.8" />
<line x1="376.0" y1="435.0" x2="379.0" y2="435.0" stroke="#70e070" stroke-width="0.8" />
<line x1="361.3" y1="398.2" x2="361.3" y2="411.2" stroke="#e06060" stroke-width="0.8" />
<line x1="359.8" y1="398.2" x2="362.8" y2="398.2" stroke="#e06060" stroke-width="0.8" />
<line x1="359.8" y1="411.2" x2="362.8" y2="411.2" stroke="#e06060" stroke-width="0.8" />
<line x1="366.7" y1="407.7" x2="366.7" y2="420.7" stroke="#e06060" stroke-width="0.8" />
<line x1="365.2" y1="407.7" x2="368.2" y2="407.7" stroke="#e06060" stroke-width="0.8" />
<line x1="365.2" y1="420.7" x2="368.2" y2="420.7" stroke="#e06060" stroke-width="0.8" />
<line x1="372.0" y1="407.7" x2="372.0" y2="420.7" stroke="#e06060" stroke-width="0.8" />
<line x1="370.5" y1="407.7" x2="373.5" y2="407.7" stroke="#e06060" stroke-width="0.8" />
<line x1="370.5" y1="420.7" x2="373.5" y2="420.7" stroke="#e06060" stroke-width="0.8" />
<line x1="377.5" y1="407.7" x2="377.5" y2="420.7" stroke="#e06060" stroke-width="0.8" />
<line x1="376.0" y1="407.7" x2="379.0" y2="407.7" stroke="#e06060" stroke-width="0.8" />
<line x1="376.0" y1="420.7" x2="379.0" y2="420.7" stroke="#e06060" stroke-width="0.8" />
<line x1="382.8" y1="406.5" x2="382.8" y2="419.5" stroke="#e06060" stroke-width="0.8" />
<line x1="381.3" y1="406.5" x2="384.3" y2="406.5" stroke="#e06060" stroke-width="0.8" />
<line x1="381.3" y1="419.5" x2="384.3" y2="419.5" stroke="#e06060" stroke-width="0.8" />
<line x1="388.0" y1="407.7" x2="388.0" y2="420.7" stroke="#e06060" stroke-width="0.8" />
<line x1="386.5" y1="407.7" x2="389.5" y2="407.7" stroke="#e06060" stroke-width="0.8" />
<line x1="386.5" y1="420.7" x2="389.5" y2="420.7" stroke="#e06060" stroke-width="0.8" />
<line x1="393.3" y1="402.7" x2="393.3" y2="415.7" stroke="#e06060" stroke-width="0.8" />
<line x1="391.8" y1="402.7" x2="394.8" y2="402.7" stroke="#e06060" stroke-width="0.8" />
<line x1="391.8" y1="415.7" x2="394.8" y2="415.7" stroke="#e06060" stroke-width="0.8" />
<line x1="398.6" y1="412.5" x2="398.6" y2="425.5" stroke="#e06060" stroke-width="0.8" />
<line x1="397.1" y1="412.5" x2="400.1" y2="412.5" stroke="#e06060" stroke-width="0.8" />
<line x1="397.1" y1="425.5" x2="400.1" y2="425.5" stroke="#e06060" stroke-width="0.8" />
<line x1="403.6" y1="404.4" x2="403.6" y2="417.4" stroke="#e06060" stroke-width="0.8" />
<line x1="402.1" y1="404.4" x2="405.1" y2="404.4" stroke="#e06060" stroke-width="0.8" />
<line x1="402.1" y1="417.4" x2="405.1" y2="417.4" stroke="#e06060" stroke-width="0.8" />
<line x1="409.0" y1="407.3" x2="409.0" y2="420.3" stroke="#e06060" stroke-width="0.8" />
<line x1="407.5" y1="407.3" x2="410.5" y2="407.3" stroke="#e06060" stroke-width="0.8" />
<line x1="407.5" y1="420.3" x2="410.5" y2="420.3" stroke="#e06060" stroke-width="0.8" />
<line x1="414.0" y1="414.7" x2="414.0" y2="427.7" stroke="#e06060" stroke-width="0.8" />
<line x1="412.5" y1="414.7" x2="415.5" y2="414.7" stroke="#e06060" stroke-width="0.8" />
<line x1="412.5" y1="427.7" x2="415.5" y2="427.7" stroke="#e06060" stroke-width="0.8" />
<line x1="419.3" y1="412.5" x2="419.3" y2="425.5" stroke="#e06060" stroke-width="0.8" />
<line x1="417.8" y1="412.5" x2="420.8" y2="412.5" stroke="#e06060" stroke-width="0.8" />
<line x1="417.8" y1="425.5" x2="420.8" y2="425.5" stroke="#e06060" stroke-width="0.8" />
<line x1="424.8" y1="417.7" x2="424.8" y2="430.7" stroke="#e06060" stroke-width="0.8" />
<line x1="423.3" y1="417.7" x2="426.3" y2="417.7" stroke="#e06060" stroke-width="0.8" />
<line x1="423.3" y1="430.7" x2="426.3" y2="430.7" stroke="#e06060" stroke-width="0.8" />
<line x1="435.6" y1="410.3" x2="435.6" y2="423.3" stroke="#e06060" stroke-width="0.8" />
<line x1="434.1" y1="410.3" x2="437.1" y2="410.3" stroke="#e06060" stroke-width="0.8" />
<line x1="434.1" y1="423.3" x2="437.1" y2="423.3" stroke="#e06060" stroke-width="0.8" />
<line x1="440.7" y1="417.7" x2="440.7" y2="436.7" stroke="#e06060" stroke-width="0.8" />
<line x1="439.2" y1="417.7" x2="442.2" y2="417.7" stroke="#e06060" stroke-width="0.8" />
<line x1="439.2" y1="436.7" x2="442.2" y2="436.7" stroke="#e06060" stroke-width="0.8" />
<line x1="451.5" y1="409.3" x2="451.5" y2="428.3" stroke="#e06060" stroke-width="0.8" />
<line x1="450.0" y1="409.3" x2="453.0" y2="409.3" stroke="#e06060" stroke-width="0.8" />
<line x1="450.0" y1="428.3" x2="453.0" y2="428.3" stroke="#e06060" stroke-width="0.8" />
<line x1="456.7" y1="421.7" x2="456.7" y2="440.7" stroke="#e06060" stroke-width="0.8" />
<line x1="455.2" y1="421.7" x2="458.2" y2="421.7" stroke="#e06060" stroke-width="0.8" />
<line x1="455.2" y1="440.7" x2="458.2" y2="440.7" stroke="#e06060" stroke-width="0.8" />
<line x1="461.9" y1="410.3" x2="461.9" y2="429.3" stroke="#e06060" stroke-width="0.8" />
<line x1="460.4" y1="410.3" x2="463.4" y2="410.3" stroke="#e06060" stroke-width="0.8" />
<line x1="460.4" y1="429.3" x2="463.4" y2="429.3" stroke="#e06060" stroke-width="0.8" />
<line x1="314.2" y1="423.0" x2="314.2" y2="441.0" stroke="#e08080" stroke-width="0.9" />
<line x1="312.6" y1="423.0" x2="315.8" y2="423.0" stroke="#e08080" stroke-width="0.9" />
<line x1="312.6" y1="441.0" x2="315.8" y2="441.0" stroke="#e08080" stroke-width="0.9" />
<line x1="319.7" y1="415.0" x2="319.7" y2="424.0" stroke="#e02424" stroke-width="0.8" />
<line x1="318.2" y1="415.0" x2="321.2" y2="415.0" stroke="#e02424" stroke-width="0.8" />
<line x1="318.2" y1="424.0" x2="321.2" y2="424.0" stroke="#e02424" stroke-width="0.8" />
<line x1="308.3" y1="422.5" x2="308.3" y2="440.8" stroke="#1a1ac0" stroke-width="0.9" />
<line x1="306.7" y1="422.5" x2="309.9" y2="422.5" stroke="#1a1ac0" stroke-width="0.9" />
<line x1="306.7" y1="440.8" x2="309.9" y2="440.8" stroke="#1a1ac0" stroke-width="0.9" />
<line x1="472.2" y1="422.0" x2="472.2" y2="440.7" stroke="#1a1ac0" stroke-width="0.9" />
<line x1="470.6" y1="422.0" x2="473.8" y2="422.0" stroke="#1a1ac0" stroke-width="0.9" />
<line x1="470.6" y1="440.7" x2="473.8" y2="440.7" stroke="#1a1ac0" stroke-width="0.9" />
<line x1="435.4" y1="406.0" x2="435.4" y2="415.0" stroke="#1a1ac0" stroke-width="0.7" />
<line x1="434.0" y1="406.0" x2="436.8" y2="406.0" stroke="#1a1ac0" stroke-width="0.7" />
<line x1="434.0" y1="415.0" x2="436.8" y2="415.0" stroke="#1a1ac0" stroke-width="0.7" />
<line x1="440.9" y1="398.0" x2="440.9" y2="407.0" stroke="#1a1ac0" stroke-width="0.7" />
<line x1="439.5" y1="398.0" x2="442.3" y2="398.0" stroke="#1a1ac0" stroke-width="0.7" />
<line x1="439.5" y1="407.0" x2="442.3" y2="407.0" stroke="#1a1ac0" stroke-width="0.7" />
<line x1="445.9" y1="411.0" x2="445.9" y2="420.0" stroke="#1a1ac0" stroke-width="0.7" />
<line x1="444.5" y1="411.0" x2="447.3" y2="411.0" stroke="#1a1ac0" stroke-width="0.7" />
<line x1="444.5" y1="420.0" x2="447.3" y2="420.0" stroke="#1a1ac0" stroke-width="0.7" />
<line x1="451.1" y1="407.0" x2="451.1" y2="416.0" stroke="#1a1ac0" stroke-width="0.7" />
<line x1="449.7" y1="407.0" x2="452.5" y2="407.0" stroke="#1a1ac0" stroke-width="0.7" />
<line x1="449.7" y1="416.0" x2="452.5" y2="416.0" stroke="#1a1ac0" stroke-width="0.7" />
<line x1="456.3" y1="409.0" x2="456.3" y2="418.0" stroke="#1a1ac0" stroke-width="0.7" />
<line x1="454.9" y1="409.0" x2="457.7" y2="409.0" stroke="#1a1ac0" stroke-width="0.7" />
<line x1="454.9" y1="418.0" x2="457.7" y2="418.0" stroke="#1a1ac0" stroke-width="0.7" />
<line x1="461.3" y1="408.0" x2="461.3" y2="417.0" stroke="#1a1ac0" stroke-width="0.7" />
<line x1="459.9" y1="408.0" x2="462.7" y2="408.0" stroke="#1a1ac0" stroke-width="0.7" />
<line x1="459.9" y1="417.0" x2="462.7" y2="417.0" stroke="#1a1ac0" stroke-width="0.7" />
<line x1="466.9" y1="414.0" x2="466.9" y2="423.0" stroke="#1a1ac0" stroke-width="0.7" />
<line x1="465.5" y1="414.0" x2="468.3" y2="414.0" stroke="#1a1ac0" stroke-width="0.7" />
<line x1="465.5" y1="423.0" x2="468.3" y2="423.0" stroke="#1a1ac0" stroke-width="0.7" />
<line x1="472.2" y1="424.0" x2="472.2" y2="433.0" stroke="#1a1ac0" stroke-width="0.7" />
<line x1="470.8" y1="424.0" x2="473.6" y2="424.0" stroke="#1a1ac0" stroke-width="0.7" />
<line x1="470.8" y1="433.0" x2="473.6" y2="433.0" stroke="#1a1ac0" stroke-width="0.7" />
<line x1="477.4" y1="416.0" x2="477.4" y2="425.0" stroke="#1a1ac0" stroke-width="0.7" />
<line x1="476.0" y1="416.0" x2="478.8" y2="416.0" stroke="#1a1ac0" stroke-width="0.7" />
<line x1="476.0" y1="425.0" x2="478.8" y2="425.0" stroke="#1a1ac0" stroke-width="0.7" />
<circle cx="308.3" cy="370.7" r="1.9" fill="#fff" stroke="#222" stroke-width="0.9"/>
<line x1="306.4" y1="370.7" x2="310.2" y2="370.7" stroke="#222" stroke-width="0.7" />
<circle cx="313.9" cy="359.0" r="1.9" fill="#fff" stroke="#222" stroke-width="0.9"/>
<line x1="312.0" y1="359.0" x2="315.8" y2="359.0" stroke="#222" stroke-width="0.7" />
<circle cx="319.0" cy="348.5" r="1.9" fill="#fff" stroke="#222" stroke-width="0.9"/>
<line x1="317.1" y1="348.5" x2="320.9" y2="348.5" stroke="#222" stroke-width="0.7" />
<circle cx="324.6" cy="340.0" r="1.9" fill="#fff" stroke="#222" stroke-width="0.9"/>
<line x1="322.7" y1="340.0" x2="326.5" y2="340.0" stroke="#222" stroke-width="0.7" />
<circle cx="329.6" cy="337.4" r="1.9" fill="#fff" stroke="#222" stroke-width="0.9"/>
<line x1="327.7" y1="337.4" x2="331.5" y2="337.4" stroke="#222" stroke-width="0.7" />
<circle cx="334.8" cy="334.6" r="1.9" fill="#fff" stroke="#222" stroke-width="0.9"/>
<line x1="332.9" y1="334.6" x2="336.7" y2="334.6" stroke="#222" stroke-width="0.7" />
<circle cx="340.4" cy="332.6" r="1.9" fill="#fff" stroke="#222" stroke-width="0.9"/>
<line x1="338.5" y1="332.6" x2="342.3" y2="332.6" stroke="#222" stroke-width="0.7" />
<circle cx="345.4" cy="333.1" r="1.9" fill="#fff" stroke="#222" stroke-width="0.9"/>
<line x1="343.5" y1="333.1" x2="347.3" y2="333.1" stroke="#222" stroke-width="0.7" />
<circle cx="350.4" cy="335.6" r="1.9" fill="#fff" stroke="#222" stroke-width="0.9"/>
<line x1="348.5" y1="335.6" x2="352.3" y2="335.6" stroke="#222" stroke-width="0.7" />
<circle cx="355.9" cy="338.7" r="1.9" fill="#fff" stroke="#222" stroke-width="0.9"/>
<line x1="354.0" y1="338.7" x2="357.8" y2="338.7" stroke="#222" stroke-width="0.7" />
<circle cx="361.5" cy="343.0" r="1.9" fill="#fff" stroke="#222" stroke-width="0.9"/>
<line x1="359.6" y1="343.0" x2="363.4" y2="343.0" stroke="#222" stroke-width="0.7" />
<circle cx="366.3" cy="347.0" r="1.9" fill="#fff" stroke="#222" stroke-width="0.9"/>
<line x1="364.4" y1="347.0" x2="368.2" y2="347.0" stroke="#222" stroke-width="0.7" />
<circle cx="371.9" cy="350.4" r="1.9" fill="#fff" stroke="#222" stroke-width="0.9"/>
<line x1="370.0" y1="350.4" x2="373.8" y2="350.4" stroke="#222" stroke-width="0.7" />
<circle cx="376.9" cy="353.5" r="1.9" fill="#fff" stroke="#222" stroke-width="0.9"/>
<line x1="375.0" y1="353.5" x2="378.8" y2="353.5" stroke="#222" stroke-width="0.7" />
<circle cx="382.4" cy="356.7" r="1.9" fill="#fff" stroke="#222" stroke-width="0.9"/>
<line x1="380.5" y1="356.7" x2="384.3" y2="356.7" stroke="#222" stroke-width="0.7" />
<circle cx="388.0" cy="359.6" r="1.9" fill="#fff" stroke="#222" stroke-width="0.9"/>
<line x1="386.1" y1="359.6" x2="389.9" y2="359.6" stroke="#222" stroke-width="0.7" />
<circle cx="393.5" cy="362.4" r="1.9" fill="#fff" stroke="#222" stroke-width="0.9"/>
<line x1="391.6" y1="362.4" x2="395.4" y2="362.4" stroke="#222" stroke-width="0.7" />
<circle cx="399.0" cy="363.7" r="1.9" fill="#fff" stroke="#222" stroke-width="0.9"/>
<line x1="397.1" y1="363.7" x2="400.9" y2="363.7" stroke="#222" stroke-width="0.7" />
<circle cx="403.3" cy="367.0" r="1.9" fill="#fff" stroke="#222" stroke-width="0.9"/>
<line x1="401.4" y1="367.0" x2="405.2" y2="367.0" stroke="#222" stroke-width="0.7" />
<circle cx="408.5" cy="368.9" r="1.9" fill="#fff" stroke="#222" stroke-width="0.9"/>
<line x1="406.6" y1="368.9" x2="410.4" y2="368.9" stroke="#222" stroke-width="0.7" />
<circle cx="413.7" cy="370.7" r="1.9" fill="#fff" stroke="#222" stroke-width="0.9"/>
<line x1="411.8" y1="370.7" x2="415.6" y2="370.7" stroke="#222" stroke-width="0.7" />
<circle cx="419.3" cy="372.0" r="1.9" fill="#fff" stroke="#222" stroke-width="0.9"/>
<line x1="417.4" y1="372.0" x2="421.2" y2="372.0" stroke="#222" stroke-width="0.7" />
<circle cx="424.3" cy="372.4" r="1.9" fill="#fff" stroke="#222" stroke-width="0.9"/>
<line x1="422.4" y1="372.4" x2="426.2" y2="372.4" stroke="#222" stroke-width="0.7" />
<circle cx="429.8" cy="374.8" r="1.9" fill="#fff" stroke="#222" stroke-width="0.9"/>
<line x1="427.9" y1="374.8" x2="431.7" y2="374.8" stroke="#222" stroke-width="0.7" />
<circle cx="435.4" cy="376.7" r="1.9" fill="#fff" stroke="#222" stroke-width="0.9"/>
<line x1="433.5" y1="376.7" x2="437.3" y2="376.7" stroke="#222" stroke-width="0.7" />
<circle cx="440.9" cy="375.7" r="1.9" fill="#fff" stroke="#222" stroke-width="0.9"/>
<line x1="439.0" y1="375.7" x2="442.8" y2="375.7" stroke="#222" stroke-width="0.7" />
<circle cx="445.9" cy="378.1" r="1.9" fill="#fff" stroke="#222" stroke-width="0.9"/>
<line x1="444.0" y1="378.1" x2="447.8" y2="378.1" stroke="#222" stroke-width="0.7" />
<circle cx="451.1" cy="378.1" r="1.9" fill="#fff" stroke="#222" stroke-width="0.9"/>
<line x1="449.2" y1="378.1" x2="453.0" y2="378.1" stroke="#222" stroke-width="0.7" />
<circle cx="456.3" cy="378.1" r="1.9" fill="#fff" stroke="#222" stroke-width="0.9"/>
<line x1="454.4" y1="378.1" x2="458.2" y2="378.1" stroke="#222" stroke-width="0.7" />
<circle cx="461.3" cy="378.5" r="1.9" fill="#fff" stroke="#222" stroke-width="0.9"/>
<line x1="459.4" y1="378.5" x2="463.2" y2="378.5" stroke="#222" stroke-width="0.7" />
<circle cx="466.9" cy="379.4" r="1.9" fill="#fff" stroke="#222" stroke-width="0.9"/>
<line x1="465.0" y1="379.4" x2="468.8" y2="379.4" stroke="#222" stroke-width="0.7" />
<circle cx="471.9" cy="380.0" r="1.9" fill="#fff" stroke="#222" stroke-width="0.9"/>
<line x1="470.0" y1="380.0" x2="473.8" y2="380.0" stroke="#222" stroke-width="0.7" />
<circle cx="477.4" cy="378.5" r="1.9" fill="#fff" stroke="#222" stroke-width="0.9"/>
<line x1="475.5" y1="378.5" x2="479.3" y2="378.5" stroke="#222" stroke-width="0.7" />
<path d="M308.3 392.7 L310.4 396.5 L306.2 396.5 Z" fill="#fff" stroke="#1a1ac0" stroke-width="0.9"/>
<line x1="306.7" y1="395.4" x2="309.9" y2="395.4" stroke="#1a1ac0" stroke-width="0.6" />
<path d="M313.9 381.0 L316.0 384.8 L311.8 384.8 Z" fill="#fff" stroke="#1a1ac0" stroke-width="0.9"/>
<line x1="312.3" y1="383.7" x2="315.5" y2="383.7" stroke="#1a1ac0" stroke-width="0.6" />
<path d="M319.0 368.6 L321.1 372.4 L316.9 372.4 Z" fill="#fff" stroke="#1a1ac0" stroke-width="0.9"/>
<line x1="317.4" y1="371.3" x2="320.6" y2="371.3" stroke="#1a1ac0" stroke-width="0.6" />
<path d="M324.6 361.6 L326.7 365.4 L322.5 365.4 Z" fill="#fff" stroke="#1a1ac0" stroke-width="0.9"/>
<line x1="323.0" y1="364.3" x2="326.2" y2="364.3" stroke="#1a1ac0" stroke-width="0.6" />
<path d="M329.6 358.8 L331.7 362.6 L327.5 362.6 Z" fill="#fff" stroke="#1a1ac0" stroke-width="0.9"/>
<line x1="328.0" y1="361.5" x2="331.2" y2="361.5" stroke="#1a1ac0" stroke-width="0.6" />
<path d="M334.8 355.7 L336.9 359.5 L332.7 359.5 Z" fill="#fff" stroke="#1a1ac0" stroke-width="0.9"/>
<line x1="333.2" y1="358.4" x2="336.4" y2="358.4" stroke="#1a1ac0" stroke-width="0.6" />
<path d="M340.4 354.2 L342.5 358.0 L338.3 358.0 Z" fill="#fff" stroke="#1a1ac0" stroke-width="0.9"/>
<line x1="338.8" y1="356.9" x2="342.0" y2="356.9" stroke="#1a1ac0" stroke-width="0.6" />
<path d="M345.4 354.6 L347.5 358.4 L343.3 358.4 Z" fill="#fff" stroke="#1a1ac0" stroke-width="0.9"/>
<line x1="343.8" y1="357.3" x2="347.0" y2="357.3" stroke="#1a1ac0" stroke-width="0.6" />
<path d="M350.4 355.1 L352.5 358.9 L348.3 358.9 Z" fill="#fff" stroke="#1a1ac0" stroke-width="0.9"/>
<line x1="348.8" y1="357.8" x2="352.0" y2="357.8" stroke="#1a1ac0" stroke-width="0.6" />
<path d="M355.9 357.5 L358.0 361.3 L353.8 361.3 Z" fill="#fff" stroke="#1a1ac0" stroke-width="0.9"/>
<line x1="354.3" y1="360.2" x2="357.5" y2="360.2" stroke="#1a1ac0" stroke-width="0.6" />
<path d="M361.5 359.8 L363.6 363.6 L359.4 363.6 Z" fill="#fff" stroke="#1a1ac0" stroke-width="0.9"/>
<line x1="359.9" y1="362.5" x2="363.1" y2="362.5" stroke="#1a1ac0" stroke-width="0.6" />
<path d="M367.0 363.1 L369.1 366.9 L364.9 366.9 Z" fill="#fff" stroke="#1a1ac0" stroke-width="0.9"/>
<line x1="365.4" y1="365.8" x2="368.6" y2="365.8" stroke="#1a1ac0" stroke-width="0.6" />
<path d="M372.2 366.2 L374.3 370.0 L370.1 370.0 Z" fill="#fff" stroke="#1a1ac0" stroke-width="0.9"/>
<line x1="370.6" y1="368.9" x2="373.8" y2="368.9" stroke="#1a1ac0" stroke-width="0.6" />
<path d="M377.4 369.9 L379.5 373.7 L375.3 373.7 Z" fill="#fff" stroke="#1a1ac0" stroke-width="0.9"/>
<line x1="375.8" y1="372.6" x2="379.0" y2="372.6" stroke="#1a1ac0" stroke-width="0.6" />
<path d="M383.0 372.7 L385.1 376.5 L380.9 376.5 Z" fill="#fff" stroke="#1a1ac0" stroke-width="0.9"/>
<line x1="381.4" y1="375.4" x2="384.6" y2="375.4" stroke="#1a1ac0" stroke-width="0.6" />
<path d="M388.0 375.5 L390.1 379.3 L385.9 379.3 Z" fill="#fff" stroke="#1a1ac0" stroke-width="0.9"/>
<line x1="386.4" y1="378.2" x2="389.6" y2="378.2" stroke="#1a1ac0" stroke-width="0.6" />
<path d="M393.5 377.3 L395.6 381.1 L391.4 381.1 Z" fill="#fff" stroke="#1a1ac0" stroke-width="0.9"/>
<line x1="391.9" y1="380.0" x2="395.1" y2="380.0" stroke="#1a1ac0" stroke-width="0.6" />
<path d="M397.8 379.2 L399.9 383.0 L395.7 383.0 Z" fill="#fff" stroke="#1a1ac0" stroke-width="0.9"/>
<line x1="396.2" y1="381.9" x2="399.4" y2="381.9" stroke="#1a1ac0" stroke-width="0.6" />
<path d="M403.3 382.9 L405.4 386.7 L401.2 386.7 Z" fill="#fff" stroke="#1a1ac0" stroke-width="0.9"/>
<line x1="401.7" y1="385.6" x2="404.9" y2="385.6" stroke="#1a1ac0" stroke-width="0.6" />
<path d="M408.5 384.8 L410.6 388.6 L406.4 388.6 Z" fill="#fff" stroke="#1a1ac0" stroke-width="0.9"/>
<line x1="406.9" y1="387.5" x2="410.1" y2="387.5" stroke="#1a1ac0" stroke-width="0.6" />
<path d="M413.7 388.5 L415.8 392.3 L411.6 392.3 Z" fill="#fff" stroke="#1a1ac0" stroke-width="0.9"/>
<line x1="412.1" y1="391.2" x2="415.3" y2="391.2" stroke="#1a1ac0" stroke-width="0.6" />
<path d="M419.3 389.4 L421.4 393.2 L417.2 393.2 Z" fill="#fff" stroke="#1a1ac0" stroke-width="0.9"/>
<line x1="417.7" y1="392.1" x2="420.9" y2="392.1" stroke="#1a1ac0" stroke-width="0.6" />
<path d="M424.3 389.8 L426.4 393.6 L422.2 393.6 Z" fill="#fff" stroke="#1a1ac0" stroke-width="0.9"/>
<line x1="422.7" y1="392.5" x2="425.9" y2="392.5" stroke="#1a1ac0" stroke-width="0.6" />
<path d="M429.8 391.2 L431.9 395.0 L427.7 395.0 Z" fill="#fff" stroke="#1a1ac0" stroke-width="0.9"/>
<line x1="428.2" y1="393.9" x2="431.4" y2="393.9" stroke="#1a1ac0" stroke-width="0.6" />
<path d="M435.4 395.9 L437.5 399.7 L433.3 399.7 Z" fill="#fff" stroke="#1a1ac0" stroke-width="0.9"/>
<line x1="433.8" y1="398.6" x2="437.0" y2="398.6" stroke="#1a1ac0" stroke-width="0.6" />
<path d="M440.9 394.0 L443.0 397.8 L438.8 397.8 Z" fill="#fff" stroke="#1a1ac0" stroke-width="0.9"/>
<line x1="439.3" y1="396.7" x2="442.5" y2="396.7" stroke="#1a1ac0" stroke-width="0.6" />
<path d="M445.9 396.4 L448.0 400.2 L443.8 400.2 Z" fill="#fff" stroke="#1a1ac0" stroke-width="0.9"/>
<line x1="444.3" y1="399.1" x2="447.5" y2="399.1" stroke="#1a1ac0" stroke-width="0.6" />
<path d="M451.1 396.4 L453.2 400.2 L449.0 400.2 Z" fill="#fff" stroke="#1a1ac0" stroke-width="0.9"/>
<line x1="449.5" y1="399.1" x2="452.7" y2="399.1" stroke="#1a1ac0" stroke-width="0.6" />
<path d="M456.3 399.6 L458.4 403.4 L454.2 403.4 Z" fill="#fff" stroke="#1a1ac0" stroke-width="0.9"/>
<line x1="454.7" y1="402.3" x2="457.9" y2="402.3" stroke="#1a1ac0" stroke-width="0.6" />
<path d="M461.3 400.1 L463.4 403.9 L459.2 403.9 Z" fill="#fff" stroke="#1a1ac0" stroke-width="0.9"/>
<line x1="459.7" y1="402.8" x2="462.9" y2="402.8" stroke="#1a1ac0" stroke-width="0.6" />
<path d="M466.9 400.1 L469.0 403.9 L464.8 403.9 Z" fill="#fff" stroke="#1a1ac0" stroke-width="0.9"/>
<line x1="465.3" y1="402.8" x2="468.5" y2="402.8" stroke="#1a1ac0" stroke-width="0.6" />
<path d="M471.9 400.5 L474.0 404.3 L469.8 404.3 Z" fill="#fff" stroke="#1a1ac0" stroke-width="0.9"/>
<line x1="470.3" y1="403.2" x2="473.5" y2="403.2" stroke="#1a1ac0" stroke-width="0.6" />
<path d="M477.4 401.9 L479.5 405.7 L475.3 405.7 Z" fill="#fff" stroke="#1a1ac0" stroke-width="0.9"/>
<line x1="475.8" y1="404.6" x2="479.0" y2="404.6" stroke="#1a1ac0" stroke-width="0.6" />
<circle cx="314.2" cy="403.3" r="2.2" fill="#000"/>
<circle cx="319.7" cy="393.7" r="2.2" fill="#000"/>
<circle cx="325.0" cy="387.2" r="2.2" fill="#000"/>
<circle cx="330.0" cy="383.8" r="2.2" fill="#000"/>
<circle cx="335.0" cy="380.3" r="2.2" fill="#000"/>
<circle cx="340.5" cy="374.7" r="2.2" fill="#000"/>
<circle cx="345.8" cy="371.3" r="2.2" fill="#000"/>
<circle cx="350.4" cy="368.3" r="2.2" fill="#000"/>
<circle cx="355.9" cy="367.8" r="2.2" fill="#000"/>
<circle cx="361.5" cy="368.3" r="2.2" fill="#000"/>
<circle cx="366.7" cy="370.2" r="2.2" fill="#000"/>
<circle cx="372.2" cy="373.0" r="2.2" fill="#000"/>
<circle cx="377.4" cy="375.7" r="2.2" fill="#000"/>
<circle cx="383.0" cy="378.5" r="2.2" fill="#000"/>
<circle cx="388.0" cy="381.3" r="2.2" fill="#000"/>
<circle cx="393.5" cy="386.9" r="2.2" fill="#000"/>
<circle cx="399.0" cy="388.7" r="2.2" fill="#000"/>
<circle cx="403.3" cy="391.5" r="2.2" fill="#000"/>
<circle cx="408.5" cy="394.3" r="2.2" fill="#000"/>
<circle cx="413.7" cy="398.9" r="2.2" fill="#000"/>
<circle cx="419.3" cy="399.8" r="2.2" fill="#000"/>
<circle cx="424.3" cy="403.5" r="2.2" fill="#000"/>
<circle cx="429.8" cy="406.3" r="2.2" fill="#000"/>
<circle cx="435.4" cy="405.4" r="2.2" fill="#000"/>
<circle cx="440.9" cy="403.5" r="2.2" fill="#000"/>
<circle cx="445.6" cy="413.3" r="2.2" fill="#000"/>
<circle cx="456.7" cy="414.8" r="2.2" fill="#000"/>
<circle cx="461.9" cy="411.1" r="2.2" fill="#000"/>
<circle cx="467.0" cy="416.3" r="2.2" fill="#000"/>
<circle cx="472.7" cy="416.3" r="2.2" fill="#000"/>
<circle cx="478.1" cy="420.7" r="2.2" fill="#000"/>
<path d="M314.2 416.1 L316.4 420.1 L312.0 420.1 Z" fill="#1a1ac0"/>
<line x1="312.6" y1="416.3" x2="315.8" y2="416.3" stroke="#1a1ac0" stroke-width="0.6" />
<path d="M319.7 399.5 L321.9 403.5 L317.5 403.5 Z" fill="#1a1ac0"/>
<line x1="318.1" y1="399.7" x2="321.3" y2="399.7" stroke="#1a1ac0" stroke-width="0.6" />
<path d="M325.0 395.8 L327.2 399.8 L322.8 399.8 Z" fill="#1a1ac0"/>
<line x1="323.4" y1="396.0" x2="326.6" y2="396.0" stroke="#1a1ac0" stroke-width="0.6" />
<path d="M330.0 395.8 L332.2 399.8 L327.8 399.8 Z" fill="#1a1ac0"/>
<line x1="328.4" y1="396.0" x2="331.6" y2="396.0" stroke="#1a1ac0" stroke-width="0.6" />
<path d="M335.0 389.5 L337.2 393.5 L332.8 393.5 Z" fill="#1a1ac0"/>
<line x1="333.4" y1="389.7" x2="336.6" y2="389.7" stroke="#1a1ac0" stroke-width="0.6" />
<path d="M340.5 385.0 L342.7 389.0 L338.3 389.0 Z" fill="#1a1ac0"/>
<line x1="338.9" y1="385.2" x2="342.1" y2="385.2" stroke="#1a1ac0" stroke-width="0.6" />
<path d="M345.8 380.3 L348.0 384.3 L343.6 384.3 Z" fill="#1a1ac0"/>
<line x1="344.2" y1="380.5" x2="347.4" y2="380.5" stroke="#1a1ac0" stroke-width="0.6" />
<path d="M350.8 379.1 L353.0 383.1 L348.6 383.1 Z" fill="#1a1ac0"/>
<line x1="349.2" y1="379.3" x2="352.4" y2="379.3" stroke="#1a1ac0" stroke-width="0.6" />
<path d="M355.8 378.6 L358.0 382.6 L353.6 382.6 Z" fill="#1a1ac0"/>
<line x1="354.2" y1="378.8" x2="357.4" y2="378.8" stroke="#1a1ac0" stroke-width="0.6" />
<path d="M361.3 377.5 L363.5 381.5 L359.1 381.5 Z" fill="#1a1ac0"/>
<line x1="359.7" y1="377.7" x2="362.9" y2="377.7" stroke="#1a1ac0" stroke-width="0.6" />
<path d="M366.7 379.1 L368.9 383.1 L364.5 383.1 Z" fill="#1a1ac0"/>
<line x1="365.1" y1="379.3" x2="368.3" y2="379.3" stroke="#1a1ac0" stroke-width="0.6" />
<path d="M372.0 379.1 L374.2 383.1 L369.8 383.1 Z" fill="#1a1ac0"/>
<line x1="370.4" y1="379.3" x2="373.6" y2="379.3" stroke="#1a1ac0" stroke-width="0.6" />
<path d="M377.5 381.5 L379.7 385.5 L375.3 385.5 Z" fill="#1a1ac0"/>
<line x1="375.9" y1="381.7" x2="379.1" y2="381.7" stroke="#1a1ac0" stroke-width="0.6" />
<path d="M382.8 380.8 L385.0 384.8 L380.6 384.8 Z" fill="#1a1ac0"/>
<line x1="381.2" y1="381.0" x2="384.4" y2="381.0" stroke="#1a1ac0" stroke-width="0.6" />
<path d="M388.0 384.5 L390.2 388.5 L385.8 388.5 Z" fill="#1a1ac0"/>
<line x1="386.4" y1="384.7" x2="389.6" y2="384.7" stroke="#1a1ac0" stroke-width="0.6" />
<path d="M393.3 384.8 L395.5 388.8 L391.1 388.8 Z" fill="#1a1ac0"/>
<line x1="391.7" y1="385.0" x2="394.9" y2="385.0" stroke="#1a1ac0" stroke-width="0.6" />
<path d="M398.3 385.3 L400.5 389.3 L396.1 389.3 Z" fill="#1a1ac0"/>
<line x1="396.7" y1="385.5" x2="399.9" y2="385.5" stroke="#1a1ac0" stroke-width="0.6" />
<path d="M403.3 387.8 L405.5 391.8 L401.1 391.8 Z" fill="#1a1ac0"/>
<line x1="401.7" y1="388.0" x2="404.9" y2="388.0" stroke="#1a1ac0" stroke-width="0.6" />
<path d="M408.5 393.8 L410.7 397.8 L406.3 397.8 Z" fill="#1a1ac0"/>
<line x1="406.9" y1="394.0" x2="410.1" y2="394.0" stroke="#1a1ac0" stroke-width="0.6" />
<path d="M413.7 391.8 L415.9 395.8 L411.5 395.8 Z" fill="#1a1ac0"/>
<line x1="412.1" y1="392.0" x2="415.3" y2="392.0" stroke="#1a1ac0" stroke-width="0.6" />
<path d="M419.3 397.8 L421.5 401.8 L417.1 401.8 Z" fill="#1a1ac0"/>
<line x1="417.7" y1="398.0" x2="420.9" y2="398.0" stroke="#1a1ac0" stroke-width="0.6" />
<path d="M424.3 397.8 L426.5 401.8 L422.1 401.8 Z" fill="#1a1ac0"/>
<line x1="422.7" y1="398.0" x2="425.9" y2="398.0" stroke="#1a1ac0" stroke-width="0.6" />
<path d="M429.8 401.8 L432.0 405.8 L427.6 405.8 Z" fill="#1a1ac0"/>
<line x1="428.2" y1="402.0" x2="431.4" y2="402.0" stroke="#1a1ac0" stroke-width="0.6" />
<path d="M435.4 407.8 L437.6 411.8 L433.2 411.8 Z" fill="#1a1ac0"/>
<line x1="433.8" y1="408.0" x2="437.0" y2="408.0" stroke="#1a1ac0" stroke-width="0.6" />
<path d="M440.9 399.8 L443.1 403.8 L438.7 403.8 Z" fill="#1a1ac0"/>
<line x1="439.3" y1="400.0" x2="442.5" y2="400.0" stroke="#1a1ac0" stroke-width="0.6" />
<path d="M445.9 412.8 L448.1 416.8 L443.7 416.8 Z" fill="#1a1ac0"/>
<line x1="444.3" y1="413.0" x2="447.5" y2="413.0" stroke="#1a1ac0" stroke-width="0.6" />
<path d="M451.1 408.8 L453.3 412.8 L448.9 412.8 Z" fill="#1a1ac0"/>
<line x1="449.5" y1="409.0" x2="452.7" y2="409.0" stroke="#1a1ac0" stroke-width="0.6" />
<path d="M456.3 410.8 L458.5 414.8 L454.1 414.8 Z" fill="#1a1ac0"/>
<line x1="454.7" y1="411.0" x2="457.9" y2="411.0" stroke="#1a1ac0" stroke-width="0.6" />
<path d="M461.3 409.8 L463.5 413.8 L459.1 413.8 Z" fill="#1a1ac0"/>
<line x1="459.7" y1="410.0" x2="462.9" y2="410.0" stroke="#1a1ac0" stroke-width="0.6" />
<path d="M466.9 415.8 L469.1 419.8 L464.7 419.8 Z" fill="#1a1ac0"/>
<line x1="465.3" y1="416.0" x2="468.5" y2="416.0" stroke="#1a1ac0" stroke-width="0.6" />
<path d="M472.2 425.8 L474.4 429.8 L470.0 429.8 Z" fill="#1a1ac0"/>
<line x1="470.6" y1="426.0" x2="473.8" y2="426.0" stroke="#1a1ac0" stroke-width="0.6" />
<path d="M477.4 417.8 L479.6 421.8 L475.2 421.8 Z" fill="#1a1ac0"/>
<line x1="475.8" y1="418.0" x2="479.0" y2="418.0" stroke="#1a1ac0" stroke-width="0.6" />
<rect x="311.8" y="425.6" width="4.8" height="4.8" fill="#e02424"/>
<rect x="317.3" y="416.4" width="4.8" height="4.8" fill="#e02424"/>
<rect x="322.6" y="400.9" width="4.8" height="4.8" fill="#e02424"/>
<rect x="327.6" y="400.9" width="4.8" height="4.8" fill="#e02424"/>
<rect x="332.6" y="397.3" width="4.8" height="4.8" fill="#e02424"/>
<rect x="338.1" y="395.1" width="4.8" height="4.8" fill="#e02424"/>
<rect x="343.4" y="395.1" width="4.8" height="4.8" fill="#e02424"/>
<rect x="348.4" y="400.6" width="4.8" height="4.8" fill="#e02424"/>
<rect x="353.8" y="402.3" width="4.8" height="4.8" fill="#e02424"/>
<rect x="358.9" y="401.8" width="4.8" height="4.8" fill="#e02424"/>
<rect x="364.3" y="411.3" width="4.8" height="4.8" fill="#e02424"/>
<rect x="369.6" y="411.3" width="4.8" height="4.8" fill="#e02424"/>
<rect x="375.1" y="411.3" width="4.8" height="4.8" fill="#e02424"/>
<rect x="380.4" y="410.1" width="4.8" height="4.8" fill="#e02424"/>
<rect x="385.6" y="411.3" width="4.8" height="4.8" fill="#e02424"/>
<rect x="390.9" y="406.3" width="4.8" height="4.8" fill="#e02424"/>
<rect x="396.2" y="416.1" width="4.8" height="4.8" fill="#e02424"/>
<rect x="401.2" y="408.0" width="4.8" height="4.8" fill="#e02424"/>
<rect x="406.6" y="410.9" width="4.8" height="4.8" fill="#e02424"/>
<rect x="411.6" y="418.3" width="4.8" height="4.8" fill="#e02424"/>
<rect x="416.9" y="416.1" width="4.8" height="4.8" fill="#e02424"/>
<rect x="422.4" y="421.3" width="4.8" height="4.8" fill="#e02424"/>
<rect x="433.2" y="413.9" width="4.8" height="4.8" fill="#e02424"/>
<rect x="438.3" y="421.3" width="4.8" height="4.8" fill="#e02424"/>
<rect x="449.1" y="412.9" width="4.8" height="4.8" fill="#e02424"/>
<rect x="454.3" y="425.3" width="4.8" height="4.8" fill="#e02424"/>
<rect x="459.5" y="413.9" width="4.8" height="4.8" fill="#e02424"/>
<path d="M329.7 418.2 L332.3 420.8 L329.7 423.4 L327.1 420.8 Z" fill="#40e040"/>
<path d="M335.0 421.1 L337.6 423.7 L335.0 426.3 L332.4 423.7 Z" fill="#40e040"/>
<path d="M340.5 415.7 L343.1 418.3 L340.5 420.9 L337.9 418.3 Z" fill="#40e040"/>
<path d="M345.8 413.7 L348.4 416.3 L345.8 418.9 L343.2 416.3 Z" fill="#40e040"/>
<path d="M350.8 417.7 L353.4 420.3 L350.8 422.9 L348.2 420.3 Z" fill="#40e040"/>
<path d="M356.7 420.7 L359.3 423.3 L356.7 425.9 L354.1 423.3 Z" fill="#40e040"/>
<path d="M361.3 417.7 L363.9 420.3 L361.3 422.9 L358.7 420.3 Z" fill="#40e040"/>
<path d="M372.0 421.1 L374.6 423.7 L372.0 426.3 L369.4 423.7 Z" fill="#40e040"/>
<path d="M377.5 425.4 L380.1 428.0 L377.5 430.6 L374.9 428.0 Z" fill="#40e040"/>
<circle cx="308.3" cy="428.0" r="2.4" fill="#1a1a90"/>
<text x="466.0" y="324.0" font-size="5.5" font-weight="normal" text-anchor="start" fill="#000" >y=0</text>
<circle cx="458.1" cy="328.1" r="1.9" fill="#fff" stroke="#222" stroke-width="0.9"/>
<text x="466.5" y="330.6" font-size="7.5" font-family="Liberation Serif" fill="#444">π</text>
<path d="M458.1 332.9 L460.2 336.7 L456.0 336.7 Z" fill="#fff" stroke="#1a1ac0" stroke-width="0.9"/>
<text x="466.5" y="337.5" font-size="7" font-weight="bold" fill="#111">K</text>
<circle cx="458.1" cy="342.0" r="2.2" fill="#000"/>
<text x="466.5" y="344.5" font-size="7" font-weight="bold" fill="#111">p</text>
<path d="M458.1 346.9 L460.1 350.5 L456.1 350.5 Z" fill="#1a1ac0"/>
<text x="466.5" y="351.4" font-size="7.5" font-family="Liberation Serif" fill="#444">Λ</text>
<rect x="455.9" y="353.6" width="4.4" height="4.4" fill="#e02424"/>
<text x="466.5" y="358.3" font-size="7.5" font-family="Liberation Serif" fill="#444">Ξ</text>
<path d="M458.1 360.4 L460.5 362.8 L458.1 365.1 L455.7 362.8 Z" fill="#40e040"/>
<text x="466.5" y="365.2" font-size="7.5" font-family="Liberation Serif" fill="#444">Ω</text>
<rect x="523.6" y="319.7" width="180.0" height="149.7" fill="none" stroke="#444" stroke-width="1"/>
<line x1="523.6" y1="469.5" x2="526.1" y2="469.5" stroke="#444" stroke-width="0.8" />
<line x1="701.1" y1="469.5" x2="703.6" y2="469.5" stroke="#444" stroke-width="0.8" />
<text x="520.5" y="472.2" font-size="7" font-weight="bold" text-anchor="end" fill="#000" >0.0</text>
<line x1="523.6" y1="444.6" x2="526.1" y2="444.6" stroke="#444" stroke-width="0.8" />
<line x1="701.1" y1="444.6" x2="703.6" y2="444.6" stroke="#444" stroke-width="0.8" />
<text x="520.5" y="447.2" font-size="7" font-weight="bold" text-anchor="end" fill="#000" >0.01</text>
<line x1="523.6" y1="419.6" x2="526.1" y2="419.6" stroke="#444" stroke-width="0.8" />
<line x1="701.1" y1="419.6" x2="703.6" y2="419.6" stroke="#444" stroke-width="0.8" />
<text x="520.5" y="422.3" font-size="7" font-weight="bold" text-anchor="end" fill="#000" >0.02</text>
<line x1="523.6" y1="394.6" x2="526.1" y2="394.6" stroke="#444" stroke-width="0.8" />
<line x1="701.1" y1="394.6" x2="703.6" y2="394.6" stroke="#444" stroke-width="0.8" />
<text x="520.5" y="397.3" font-size="7" font-weight="bold" text-anchor="end" fill="#000" >0.03</text>
<line x1="523.6" y1="369.7" x2="526.1" y2="369.7" stroke="#444" stroke-width="0.8" />
<line x1="701.1" y1="369.7" x2="703.6" y2="369.7" stroke="#444" stroke-width="0.8" />
<text x="520.5" y="372.4" font-size="7" font-weight="bold" text-anchor="end" fill="#000" >0.04</text>
<line x1="523.6" y1="344.8" x2="526.1" y2="344.8" stroke="#444" stroke-width="0.8" />
<line x1="701.1" y1="344.8" x2="703.6" y2="344.8" stroke="#444" stroke-width="0.8" />
<text x="520.5" y="347.4" font-size="7" font-weight="bold" text-anchor="end" fill="#000" >0.05</text>
<line x1="523.6" y1="319.7" x2="526.1" y2="319.7" stroke="#444" stroke-width="0.8" />
<line x1="701.1" y1="319.7" x2="703.6" y2="319.7" stroke="#444" stroke-width="0.8" />
<text x="520.5" y="322.4" font-size="7" font-weight="bold" text-anchor="end" fill="#000" >0.05</text>
<line x1="523.5" y1="469.4" x2="523.5" y2="466.9" stroke="#444" stroke-width="0.8" />
<line x1="523.5" y1="319.7" x2="523.5" y2="322.2" stroke="#444" stroke-width="0.8" />
<text x="523.5" y="478.0" font-size="6.5" font-weight="bold" text-anchor="middle" fill="#000" >-6</text>
<line x1="553.5" y1="469.4" x2="553.5" y2="466.9" stroke="#444" stroke-width="0.8" />
<line x1="553.5" y1="319.7" x2="553.5" y2="322.2" stroke="#444" stroke-width="0.8" />
<text x="553.5" y="478.0" font-size="6.5" font-weight="bold" text-anchor="middle" fill="#000" >-4</text>
<line x1="583.5" y1="469.4" x2="583.5" y2="466.9" stroke="#444" stroke-width="0.8" />
<line x1="583.5" y1="319.7" x2="583.5" y2="322.2" stroke="#444" stroke-width="0.8" />
<text x="583.5" y="478.0" font-size="6.5" font-weight="bold" text-anchor="middle" fill="#000" >-2</text>
<line x1="613.5" y1="469.4" x2="613.5" y2="466.9" stroke="#444" stroke-width="0.8" />
<line x1="613.5" y1="319.7" x2="613.5" y2="322.2" stroke="#444" stroke-width="0.8" />
<text x="613.5" y="478.0" font-size="6.5" font-weight="bold" text-anchor="middle" fill="#000" >0</text>
<line x1="643.5" y1="469.4" x2="643.5" y2="466.9" stroke="#444" stroke-width="0.8" />
<line x1="643.5" y1="319.7" x2="643.5" y2="322.2" stroke="#444" stroke-width="0.8" />
<text x="643.5" y="478.0" font-size="6.5" font-weight="bold" text-anchor="middle" fill="#000" >2</text>
<line x1="673.5" y1="469.4" x2="673.5" y2="466.9" stroke="#444" stroke-width="0.8" />
<line x1="673.5" y1="319.7" x2="673.5" y2="322.2" stroke="#444" stroke-width="0.8" />
<text x="673.5" y="478.0" font-size="6.5" font-weight="bold" text-anchor="middle" fill="#000" >4</text>
<line x1="703.5" y1="469.4" x2="703.5" y2="466.9" stroke="#444" stroke-width="0.8" />
<line x1="703.5" y1="319.7" x2="703.5" y2="322.2" stroke="#444" stroke-width="0.8" />
<text x="703.5" y="478.0" font-size="6.5" font-weight="bold" text-anchor="middle" fill="#000" >6</text>
<text x="613" y="484" font-size="8" font-family="Liberation Serif" font-style="italic" text-anchor="middle" fill="#333">η</text>
<text transform="translate(505,395) rotate(-90)" font-size="8" font-weight="bold" text-anchor="middle">v<tspan font-size="5" dy="1.2">2</tspan></text>
<text x="613.5" y="311.5" font-size="11" font-weight="normal" text-anchor="middle" fill="#000" stroke="#000" stroke-width="0.45">Au+Au, sqrt(s)=200 GeV</text>
<text x="530.0" y="335.0" font-size="9" font-weight="normal" text-anchor="start" fill="#000" stroke="#000" stroke-width="0.35">charged particles</text>
<text x="696.3" y="335.0" font-size="9" font-weight="normal" text-anchor="end" fill="#000" stroke="#000" stroke-width="0.35">central</text>
<polyline points="538.5,427.2 539.2,426.2 540.1,425.0 541.2,423.6 542.4,422.0 543.7,420.3 545.1,418.4 546.5,416.6 547.9,414.7 549.4,413.0 550.8,411.3 552.2,409.8 553.5,408.5 554.8,407.4 556.0,406.3 557.2,405.4 558.5,404.5 559.8,403.6 561.0,402.9 562.2,402.1 563.5,401.4 564.8,400.8 566.0,400.1 567.2,399.5 568.5,398.8 569.8,398.1 571.0,397.5 572.2,396.9 573.5,396.3 574.8,395.8 576.0,395.3 577.2,394.8 578.5,394.3 579.8,393.8 581.0,393.3 582.2,392.8 583.5,392.3 584.8,391.8 586.0,391.3 587.2,390.8 588.5,390.3 589.8,389.9 591.0,389.4 592.2,388.9 593.5,388.5 594.8,388.1 596.0,387.7 597.2,387.4 598.5,387.1 599.8,386.8 601.0,386.6 602.2,386.4 603.5,386.2 604.8,386.0 606.0,385.9 607.2,385.8 608.5,385.7 609.8,385.7 611.0,385.6 612.2,385.6 613.5,385.6 614.8,385.6 616.0,385.6 617.2,385.7 618.5,385.7 619.8,385.8 621.0,385.9 622.2,386.0 623.5,386.2 624.8,386.4 626.0,386.6 627.2,386.8 628.5,387.1 629.8,387.4 631.0,387.7 632.2,388.1 633.5,388.5 634.8,388.9 636.0,389.4 637.2,389.9 638.5,390.3 639.8,390.8 641.0,391.3 642.2,391.8 643.5,392.3 644.8,392.8 646.0,393.3 647.2,393.8 648.5,394.3 649.8,394.8 651.0,395.3 652.2,395.8 653.5,396.3 654.8,396.9 656.0,397.5 657.2,398.1 658.5,398.8 659.8,399.5 661.0,400.1 662.2,400.8 663.5,401.4 664.8,402.1 666.0,402.9 667.2,403.6 668.5,404.5 669.8,405.4 671.0,406.3 672.2,407.4 673.5,408.5 674.8,409.8 676.2,411.3 677.6,413.0 679.1,414.7 680.5,416.6 681.9,418.4 683.3,420.3 684.6,422.0 685.8,423.6 686.9,425.0 687.8,426.2 688.5,427.2" fill="none" stroke="#d42020" stroke-width="2"/>
<polyline points="538.5,461.0 539.2,460.0 540.1,458.8 541.2,457.2 542.4,455.5 543.7,453.7 545.1,451.8 546.5,449.8 547.9,447.8 549.4,445.9 550.8,444.1 552.2,442.4 553.5,440.9 554.8,439.5 556.0,438.2 557.2,437.0 558.5,435.8 559.8,434.7 561.0,433.7 562.2,432.6 563.5,431.6 564.8,430.6 566.0,429.6 567.2,428.6 568.5,427.7 569.8,426.7 571.0,425.7 572.2,424.8 573.5,423.8 574.8,422.9 576.0,422.0 577.2,421.2 578.5,420.3 579.8,419.5 581.0,418.7 582.2,418.0 583.5,417.2 584.8,416.5 586.0,415.8 587.2,415.1 588.5,414.4 589.8,413.8 591.0,413.2 592.2,412.6 593.5,412.1 594.8,411.5 596.0,411.1 597.2,410.6 598.5,410.2 599.8,409.9 601.0,409.6 602.2,409.3 603.5,409.1 604.8,408.9 606.0,408.7 607.2,408.5 608.5,408.4 609.8,408.3 611.0,408.3 612.2,408.3 613.5,408.2 614.8,408.3 616.0,408.3 617.2,408.3 618.5,408.4 619.8,408.5 621.0,408.7 622.2,408.9 623.5,409.1 624.8,409.3 626.0,409.6 627.2,409.9 628.5,410.2 629.8,410.6 631.0,411.1 632.2,411.5 633.5,412.1 634.8,412.6 636.0,413.2 637.2,413.8 638.5,414.4 639.8,415.1 641.0,415.8 642.2,416.5 643.5,417.2 644.8,418.0 646.0,418.7 647.2,419.5 648.5,420.3 649.8,421.2 651.0,422.0 652.2,422.9 653.5,423.9 654.8,424.8 656.0,425.7 657.2,426.7 658.5,427.7 659.8,428.6 661.0,429.6 662.2,430.6 663.5,431.6 664.8,432.6 666.0,433.7 667.2,434.7 668.5,435.8 669.8,437.0 671.0,438.2 672.2,439.5 673.5,440.9 674.8,442.4 676.2,444.1 677.6,445.9 679.1,447.8 680.5,449.8 681.9,451.8 683.3,453.7 684.6,455.5 685.8,457.2 686.9,458.8 687.8,460.0 688.5,461.0" fill="none" stroke="#d42020" stroke-width="2" stroke-dasharray="5,3.2"/>
<line x1="553.5" y1="435.0" x2="553.5" y2="447.0" stroke="#1a2ad0" stroke-width="0.8" />
<line x1="552.0" y1="435.0" x2="555.0" y2="435.0" stroke="#1a2ad0" stroke-width="0.8" />
<line x1="552.0" y1="447.0" x2="555.0" y2="447.0" stroke="#1a2ad0" stroke-width="0.8" />
<circle cx="553.5" cy="441.0" r="2.4" fill="#fff" stroke="#1a2ad0" stroke-width="1.0"/>
<line x1="563.5" y1="434.7" x2="563.5" y2="446.7" stroke="#1a2ad0" stroke-width="0.8" />
<line x1="562.0" y1="434.7" x2="565.0" y2="434.7" stroke="#1a2ad0" stroke-width="0.8" />
<line x1="562.0" y1="446.7" x2="565.0" y2="446.7" stroke="#1a2ad0" stroke-width="0.8" />
<circle cx="563.5" cy="440.7" r="2.4" fill="#fff" stroke="#1a2ad0" stroke-width="1.0"/>
<line x1="577.0" y1="422.5" x2="577.0" y2="434.5" stroke="#1a2ad0" stroke-width="0.8" />
<line x1="575.5" y1="422.5" x2="578.5" y2="422.5" stroke="#1a2ad0" stroke-width="0.8" />
<line x1="575.5" y1="434.5" x2="578.5" y2="434.5" stroke="#1a2ad0" stroke-width="0.8" />
<circle cx="577.0" cy="428.5" r="2.4" fill="#fff" stroke="#1a2ad0" stroke-width="1.0"/>
<line x1="588.6" y1="407.6" x2="588.6" y2="419.6" stroke="#1a2ad0" stroke-width="0.8" />
<line x1="587.1" y1="407.6" x2="590.1" y2="407.6" stroke="#1a2ad0" stroke-width="0.8" />
<line x1="587.1" y1="419.6" x2="590.1" y2="419.6" stroke="#1a2ad0" stroke-width="0.8" />
<circle cx="588.6" cy="413.6" r="2.4" fill="#fff" stroke="#1a2ad0" stroke-width="1.0"/>
<line x1="600.8" y1="406.2" x2="600.8" y2="418.2" stroke="#1a2ad0" stroke-width="0.8" />
<line x1="599.3" y1="406.2" x2="602.3" y2="406.2" stroke="#1a2ad0" stroke-width="0.8" />
<line x1="599.3" y1="418.2" x2="602.3" y2="418.2" stroke="#1a2ad0" stroke-width="0.8" />
<circle cx="600.8" cy="412.2" r="2.4" fill="#fff" stroke="#1a2ad0" stroke-width="1.0"/>
<line x1="613.2" y1="402.5" x2="613.2" y2="414.5" stroke="#1a2ad0" stroke-width="0.8" />
<line x1="611.7" y1="402.5" x2="614.7" y2="402.5" stroke="#1a2ad0" stroke-width="0.8" />
<line x1="611.7" y1="414.5" x2="614.7" y2="414.5" stroke="#1a2ad0" stroke-width="0.8" />
<circle cx="613.2" cy="408.5" r="2.4" fill="#fff" stroke="#1a2ad0" stroke-width="1.0"/>
<line x1="624.8" y1="411.7" x2="624.8" y2="423.7" stroke="#1a2ad0" stroke-width="0.8" />
<line x1="623.3" y1="411.7" x2="626.3" y2="411.7" stroke="#1a2ad0" stroke-width="0.8" />
<line x1="623.3" y1="423.7" x2="626.3" y2="423.7" stroke="#1a2ad0" stroke-width="0.8" />
<circle cx="624.8" cy="417.7" r="2.4" fill="#fff" stroke="#1a2ad0" stroke-width="1.0"/>
<line x1="637.0" y1="413.7" x2="637.0" y2="425.7" stroke="#1a2ad0" stroke-width="0.8" />
<line x1="635.5" y1="413.7" x2="638.5" y2="413.7" stroke="#1a2ad0" stroke-width="0.8" />
<line x1="635.5" y1="425.7" x2="638.5" y2="425.7" stroke="#1a2ad0" stroke-width="0.8" />
<circle cx="637.0" cy="419.7" r="2.4" fill="#fff" stroke="#1a2ad0" stroke-width="1.0"/>
<line x1="649.3" y1="411.7" x2="649.3" y2="423.7" stroke="#1a2ad0" stroke-width="0.8" />
<line x1="647.8" y1="411.7" x2="650.8" y2="411.7" stroke="#1a2ad0" stroke-width="0.8" />
<line x1="647.8" y1="423.7" x2="650.8" y2="423.7" stroke="#1a2ad0" stroke-width="0.8" />
<circle cx="649.3" cy="417.7" r="2.4" fill="#fff" stroke="#1a2ad0" stroke-width="1.0"/>
<line x1="661.0" y1="421.9" x2="661.0" y2="433.9" stroke="#1a2ad0" stroke-width="0.8" />
<line x1="659.5" y1="421.9" x2="662.5" y2="421.9" stroke="#1a2ad0" stroke-width="0.8" />
<line x1="659.5" y1="433.9" x2="662.5" y2="433.9" stroke="#1a2ad0" stroke-width="0.8" />
<circle cx="661.0" cy="427.9" r="2.4" fill="#fff" stroke="#1a2ad0" stroke-width="1.0"/>
<line x1="673.7" y1="435.1" x2="673.7" y2="447.1" stroke="#1a2ad0" stroke-width="0.8" />
<line x1="672.2" y1="435.1" x2="675.2" y2="435.1" stroke="#1a2ad0" stroke-width="0.8" />
<line x1="672.2" y1="447.1" x2="675.2" y2="447.1" stroke="#1a2ad0" stroke-width="0.8" />
<circle cx="673.7" cy="441.1" r="2.4" fill="#fff" stroke="#1a2ad0" stroke-width="1.0"/>
<line x1="618.0" y1="385.6" x2="618.0" y2="397.6" stroke="#333" stroke-width="0.7" />
<line x1="616.7" y1="385.6" x2="619.3" y2="385.6" stroke="#333" stroke-width="0.7" />
<line x1="616.7" y1="397.6" x2="619.3" y2="397.6" stroke="#333" stroke-width="0.7" />
<path d="M618.0 387.9 L620.7 392.8 L615.3 392.8 Z" fill="#111"/>
<line x1="624.4" y1="385.2" x2="624.4" y2="397.2" stroke="#333" stroke-width="0.7" />
<line x1="623.1" y1="385.2" x2="625.7" y2="385.2" stroke="#333" stroke-width="0.7" />
<line x1="623.1" y1="397.2" x2="625.7" y2="397.2" stroke="#333" stroke-width="0.7" />
<path d="M624.4 387.5 L627.1 392.4 L621.7 392.4 Z" fill="#111"/>
<line x1="631.6" y1="389.7" x2="631.6" y2="401.7" stroke="#333" stroke-width="0.7" />
<line x1="630.3" y1="389.7" x2="632.9" y2="389.7" stroke="#333" stroke-width="0.7" />
<line x1="630.3" y1="401.7" x2="632.9" y2="401.7" stroke="#333" stroke-width="0.7" />
<path d="M631.6 392.0 L634.3 396.9 L628.9 396.9 Z" fill="#111"/>
<line x1="639.7" y1="391.3" x2="639.7" y2="403.3" stroke="#333" stroke-width="0.7" />
<line x1="638.4" y1="391.3" x2="641.0" y2="391.3" stroke="#333" stroke-width="0.7" />
<line x1="638.4" y1="403.3" x2="641.0" y2="403.3" stroke="#333" stroke-width="0.7" />
<path d="M639.7 393.6 L642.4 398.5 L637.0 398.5 Z" fill="#111"/>
<line x1="659.0" y1="408.6" x2="659.0" y2="420.6" stroke="#333" stroke-width="0.7" />
<line x1="657.7" y1="408.6" x2="660.3" y2="408.6" stroke="#333" stroke-width="0.7" />
<line x1="657.7" y1="420.6" x2="660.3" y2="420.6" stroke="#333" stroke-width="0.7" />
<path d="M659.0 410.9 L661.7 415.8 L656.3 415.8 Z" fill="#111"/>
<line x1="668.2" y1="407.2" x2="668.2" y2="419.2" stroke="#333" stroke-width="0.7" />
<line x1="666.9" y1="407.2" x2="669.5" y2="407.2" stroke="#333" stroke-width="0.7" />
<line x1="666.9" y1="419.2" x2="669.5" y2="419.2" stroke="#333" stroke-width="0.7" />
<path d="M668.2 409.5 L670.9 414.4 L665.5 414.4 Z" fill="#111"/>
<line x1="675.0" y1="429.0" x2="675.0" y2="441.0" stroke="#333" stroke-width="0.7" />
<line x1="673.7" y1="429.0" x2="676.3" y2="429.0" stroke="#333" stroke-width="0.7" />
<line x1="673.7" y1="441.0" x2="676.3" y2="441.0" stroke="#333" stroke-width="0.7" />
<path d="M675.0 431.3 L677.7 436.2 L672.3 436.2 Z" fill="#111"/>
<line x1="688.0" y1="429.0" x2="688.0" y2="441.0" stroke="#333" stroke-width="0.7" />
<line x1="686.7" y1="429.0" x2="689.3" y2="429.0" stroke="#333" stroke-width="0.7" />
<line x1="686.7" y1="441.0" x2="689.3" y2="441.0" stroke="#333" stroke-width="0.7" />
<path d="M688.0 431.3 L690.7 436.2 L685.3 436.2 Z" fill="#111"/>
<line x1="553.4" y1="438.5" x2="553.4" y2="448.5" stroke="#1a2ad0" stroke-width="0.7" />
<line x1="552.1" y1="438.5" x2="554.7" y2="438.5" stroke="#1a2ad0" stroke-width="0.7" />
<line x1="552.1" y1="448.5" x2="554.7" y2="448.5" stroke="#1a2ad0" stroke-width="0.7" />
<circle cx="553.4" cy="443.5" r="2.75" fill="#1a2ad0"/>
<line x1="563.5" y1="431.6" x2="563.5" y2="441.6" stroke="#1a2ad0" stroke-width="0.7" />
<line x1="562.2" y1="431.6" x2="564.8" y2="431.6" stroke="#1a2ad0" stroke-width="0.7" />
<line x1="562.2" y1="441.6" x2="564.8" y2="441.6" stroke="#1a2ad0" stroke-width="0.7" />
<circle cx="563.5" cy="436.6" r="2.75" fill="#1a2ad0"/>
<line x1="572.9" y1="407.6" x2="572.9" y2="417.6" stroke="#1a2ad0" stroke-width="0.7" />
<line x1="571.6" y1="407.6" x2="574.2" y2="407.6" stroke="#1a2ad0" stroke-width="0.7" />
<line x1="571.6" y1="417.6" x2="574.2" y2="417.6" stroke="#1a2ad0" stroke-width="0.7" />
<circle cx="572.9" cy="412.6" r="2.75" fill="#1a2ad0"/>
<line x1="583.0" y1="390.9" x2="583.0" y2="400.9" stroke="#1a2ad0" stroke-width="0.7" />
<line x1="581.7" y1="390.9" x2="584.3" y2="390.9" stroke="#1a2ad0" stroke-width="0.7" />
<line x1="581.7" y1="400.9" x2="584.3" y2="400.9" stroke="#1a2ad0" stroke-width="0.7" />
<circle cx="583.0" cy="395.9" r="2.75" fill="#1a2ad0"/>
<line x1="593.3" y1="389.3" x2="593.3" y2="399.3" stroke="#1a2ad0" stroke-width="0.7" />
<line x1="592.0" y1="389.3" x2="594.6" y2="389.3" stroke="#1a2ad0" stroke-width="0.7" />
<line x1="592.0" y1="399.3" x2="594.6" y2="399.3" stroke="#1a2ad0" stroke-width="0.7" />
<circle cx="593.3" cy="394.3" r="2.75" fill="#1a2ad0"/>
<line x1="603.5" y1="386.8" x2="603.5" y2="396.8" stroke="#1a2ad0" stroke-width="0.7" />
<line x1="602.2" y1="386.8" x2="604.8" y2="386.8" stroke="#1a2ad0" stroke-width="0.7" />
<line x1="602.2" y1="396.8" x2="604.8" y2="396.8" stroke="#1a2ad0" stroke-width="0.7" />
<circle cx="603.5" cy="391.8" r="2.75" fill="#1a2ad0"/>
<line x1="613.2" y1="391.3" x2="613.2" y2="401.3" stroke="#1a2ad0" stroke-width="0.7" />
<line x1="611.9" y1="391.3" x2="614.5" y2="391.3" stroke="#1a2ad0" stroke-width="0.7" />
<line x1="611.9" y1="401.3" x2="614.5" y2="401.3" stroke="#1a2ad0" stroke-width="0.7" />
<circle cx="613.2" cy="396.3" r="2.75" fill="#1a2ad0"/>
<line x1="623.4" y1="390.3" x2="623.4" y2="400.3" stroke="#1a2ad0" stroke-width="0.7" />
<line x1="622.1" y1="390.3" x2="624.7" y2="390.3" stroke="#1a2ad0" stroke-width="0.7" />
<line x1="622.1" y1="400.3" x2="624.7" y2="400.3" stroke="#1a2ad0" stroke-width="0.7" />
<circle cx="623.4" cy="395.3" r="2.75" fill="#1a2ad0"/>
<line x1="633.0" y1="393.7" x2="633.0" y2="403.7" stroke="#1a2ad0" stroke-width="0.7" />
<line x1="631.7" y1="393.7" x2="634.3" y2="393.7" stroke="#1a2ad0" stroke-width="0.7" />
<line x1="631.7" y1="403.7" x2="634.3" y2="403.7" stroke="#1a2ad0" stroke-width="0.7" />
<circle cx="633.0" cy="398.7" r="2.75" fill="#1a2ad0"/>
<line x1="642.8" y1="390.3" x2="642.8" y2="400.3" stroke="#1a2ad0" stroke-width="0.7" />
<line x1="641.5" y1="390.3" x2="644.1" y2="390.3" stroke="#1a2ad0" stroke-width="0.7" />
<line x1="641.5" y1="400.3" x2="644.1" y2="400.3" stroke="#1a2ad0" stroke-width="0.7" />
<circle cx="642.8" cy="395.3" r="2.75" fill="#1a2ad0"/>
<line x1="653.0" y1="389.7" x2="653.0" y2="399.7" stroke="#1a2ad0" stroke-width="0.7" />
<line x1="651.7" y1="389.7" x2="654.3" y2="389.7" stroke="#1a2ad0" stroke-width="0.7" />
<line x1="651.7" y1="399.7" x2="654.3" y2="399.7" stroke="#1a2ad0" stroke-width="0.7" />
<circle cx="653.0" cy="394.7" r="2.75" fill="#1a2ad0"/>
<line x1="663.5" y1="417.8" x2="663.5" y2="427.8" stroke="#1a2ad0" stroke-width="0.7" />
<line x1="662.2" y1="417.8" x2="664.8" y2="417.8" stroke="#1a2ad0" stroke-width="0.7" />
<line x1="662.2" y1="427.8" x2="664.8" y2="427.8" stroke="#1a2ad0" stroke-width="0.7" />
<circle cx="663.5" cy="422.8" r="2.75" fill="#1a2ad0"/>
<line x1="673.3" y1="443.2" x2="673.3" y2="453.2" stroke="#1a2ad0" stroke-width="0.7" />
<line x1="672.0" y1="443.2" x2="674.6" y2="443.2" stroke="#1a2ad0" stroke-width="0.7" />
<line x1="672.0" y1="453.2" x2="674.6" y2="453.2" stroke="#1a2ad0" stroke-width="0.7" />
<circle cx="673.3" cy="448.2" r="2.75" fill="#1a2ad0"/>
<path d="M582.5 432.6 L584.5 436.2 L580.5 436.2 Z" fill="#111"/>
<circle cx="582.5" cy="441.5" r="2.6" fill="#1a2ad0"/>
<circle cx="582.5" cy="448.2" r="2.2" fill="#fff" stroke="#1a2ad0" stroke-width="1"/>
<line x1="589.6" y1="455.8" x2="599.8" y2="455.8" stroke="#d42020" stroke-width="2" />
<line x1="589.6" y1="462.5" x2="599.8" y2="462.5" stroke="#d42020" stroke-width="2" stroke-dasharray="3.5,2.5"/>
<text x="604.0" y="436.9" font-size="7" font-weight="normal" text-anchor="start" fill="#000" stroke="#000" stroke-width="0.3">PHOBOS</text>
<text x="604.0" y="444.0" font-size="7" font-weight="normal" text-anchor="start" fill="#000" stroke="#000" stroke-width="0.3">Hydro+UrQMD</text>
<text x="604.0" y="451.1" font-size="7" font-weight="normal" text-anchor="start" fill="#000" stroke="#000" stroke-width="0.3">Hydro+decay</text>
<text x="604.0" y="458.2" font-size="7" font-weight="normal" text-anchor="start" fill="#000" stroke="#000" stroke-width="0.3">Hydro</text>
<text x="604.0" y="465.3" font-size="7" font-weight="normal" text-anchor="start" fill="#000" stroke="#000" stroke-width="0.3">Hydro@T<tspan font-size="5" dy="1.5">sw</tspan></text>
<text x="685.3" y="465.3" font-size="10.2" font-weight="bold" text-anchor="start" fill="#000" >(a)</text>
</svg>
<div style="position:absolute;top:23px;font:italic bold 37.5px 'Liberation Sans',sans-serif;color:#0a0acc;-webkit-text-stroke:0.6px #0a0acc;white-space:nowrap;transform-origin:0 0;left:20.5px;">Highlights</div><div style="position:absolute;top:23px;font:italic bold 37.5px 'Liberation Sans',sans-serif;color:#0a0acc;-webkit-text-stroke:0.6px #0a0acc;white-space:nowrap;transform-origin:0 0;left:215px;transform:scaleX(0.85);">of</div><div style="position:absolute;top:23px;font:italic bold 37.5px 'Liberation Sans',sans-serif;color:#0a0acc;-webkit-text-stroke:0.6px #0a0acc;white-space:nowrap;transform-origin:0 0;left:261px;">3D</div><div style="position:absolute;top:23px;font:italic bold 37.5px 'Liberation Sans',sans-serif;color:#0a0acc;-webkit-text-stroke:0.6px #0a0acc;white-space:nowrap;transform-origin:0 0;left:321.5px;letter-spacing:1px;">hydro+UrQMD</div><div style="position:absolute;left:373.5px;top:60.5px;letter-spacing:0.8px;font:italic 16.5px 'Liberation Sans',sans-serif;color:#000;white-space:nowrap;" id="sub">Nonaka and Bass PRC75:014902(2007)</div><div style="position:absolute;left:27px;top:274px;font:20px 'Liberation Sans',sans-serif;color:#000;white-space:nowrap;" id="rhic">@RHIC</div><div style="position:absolute;left:51px;top:511px;letter-spacing:0.3px;font:14.8px 'Liberation Sans',sans-serif;color:#c8187c;white-space:nowrap;" id="nonaka">C.NONAKA</div><div style="position:absolute;left:661px;top:514.5px;font:18px 'Liberation Sans',sans-serif;color:#4a0c4a;white-space:nowrap;" id="kmiin">KMIIN</div>
</body></html>
